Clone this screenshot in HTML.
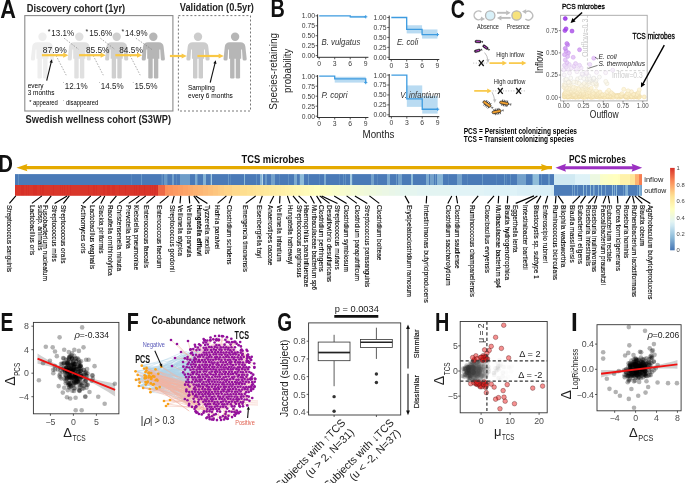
<!DOCTYPE html>
<html><head><meta charset="utf-8"><title>Figure</title><style>html,body{margin:0;padding:0;background:#fff;overflow:hidden;}svg{display:block;}text{font-family:"Liberation Sans",Arial,sans-serif;}</style></head><body>
<svg width="685" height="483" viewBox="0 0 685 483"><defs><linearGradient id="gin" gradientUnits="userSpaceOnUse" x1="15" y1="0" x2="642" y2="0"><stop offset="0.0000" stop-color="#4a7ab7"/><stop offset="0.0048" stop-color="#4a7ab7"/><stop offset="0.0048" stop-color="#6090c2"/><stop offset="0.0064" stop-color="#6090c2"/><stop offset="0.0064" stop-color="#4a7ab7"/><stop offset="0.1850" stop-color="#4a7ab7"/><stop offset="0.1850" stop-color="#5787bd"/><stop offset="0.1866" stop-color="#5787bd"/><stop offset="0.1866" stop-color="#4a7ab7"/><stop offset="0.2010" stop-color="#4a7ab7"/><stop offset="0.2010" stop-color="#6999c7"/><stop offset="0.2026" stop-color="#6999c7"/><stop offset="0.2026" stop-color="#4a7ab7"/><stop offset="0.2329" stop-color="#4a7ab7"/><stop offset="0.2329" stop-color="#5787bd"/><stop offset="0.2344" stop-color="#5787bd"/><stop offset="0.2344" stop-color="#6090c2"/><stop offset="0.2360" stop-color="#6090c2"/><stop offset="0.2360" stop-color="#4a7ab7"/><stop offset="0.2376" stop-color="#4a7ab7"/><stop offset="0.2376" stop-color="#6999c7"/><stop offset="0.2424" stop-color="#6999c7"/><stop offset="0.2424" stop-color="#5787bd"/><stop offset="0.2440" stop-color="#5787bd"/><stop offset="0.2440" stop-color="#4a7ab7"/><stop offset="0.2504" stop-color="#4a7ab7"/><stop offset="0.2504" stop-color="#73a1cb"/><stop offset="0.2536" stop-color="#73a1cb"/><stop offset="0.2536" stop-color="#4a7ab7"/><stop offset="0.2568" stop-color="#4a7ab7"/><stop offset="0.2568" stop-color="#5787bd"/><stop offset="0.2584" stop-color="#5787bd"/><stop offset="0.2584" stop-color="#4a7ab7"/><stop offset="0.2632" stop-color="#4a7ab7"/><stop offset="0.2632" stop-color="#6e9dc9"/><stop offset="0.2791" stop-color="#6e9dc9"/><stop offset="0.2791" stop-color="#4a7ab7"/><stop offset="0.2871" stop-color="#4a7ab7"/><stop offset="0.2871" stop-color="#7caad0"/><stop offset="0.2903" stop-color="#7caad0"/><stop offset="0.2903" stop-color="#6090c2"/><stop offset="0.2919" stop-color="#6090c2"/><stop offset="0.2919" stop-color="#4a7ab7"/><stop offset="0.2998" stop-color="#4a7ab7"/><stop offset="0.2998" stop-color="#85b3d5"/><stop offset="0.3046" stop-color="#85b3d5"/><stop offset="0.3046" stop-color="#4a7ab7"/><stop offset="0.3110" stop-color="#4a7ab7"/><stop offset="0.3110" stop-color="#6090c2"/><stop offset="0.3126" stop-color="#6090c2"/><stop offset="0.3126" stop-color="#a1c9e1"/><stop offset="0.3142" stop-color="#a1c9e1"/><stop offset="0.3142" stop-color="#4a7ab7"/><stop offset="0.3397" stop-color="#4a7ab7"/><stop offset="0.3397" stop-color="#6999c7"/><stop offset="0.3413" stop-color="#6999c7"/><stop offset="0.3413" stop-color="#4a7ab7"/><stop offset="0.3429" stop-color="#4a7ab7"/><stop offset="0.3429" stop-color="#5787bd"/><stop offset="0.3445" stop-color="#5787bd"/><stop offset="0.3445" stop-color="#4a7ab7"/><stop offset="0.3652" stop-color="#4a7ab7"/><stop offset="0.3652" stop-color="#8ebcd9"/><stop offset="0.3668" stop-color="#8ebcd9"/><stop offset="0.3668" stop-color="#4a7ab7"/><stop offset="0.3844" stop-color="#4a7ab7"/><stop offset="0.3844" stop-color="#6090c2"/><stop offset="0.3860" stop-color="#6090c2"/><stop offset="0.3860" stop-color="#4a7ab7"/><stop offset="0.3907" stop-color="#4a7ab7"/><stop offset="0.3907" stop-color="#85b3d5"/><stop offset="0.3939" stop-color="#85b3d5"/><stop offset="0.3939" stop-color="#b4d6e8"/><stop offset="0.3955" stop-color="#b4d6e8"/><stop offset="0.3955" stop-color="#4a7ab7"/><stop offset="0.3987" stop-color="#4a7ab7"/><stop offset="0.3987" stop-color="#6999c7"/><stop offset="0.4019" stop-color="#6999c7"/><stop offset="0.4019" stop-color="#4a7ab7"/><stop offset="0.4083" stop-color="#4a7ab7"/><stop offset="0.4083" stop-color="#73a1cb"/><stop offset="0.4147" stop-color="#73a1cb"/><stop offset="0.4147" stop-color="#4a7ab7"/><stop offset="0.4211" stop-color="#4a7ab7"/><stop offset="0.4211" stop-color="#5787bd"/><stop offset="0.4226" stop-color="#5787bd"/><stop offset="0.4226" stop-color="#4a7ab7"/><stop offset="0.4354" stop-color="#4a7ab7"/><stop offset="0.4354" stop-color="#6090c2"/><stop offset="0.4370" stop-color="#6090c2"/><stop offset="0.4370" stop-color="#4a7ab7"/><stop offset="0.4450" stop-color="#4a7ab7"/><stop offset="0.4450" stop-color="#7caad0"/><stop offset="0.4498" stop-color="#7caad0"/><stop offset="0.4498" stop-color="#4a7ab7"/><stop offset="0.4530" stop-color="#4a7ab7"/><stop offset="0.4530" stop-color="#5787bd"/><stop offset="0.4545" stop-color="#5787bd"/><stop offset="0.4545" stop-color="#8ebcd9"/><stop offset="0.4609" stop-color="#8ebcd9"/><stop offset="0.4609" stop-color="#4a7ab7"/><stop offset="0.4673" stop-color="#4a7ab7"/><stop offset="0.4673" stop-color="#6999c7"/><stop offset="0.4689" stop-color="#6999c7"/><stop offset="0.4689" stop-color="#4a7ab7"/><stop offset="0.4848" stop-color="#4a7ab7"/><stop offset="0.4848" stop-color="#5787bd"/><stop offset="0.4864" stop-color="#5787bd"/><stop offset="0.4864" stop-color="#4a7ab7"/><stop offset="0.4928" stop-color="#4a7ab7"/><stop offset="0.4928" stop-color="#7caad0"/><stop offset="0.4960" stop-color="#7caad0"/><stop offset="0.4960" stop-color="#4a7ab7"/><stop offset="0.5167" stop-color="#4a7ab7"/><stop offset="0.5167" stop-color="#5787bd"/><stop offset="0.5183" stop-color="#5787bd"/><stop offset="0.5183" stop-color="#4a7ab7"/><stop offset="0.5231" stop-color="#4a7ab7"/><stop offset="0.5231" stop-color="#6090c2"/><stop offset="0.5247" stop-color="#6090c2"/><stop offset="0.5247" stop-color="#4a7ab7"/><stop offset="0.5263" stop-color="#4a7ab7"/><stop offset="0.5263" stop-color="#6090c2"/><stop offset="0.5279" stop-color="#6090c2"/><stop offset="0.5279" stop-color="#4a7ab7"/><stop offset="0.5343" stop-color="#4a7ab7"/><stop offset="0.5343" stop-color="#a1c9e1"/><stop offset="0.5375" stop-color="#a1c9e1"/><stop offset="0.5375" stop-color="#5787bd"/><stop offset="0.5391" stop-color="#5787bd"/><stop offset="0.5391" stop-color="#4a7ab7"/><stop offset="0.5678" stop-color="#4a7ab7"/><stop offset="0.5678" stop-color="#73a1cb"/><stop offset="0.5726" stop-color="#73a1cb"/><stop offset="0.5726" stop-color="#4a7ab7"/><stop offset="0.5774" stop-color="#4a7ab7"/><stop offset="0.5774" stop-color="#5787bd"/><stop offset="0.5789" stop-color="#5787bd"/><stop offset="0.5789" stop-color="#4a7ab7"/><stop offset="0.5933" stop-color="#4a7ab7"/><stop offset="0.5933" stop-color="#7caad0"/><stop offset="0.5981" stop-color="#7caad0"/><stop offset="0.5981" stop-color="#4a7ab7"/><stop offset="0.6077" stop-color="#4a7ab7"/><stop offset="0.6077" stop-color="#6999c7"/><stop offset="0.6093" stop-color="#6999c7"/><stop offset="0.6093" stop-color="#4a7ab7"/><stop offset="0.6108" stop-color="#4a7ab7"/><stop offset="0.6108" stop-color="#73a1cb"/><stop offset="0.6172" stop-color="#73a1cb"/><stop offset="0.6172" stop-color="#4a7ab7"/><stop offset="0.6316" stop-color="#4a7ab7"/><stop offset="0.6316" stop-color="#8ebcd9"/><stop offset="0.6348" stop-color="#8ebcd9"/><stop offset="0.6348" stop-color="#4a7ab7"/><stop offset="0.6555" stop-color="#4a7ab7"/><stop offset="0.6555" stop-color="#7caad0"/><stop offset="0.6603" stop-color="#7caad0"/><stop offset="0.6603" stop-color="#4a7ab7"/><stop offset="0.6619" stop-color="#4a7ab7"/><stop offset="0.6619" stop-color="#73a1cb"/><stop offset="0.6683" stop-color="#73a1cb"/><stop offset="0.6683" stop-color="#4a7ab7"/><stop offset="0.6699" stop-color="#4a7ab7"/><stop offset="0.6699" stop-color="#6999c7"/><stop offset="0.6715" stop-color="#6999c7"/><stop offset="0.6715" stop-color="#4a7ab7"/><stop offset="0.6730" stop-color="#4a7ab7"/><stop offset="0.6730" stop-color="#85b3d5"/><stop offset="0.6826" stop-color="#85b3d5"/><stop offset="0.6826" stop-color="#4a7ab7"/><stop offset="0.6906" stop-color="#4a7ab7"/><stop offset="0.6906" stop-color="#5787bd"/><stop offset="0.6922" stop-color="#5787bd"/><stop offset="0.6922" stop-color="#4a7ab7"/><stop offset="0.7049" stop-color="#4a7ab7"/><stop offset="0.7049" stop-color="#73a1cb"/><stop offset="0.7129" stop-color="#73a1cb"/><stop offset="0.7129" stop-color="#4a7ab7"/><stop offset="0.7209" stop-color="#4a7ab7"/><stop offset="0.7209" stop-color="#5787bd"/><stop offset="0.7225" stop-color="#5787bd"/><stop offset="0.7225" stop-color="#4a7ab7"/><stop offset="0.7448" stop-color="#4a7ab7"/><stop offset="0.7448" stop-color="#6999c7"/><stop offset="0.7464" stop-color="#6999c7"/><stop offset="0.7464" stop-color="#4a7ab7"/><stop offset="0.7671" stop-color="#4a7ab7"/><stop offset="0.7671" stop-color="#5787bd"/><stop offset="0.7687" stop-color="#5787bd"/><stop offset="0.7687" stop-color="#4a7ab7"/><stop offset="0.7799" stop-color="#4a7ab7"/><stop offset="0.7799" stop-color="#6999c7"/><stop offset="0.7815" stop-color="#6999c7"/><stop offset="0.7815" stop-color="#4a7ab7"/><stop offset="0.7831" stop-color="#4a7ab7"/><stop offset="0.7831" stop-color="#5787bd"/><stop offset="0.7847" stop-color="#5787bd"/><stop offset="0.7847" stop-color="#4a7ab7"/><stop offset="0.7895" stop-color="#4a7ab7"/><stop offset="0.7895" stop-color="#6090c2"/><stop offset="0.7911" stop-color="#6090c2"/><stop offset="0.7911" stop-color="#4a7ab7"/><stop offset="0.8006" stop-color="#4a7ab7"/><stop offset="0.8006" stop-color="#73a1cb"/><stop offset="0.8150" stop-color="#73a1cb"/><stop offset="0.8150" stop-color="#4a7ab7"/><stop offset="0.8246" stop-color="#4a7ab7"/><stop offset="0.8246" stop-color="#6999c7"/><stop offset="0.8262" stop-color="#6999c7"/><stop offset="0.8262" stop-color="#8ebcd9"/><stop offset="0.8357" stop-color="#8ebcd9"/><stop offset="0.8357" stop-color="#4a7ab7"/><stop offset="0.8389" stop-color="#4a7ab7"/><stop offset="0.8389" stop-color="#6090c2"/><stop offset="0.8405" stop-color="#6090c2"/><stop offset="0.8405" stop-color="#4a7ab7"/><stop offset="0.8501" stop-color="#4a7ab7"/><stop offset="0.8501" stop-color="#6999c7"/><stop offset="0.8533" stop-color="#6999c7"/><stop offset="0.8533" stop-color="#4a7ab7"/><stop offset="0.8596" stop-color="#4a7ab7"/><stop offset="0.8596" stop-color="#d0e9f2"/><stop offset="0.8931" stop-color="#d0e9f2"/><stop offset="0.8931" stop-color="#def2f7"/><stop offset="0.9171" stop-color="#def2f7"/><stop offset="0.9171" stop-color="#ecf8e1"/><stop offset="0.9330" stop-color="#ecf8e1"/><stop offset="0.9330" stop-color="#f9fdc9"/><stop offset="0.9378" stop-color="#f9fdc9"/><stop offset="0.9378" stop-color="#fbfec6"/><stop offset="0.9458" stop-color="#fbfec6"/><stop offset="0.9458" stop-color="#fdfec2"/><stop offset="0.9537" stop-color="#fdfec2"/><stop offset="0.9537" stop-color="#ffffbf"/><stop offset="0.9617" stop-color="#ffffbf"/><stop offset="0.9617" stop-color="#fffdbc"/><stop offset="0.9649" stop-color="#fffdbc"/><stop offset="0.9649" stop-color="#fff2ab"/><stop offset="0.9809" stop-color="#fff2ab"/><stop offset="0.9809" stop-color="#fee598"/><stop offset="0.9888" stop-color="#fee598"/><stop offset="0.9888" stop-color="#fdb271"/><stop offset="0.9952" stop-color="#fdb271"/><stop offset="0.9952" stop-color="#f67e51"/><stop offset="1.0000" stop-color="#f67e51"/></linearGradient><linearGradient id="gout" gradientUnits="userSpaceOnUse" x1="15" y1="0" x2="642" y2="0"><stop offset="0.0000" stop-color="#d73027"/><stop offset="0.0016" stop-color="#d73027"/><stop offset="0.0016" stop-color="#d9362a"/><stop offset="0.0096" stop-color="#d9362a"/><stop offset="0.0096" stop-color="#d73027"/><stop offset="0.0144" stop-color="#d73027"/><stop offset="0.0144" stop-color="#d9362a"/><stop offset="0.0175" stop-color="#d9362a"/><stop offset="0.0175" stop-color="#d73027"/><stop offset="0.0191" stop-color="#d73027"/><stop offset="0.0191" stop-color="#d9362a"/><stop offset="0.0207" stop-color="#d9362a"/><stop offset="0.0207" stop-color="#d73027"/><stop offset="0.0223" stop-color="#d73027"/><stop offset="0.0223" stop-color="#d9362a"/><stop offset="0.0287" stop-color="#d9362a"/><stop offset="0.0287" stop-color="#d73027"/><stop offset="0.0351" stop-color="#d73027"/><stop offset="0.0351" stop-color="#d9362a"/><stop offset="0.0399" stop-color="#d9362a"/><stop offset="0.0399" stop-color="#d73027"/><stop offset="0.0415" stop-color="#d73027"/><stop offset="0.0415" stop-color="#d9362a"/><stop offset="0.0431" stop-color="#d9362a"/><stop offset="0.0431" stop-color="#d73027"/><stop offset="0.0463" stop-color="#d73027"/><stop offset="0.0463" stop-color="#d9362a"/><stop offset="0.0606" stop-color="#d9362a"/><stop offset="0.0606" stop-color="#d73027"/><stop offset="0.0622" stop-color="#d73027"/><stop offset="0.0622" stop-color="#d9362a"/><stop offset="0.0718" stop-color="#d9362a"/><stop offset="0.0718" stop-color="#d73027"/><stop offset="0.0734" stop-color="#d73027"/><stop offset="0.0734" stop-color="#d9362a"/><stop offset="0.0750" stop-color="#d9362a"/><stop offset="0.0750" stop-color="#d73027"/><stop offset="0.0766" stop-color="#d73027"/><stop offset="0.0766" stop-color="#d9362a"/><stop offset="0.0781" stop-color="#d9362a"/><stop offset="0.0781" stop-color="#d73027"/><stop offset="0.0797" stop-color="#d73027"/><stop offset="0.0797" stop-color="#d9362a"/><stop offset="0.0829" stop-color="#d9362a"/><stop offset="0.0829" stop-color="#d73027"/><stop offset="0.0845" stop-color="#d73027"/><stop offset="0.0845" stop-color="#d9362a"/><stop offset="0.0877" stop-color="#d9362a"/><stop offset="0.0877" stop-color="#d73027"/><stop offset="0.0893" stop-color="#d73027"/><stop offset="0.0893" stop-color="#d9362a"/><stop offset="0.1164" stop-color="#d9362a"/><stop offset="0.1164" stop-color="#d73027"/><stop offset="0.1180" stop-color="#d73027"/><stop offset="0.1180" stop-color="#d9362a"/><stop offset="0.1244" stop-color="#d9362a"/><stop offset="0.1244" stop-color="#d73027"/><stop offset="0.1276" stop-color="#d73027"/><stop offset="0.1276" stop-color="#d9362a"/><stop offset="0.1292" stop-color="#d9362a"/><stop offset="0.1292" stop-color="#d73027"/><stop offset="0.1308" stop-color="#d73027"/><stop offset="0.1308" stop-color="#d9362a"/><stop offset="0.1404" stop-color="#d9362a"/><stop offset="0.1404" stop-color="#d73027"/><stop offset="0.1435" stop-color="#d73027"/><stop offset="0.1435" stop-color="#d9362a"/><stop offset="0.1467" stop-color="#d9362a"/><stop offset="0.1467" stop-color="#d73027"/><stop offset="0.1515" stop-color="#d73027"/><stop offset="0.1515" stop-color="#d9362a"/><stop offset="0.1547" stop-color="#d9362a"/><stop offset="0.1547" stop-color="#d73027"/><stop offset="0.1595" stop-color="#d73027"/><stop offset="0.1595" stop-color="#d9362a"/><stop offset="0.1659" stop-color="#d9362a"/><stop offset="0.1659" stop-color="#d73027"/><stop offset="0.1675" stop-color="#d73027"/><stop offset="0.1675" stop-color="#d9362a"/><stop offset="0.1754" stop-color="#d9362a"/><stop offset="0.1754" stop-color="#d73027"/><stop offset="0.1770" stop-color="#d73027"/><stop offset="0.1770" stop-color="#d9362a"/><stop offset="0.1898" stop-color="#d9362a"/><stop offset="0.1898" stop-color="#d73027"/><stop offset="0.1914" stop-color="#d73027"/><stop offset="0.1914" stop-color="#d9362a"/><stop offset="0.1930" stop-color="#d9362a"/><stop offset="0.1930" stop-color="#d73027"/><stop offset="0.1946" stop-color="#d73027"/><stop offset="0.1946" stop-color="#d9362a"/><stop offset="0.1978" stop-color="#d9362a"/><stop offset="0.1978" stop-color="#d73027"/><stop offset="0.1994" stop-color="#d73027"/><stop offset="0.1994" stop-color="#d9362a"/><stop offset="0.2057" stop-color="#d9362a"/><stop offset="0.2057" stop-color="#d73027"/><stop offset="0.2073" stop-color="#d73027"/><stop offset="0.2073" stop-color="#d9362a"/><stop offset="0.2153" stop-color="#d9362a"/><stop offset="0.2153" stop-color="#d73027"/><stop offset="0.2169" stop-color="#d73027"/><stop offset="0.2169" stop-color="#d9362a"/><stop offset="0.2185" stop-color="#d9362a"/><stop offset="0.2185" stop-color="#d73027"/><stop offset="0.2201" stop-color="#d73027"/><stop offset="0.2201" stop-color="#d9362a"/><stop offset="0.2217" stop-color="#d9362a"/><stop offset="0.2217" stop-color="#d73027"/><stop offset="0.2249" stop-color="#d73027"/><stop offset="0.2249" stop-color="#d9362a"/><stop offset="0.2265" stop-color="#d9362a"/><stop offset="0.2265" stop-color="#d73027"/><stop offset="0.2281" stop-color="#d73027"/><stop offset="0.2281" stop-color="#ed6845"/><stop offset="0.2392" stop-color="#ed6845"/><stop offset="0.2392" stop-color="#fc8f5a"/><stop offset="0.2440" stop-color="#fc8f5a"/><stop offset="0.2440" stop-color="#fc945d"/><stop offset="0.2520" stop-color="#fc945d"/><stop offset="0.2520" stop-color="#fc9961"/><stop offset="0.2600" stop-color="#fc9961"/><stop offset="0.2600" stop-color="#fc9e64"/><stop offset="0.2679" stop-color="#fc9e64"/><stop offset="0.2679" stop-color="#fda367"/><stop offset="0.2759" stop-color="#fda367"/><stop offset="0.2759" stop-color="#fda86b"/><stop offset="0.2791" stop-color="#fda86b"/><stop offset="0.2791" stop-color="#fdad6e"/><stop offset="0.2839" stop-color="#fdad6e"/><stop offset="0.2839" stop-color="#fdb271"/><stop offset="0.2919" stop-color="#fdb271"/><stop offset="0.2919" stop-color="#fdb674"/><stop offset="0.2998" stop-color="#fdb674"/><stop offset="0.2998" stop-color="#fdbb78"/><stop offset="0.3078" stop-color="#fdbb78"/><stop offset="0.3078" stop-color="#fdc07b"/><stop offset="0.3158" stop-color="#fdc07b"/><stop offset="0.3158" stop-color="#fdc57e"/><stop offset="0.3238" stop-color="#fdc57e"/><stop offset="0.3238" stop-color="#fdca82"/><stop offset="0.3270" stop-color="#fdca82"/><stop offset="0.3270" stop-color="#fecf85"/><stop offset="0.3333" stop-color="#fecf85"/><stop offset="0.3333" stop-color="#fed488"/><stop offset="0.3461" stop-color="#fed488"/><stop offset="0.3461" stop-color="#fed98c"/><stop offset="0.3589" stop-color="#fed98c"/><stop offset="0.3589" stop-color="#fede8f"/><stop offset="0.3700" stop-color="#fede8f"/><stop offset="0.3700" stop-color="#fee192"/><stop offset="0.3796" stop-color="#fee192"/><stop offset="0.3796" stop-color="#fee395"/><stop offset="0.3844" stop-color="#fee395"/><stop offset="0.3844" stop-color="#fee598"/><stop offset="0.3923" stop-color="#fee598"/><stop offset="0.3923" stop-color="#fee79a"/><stop offset="0.3971" stop-color="#fee79a"/><stop offset="0.3971" stop-color="#fee99d"/><stop offset="0.4051" stop-color="#fee99d"/><stop offset="0.4051" stop-color="#feeba0"/><stop offset="0.4099" stop-color="#feeba0"/><stop offset="0.4099" stop-color="#feeca3"/><stop offset="0.4163" stop-color="#feeca3"/><stop offset="0.4163" stop-color="#feeea6"/><stop offset="0.4242" stop-color="#feeea6"/><stop offset="0.4242" stop-color="#fff0a8"/><stop offset="0.4306" stop-color="#fff0a8"/><stop offset="0.4306" stop-color="#fff2ab"/><stop offset="0.4370" stop-color="#fff2ab"/><stop offset="0.4370" stop-color="#fff4ae"/><stop offset="0.4434" stop-color="#fff4ae"/><stop offset="0.4434" stop-color="#fff6b1"/><stop offset="0.4482" stop-color="#fff6b1"/><stop offset="0.4482" stop-color="#fff8b4"/><stop offset="0.4561" stop-color="#fff8b4"/><stop offset="0.4561" stop-color="#fff9b7"/><stop offset="0.4609" stop-color="#fff9b7"/><stop offset="0.4609" stop-color="#fffbb9"/><stop offset="0.4689" stop-color="#fffbb9"/><stop offset="0.4689" stop-color="#fffdbc"/><stop offset="0.4769" stop-color="#fffdbc"/><stop offset="0.4769" stop-color="#ffffbf"/><stop offset="0.4864" stop-color="#ffffbf"/><stop offset="0.4864" stop-color="#fdfec2"/><stop offset="0.4960" stop-color="#fdfec2"/><stop offset="0.4960" stop-color="#fbfec6"/><stop offset="0.5056" stop-color="#fbfec6"/><stop offset="0.5056" stop-color="#f9fdc9"/><stop offset="0.5167" stop-color="#f9fdc9"/><stop offset="0.5167" stop-color="#f8fccd"/><stop offset="0.5263" stop-color="#f8fccd"/><stop offset="0.5263" stop-color="#f6fbd0"/><stop offset="0.5359" stop-color="#f6fbd0"/><stop offset="0.5359" stop-color="#f4fbd4"/><stop offset="0.5455" stop-color="#f4fbd4"/><stop offset="0.5455" stop-color="#f2fad7"/><stop offset="0.5566" stop-color="#f2fad7"/><stop offset="0.5566" stop-color="#f0f9da"/><stop offset="0.5662" stop-color="#f0f9da"/><stop offset="0.5662" stop-color="#eef9de"/><stop offset="0.5758" stop-color="#eef9de"/><stop offset="0.5758" stop-color="#ecf8e1"/><stop offset="0.5853" stop-color="#ecf8e1"/><stop offset="0.5853" stop-color="#ebf7e5"/><stop offset="0.5965" stop-color="#ebf7e5"/><stop offset="0.5965" stop-color="#e9f6e8"/><stop offset="0.6061" stop-color="#e9f6e8"/><stop offset="0.6061" stop-color="#e7f6eb"/><stop offset="0.6140" stop-color="#e7f6eb"/><stop offset="0.6140" stop-color="#e5f5ef"/><stop offset="0.6411" stop-color="#e5f5ef"/><stop offset="0.6411" stop-color="#e3f4f2"/><stop offset="0.6938" stop-color="#e3f4f2"/><stop offset="0.6938" stop-color="#e1f3f6"/><stop offset="0.7480" stop-color="#e1f3f6"/><stop offset="0.7480" stop-color="#def2f7"/><stop offset="0.8006" stop-color="#def2f7"/><stop offset="0.8006" stop-color="#daeff6"/><stop offset="0.8549" stop-color="#daeff6"/><stop offset="0.8549" stop-color="#d5ecf4"/><stop offset="0.8596" stop-color="#d5ecf4"/><stop offset="0.8596" stop-color="#4c7cb8"/><stop offset="0.8884" stop-color="#4c7cb8"/><stop offset="0.8884" stop-color="#73a1cb"/><stop offset="0.8900" stop-color="#73a1cb"/><stop offset="0.8900" stop-color="#4c7cb8"/><stop offset="0.8915" stop-color="#4c7cb8"/><stop offset="0.8915" stop-color="#73a1cb"/><stop offset="0.8931" stop-color="#73a1cb"/><stop offset="0.8931" stop-color="#4c7cb8"/><stop offset="0.8963" stop-color="#4c7cb8"/><stop offset="0.8963" stop-color="#6999c7"/><stop offset="0.8979" stop-color="#6999c7"/><stop offset="0.8979" stop-color="#4c7cb8"/><stop offset="0.9059" stop-color="#4c7cb8"/><stop offset="0.9059" stop-color="#8ebcd9"/><stop offset="0.9075" stop-color="#8ebcd9"/><stop offset="0.9075" stop-color="#4c7cb8"/><stop offset="0.9107" stop-color="#4c7cb8"/><stop offset="0.9107" stop-color="#7caad0"/><stop offset="0.9123" stop-color="#7caad0"/><stop offset="0.9123" stop-color="#4c7cb8"/><stop offset="0.9171" stop-color="#4c7cb8"/><stop offset="0.9171" stop-color="#8ebcd9"/><stop offset="0.9187" stop-color="#8ebcd9"/><stop offset="0.9187" stop-color="#4c7cb8"/><stop offset="0.9219" stop-color="#4c7cb8"/><stop offset="0.9219" stop-color="#7caad0"/><stop offset="0.9234" stop-color="#7caad0"/><stop offset="0.9234" stop-color="#6999c7"/><stop offset="0.9250" stop-color="#6999c7"/><stop offset="0.9250" stop-color="#4c7cb8"/><stop offset="0.9298" stop-color="#4c7cb8"/><stop offset="0.9298" stop-color="#85b3d5"/><stop offset="0.9314" stop-color="#85b3d5"/><stop offset="0.9314" stop-color="#4c7cb8"/><stop offset="0.9346" stop-color="#4c7cb8"/><stop offset="0.9346" stop-color="#85b3d5"/><stop offset="0.9362" stop-color="#85b3d5"/><stop offset="0.9362" stop-color="#4c7cb8"/><stop offset="0.9410" stop-color="#4c7cb8"/><stop offset="0.9410" stop-color="#73a1cb"/><stop offset="0.9426" stop-color="#73a1cb"/><stop offset="0.9426" stop-color="#4c7cb8"/><stop offset="0.9522" stop-color="#4c7cb8"/><stop offset="0.9522" stop-color="#8ebcd9"/><stop offset="0.9537" stop-color="#8ebcd9"/><stop offset="0.9537" stop-color="#4c7cb8"/><stop offset="0.9553" stop-color="#4c7cb8"/><stop offset="0.9553" stop-color="#7caad0"/><stop offset="0.9569" stop-color="#7caad0"/><stop offset="0.9569" stop-color="#4c7cb8"/><stop offset="0.9585" stop-color="#4c7cb8"/><stop offset="0.9585" stop-color="#8ebcd9"/><stop offset="0.9601" stop-color="#8ebcd9"/><stop offset="0.9601" stop-color="#4c7cb8"/><stop offset="0.9697" stop-color="#4c7cb8"/><stop offset="0.9697" stop-color="#6999c7"/><stop offset="0.9713" stop-color="#6999c7"/><stop offset="0.9713" stop-color="#4c7cb8"/><stop offset="0.9729" stop-color="#4c7cb8"/><stop offset="0.9729" stop-color="#7caad0"/><stop offset="0.9745" stop-color="#7caad0"/><stop offset="0.9745" stop-color="#85b3d5"/><stop offset="0.9777" stop-color="#85b3d5"/><stop offset="0.9777" stop-color="#4c7cb8"/><stop offset="0.9920" stop-color="#4c7cb8"/><stop offset="0.9920" stop-color="#6999c7"/><stop offset="0.9936" stop-color="#6999c7"/><stop offset="0.9936" stop-color="#4c7cb8"/><stop offset="0.9952" stop-color="#4c7cb8"/><stop offset="0.9952" stop-color="#8ebcd9"/><stop offset="0.9968" stop-color="#8ebcd9"/><stop offset="0.9968" stop-color="#7caad0"/><stop offset="0.9984" stop-color="#7caad0"/><stop offset="0.9984" stop-color="#73a1cb"/><stop offset="1.0000" stop-color="#73a1cb"/></linearGradient><linearGradient id="gcb" x1="0" y1="1" x2="0" y2="0"><stop offset="0" stop-color="#4575b4"/><stop offset="0.05" stop-color="#5c8bc0"/><stop offset="0.1" stop-color="#73a1cb"/><stop offset="0.15" stop-color="#89b8d7"/><stop offset="0.2" stop-color="#a1c9e1"/><stop offset="0.25" stop-color="#b8d9ea"/><stop offset="0.3" stop-color="#d0e9f2"/><stop offset="0.35" stop-color="#e3f4f2"/><stop offset="0.4" stop-color="#ecf8e1"/><stop offset="0.45" stop-color="#f6fbd0"/><stop offset="0.5" stop-color="#ffffbf"/><stop offset="0.55" stop-color="#fff6b1"/><stop offset="0.6" stop-color="#feeca3"/><stop offset="0.65" stop-color="#fee395"/><stop offset="0.7" stop-color="#fecf85"/><stop offset="0.75" stop-color="#fdb674"/><stop offset="0.8" stop-color="#fc9e64"/><stop offset="0.85" stop-color="#f88454"/><stop offset="0.9" stop-color="#ed6845"/><stop offset="0.95" stop-color="#e24c36"/><stop offset="1" stop-color="#d73027"/></linearGradient></defs><text x="0.25" y="17.7" font-size="25.22" fill="#111" font-weight="bold" textLength="15.65" lengthAdjust="spacingAndGlyphs">A</text>
<text x="26.7" y="11.6" font-size="11.3" fill="#222" font-weight="bold" textLength="98.5" lengthAdjust="spacingAndGlyphs">Discovery cohort (1yr)</text>
<text x="179.8" y="11.4" font-size="11.3" fill="#222" font-weight="bold" textLength="74.1" lengthAdjust="spacingAndGlyphs">Validation (0.5yr)</text>
<text x="25.5" y="123.2" font-size="11" fill="#222" font-weight="bold" textLength="145.5" lengthAdjust="spacingAndGlyphs">Swedish wellness cohort (S3WP)</text>
<rect x="24.8" y="15.6" width="148.1" height="95.4" fill="none" stroke="#8a8a8a" stroke-width="1.1"/>
<rect x="178.4" y="15.6" width="72.1" height="95.4" fill="none" stroke="#555" stroke-width="0.8" stroke-dasharray="2 2"/>
<g fill="#eeeeee"><circle cx="42.5" cy="36.8" r="4.2"/><path d="M37.3 42.2H47.7Q52.4 42.2 52.8 46.8L54.1 58.9Q54.1 60.5 52.5 60.5H51.5Q50.1 60.5 50 59L49.4 49.5H48.6V58.8H36.4V49.5H35.6L35 59Q34.9 60.5 33.5 60.5H32.5Q30.9 60.5 30.9 58.9L32.2 46.8Q32.6 42.2 37.3 42.2Z"/><rect x="37.5" y="56" width="4.4" height="22.4" rx="1.2"/><rect x="43.1" y="56" width="4.4" height="22.4" rx="1.2"/></g>
<g fill="#e0e0e0"><circle cx="79.3" cy="36.8" r="4.2"/><path d="M74.1 42.2H84.5Q89.2 42.2 89.6 46.8L90.9 58.9Q90.9 60.5 89.3 60.5H88.3Q86.9 60.5 86.8 59L86.2 49.5H85.4V58.8H73.2V49.5H72.4L71.8 59Q71.7 60.5 70.3 60.5H69.3Q67.7 60.5 67.7 58.9L69 46.8Q69.4 42.2 74.1 42.2Z"/><rect x="74.3" y="56" width="4.4" height="22.4" rx="1.2"/><rect x="79.9" y="56" width="4.4" height="22.4" rx="1.2"/></g>
<g fill="#cfcfcf"><circle cx="116.7" cy="36.8" r="4.2"/><path d="M111.5 42.2H121.9Q126.6 42.2 127 46.8L128.3 58.9Q128.3 60.5 126.7 60.5H125.7Q124.3 60.5 124.2 59L123.6 49.5H122.8V58.8H110.6V49.5H109.8L109.2 59Q109.1 60.5 107.7 60.5H106.7Q105.1 60.5 105.1 58.9L106.4 46.8Q106.8 42.2 111.5 42.2Z"/><rect x="111.7" y="56" width="4.4" height="22.4" rx="1.2"/><rect x="117.3" y="56" width="4.4" height="22.4" rx="1.2"/></g>
<g fill="#b6b6b6"><circle cx="153.3" cy="36.8" r="4.2"/><path d="M148.1 42.2H158.5Q163.2 42.2 163.6 46.8L164.9 58.9Q164.9 60.5 163.3 60.5H162.3Q160.9 60.5 160.8 59L160.2 49.5H159.4V58.8H147.2V49.5H146.4L145.8 59Q145.7 60.5 144.3 60.5H143.3Q141.7 60.5 141.7 58.9L143 46.8Q143.4 42.2 148.1 42.2Z"/><rect x="148.3" y="56" width="4.4" height="22.4" rx="1.2"/><rect x="153.9" y="56" width="4.4" height="22.4" rx="1.2"/></g>
<g fill="#cccccc"><circle cx="198" cy="36.8" r="4.2"/><path d="M192.8 42.2H203.2Q207.9 42.2 208.3 46.8L209.6 58.9Q209.6 60.5 208 60.5H207Q205.6 60.5 205.5 59L204.9 49.5H204.1V58.8H191.9V49.5H191.1L190.5 59Q190.4 60.5 189 60.5H188Q186.4 60.5 186.4 58.9L187.7 46.8Q188.1 42.2 192.8 42.2Z"/><rect x="193" y="56" width="4.4" height="22.4" rx="1.2"/><rect x="198.6" y="56" width="4.4" height="22.4" rx="1.2"/></g>
<g fill="#b6b6b6"><circle cx="235.1" cy="36.8" r="4.2"/><path d="M229.9 42.2H240.3Q245 42.2 245.4 46.8L246.7 58.9Q246.7 60.5 245.1 60.5H244.1Q242.7 60.5 242.6 59L242 49.5H241.2V58.8H229V49.5H228.2L227.6 59Q227.5 60.5 226.1 60.5H225.1Q223.5 60.5 223.5 58.9L224.8 46.8Q225.2 42.2 229.9 42.2Z"/><rect x="230.1" y="56" width="4.4" height="22.4" rx="1.2"/><rect x="235.7" y="56" width="4.4" height="22.4" rx="1.2"/></g>
<line x1="64.1" y1="38.2" x2="78.7" y2="49.4" stroke="#777" stroke-width="0.6" stroke-dasharray="1.6 1.4"/>
<line x1="100.4" y1="38.2" x2="114.9" y2="49.4" stroke="#777" stroke-width="0.6" stroke-dasharray="1.6 1.4"/>
<line x1="135.9" y1="38.2" x2="151.8" y2="49.4" stroke="#777" stroke-width="0.6" stroke-dasharray="1.6 1.4"/>
<line x1="56" y1="55.4" x2="66.2" y2="75.2" stroke="#777" stroke-width="0.6" stroke-dasharray="1.6 1.4"/>
<line x1="93.1" y1="55.4" x2="103.3" y2="75.2" stroke="#777" stroke-width="0.6" stroke-dasharray="1.6 1.4"/>
<line x1="130" y1="55.4" x2="140.2" y2="75.2" stroke="#777" stroke-width="0.6" stroke-dasharray="1.6 1.4"/>
<line x1="41.9" y1="55.2" x2="63.7" y2="55.2" stroke="#f9c846" stroke-width="2.2"/>
<path d="M68.4 55.2L63.2 57.8L63.2 52.6Z" fill="#f9c846"/>
<line x1="79" y1="55.2" x2="101.1" y2="55.2" stroke="#f9c846" stroke-width="2.2"/>
<path d="M105.8 55.2L100.6 57.8L100.6 52.6Z" fill="#f9c846"/>
<line x1="115.3" y1="55.2" x2="137.5" y2="55.2" stroke="#f9c846" stroke-width="2.2"/>
<path d="M142.2 55.2L137 57.8L137 52.6Z" fill="#f9c846"/>
<line x1="169.9" y1="56" x2="182.1" y2="56" stroke="#f9c846" stroke-width="2.2"/>
<path d="M186.8 56L181.6 58.6L181.6 53.4Z" fill="#f9c846"/>
<line x1="197.4" y1="56" x2="219.1" y2="56" stroke="#f9c846" stroke-width="2.2"/>
<path d="M223.8 56L218.6 58.6L218.6 53.4Z" fill="#f9c846"/>
<text x="51.3" y="36.3" font-size="8.9" fill="#1e1e1e" textLength="22.8" lengthAdjust="spacingAndGlyphs">13.1%</text>
<text x="47.7" y="34" font-size="7" fill="#1e1e1e">*</text>
<text x="89.2" y="36.3" font-size="8.9" fill="#1e1e1e" textLength="23.2" lengthAdjust="spacingAndGlyphs">15.6%</text>
<text x="85.6" y="34" font-size="7" fill="#1e1e1e">*</text>
<text x="125" y="36.3" font-size="8.9" fill="#1e1e1e" textLength="22.5" lengthAdjust="spacingAndGlyphs">14.9%</text>
<text x="121.4" y="34" font-size="7" fill="#1e1e1e">*</text>
<text x="42.8" y="52.8" font-size="8.9" fill="#1e1e1e" textLength="24" lengthAdjust="spacingAndGlyphs">87.9%</text>
<text x="85.9" y="52.8" font-size="8.9" fill="#1e1e1e" textLength="23.6" lengthAdjust="spacingAndGlyphs">85.5%</text>
<text x="119.2" y="52.8" font-size="8.9" fill="#1e1e1e" textLength="23.6" lengthAdjust="spacingAndGlyphs">84.5%</text>
<text x="64.8" y="88.8" font-size="8.9" fill="#1e1e1e" textLength="22.9" lengthAdjust="spacingAndGlyphs">12.1%</text>
<text x="62.6" y="85.6" font-size="5" fill="#1e1e1e">ˈ</text>
<text x="100.8" y="88.8" font-size="8.9" fill="#1e1e1e" textLength="22.8" lengthAdjust="spacingAndGlyphs">14.5%</text>
<text x="98.6" y="85.6" font-size="5" fill="#1e1e1e">ˈ</text>
<text x="134.4" y="88.8" font-size="8.9" fill="#1e1e1e" textLength="23.2" lengthAdjust="spacingAndGlyphs">15.5%</text>
<text x="132.2" y="85.6" font-size="5" fill="#1e1e1e">ˈ</text>
<line x1="46.7" y1="80.6" x2="51.21" y2="62.12" stroke="#111" stroke-width="1.1"/>
<path d="M51.9 59.3L52.65 62.98L49.54 62.22Z" fill="#111"/>
<line x1="210.2" y1="82.6" x2="215.01" y2="63.12" stroke="#111" stroke-width="1.1"/>
<path d="M215.7 60.3L216.44 63.98L213.33 63.22Z" fill="#111"/>
<text x="27.7" y="87.5" font-size="7.2" textLength="15.9" lengthAdjust="spacingAndGlyphs">every</text>
<text x="27.7" y="95" font-size="7.2" textLength="26.7" lengthAdjust="spacingAndGlyphs">3 months</text>
<text x="29.2" y="104.2" font-size="5.6">*</text>
<text x="33" y="105.3" font-size="7.2" textLength="24.9" lengthAdjust="spacingAndGlyphs">appeared</text>
<text x="62.6" y="103.6" font-size="4.5">ˈ</text>
<text x="66" y="105.3" font-size="7.2" textLength="32.3" lengthAdjust="spacingAndGlyphs">disappeared</text>
<text x="188" y="90.3" font-size="7.2" textLength="26.7" lengthAdjust="spacingAndGlyphs">Sampling</text>
<text x="188" y="97.6" font-size="7.2" textLength="44.8" lengthAdjust="spacingAndGlyphs">every 6 months</text>
<text x="270.41" y="17.4" font-size="24.93" fill="#111" font-weight="bold" textLength="14.33" lengthAdjust="spacingAndGlyphs">B</text>
<text transform="translate(277.2,71.3) rotate(-90)" font-size="11" fill="#222" text-anchor="middle" textLength="76.7" lengthAdjust="spacingAndGlyphs">Species-retaining</text>
<text transform="translate(290.6,70.8) rotate(-90)" font-size="11" fill="#222" text-anchor="middle" textLength="44.3" lengthAdjust="spacingAndGlyphs">probability</text>
<rect x="350.22" y="15.8" width="15.51" height="1.99" fill="#b9dbf2"/>
<path d="M319.2 15.8H350.22V16.8H365.73" fill="none" stroke="#3d9be0" stroke-width="1.3"/>
<line x1="364.13" y1="16.8" x2="367.33" y2="16.8" stroke="#3d9be0" stroke-width="1"/>
<line x1="365.73" y1="15.2" x2="365.73" y2="18.4" stroke="#3d9be0" stroke-width="1"/>
<line x1="317.6" y1="14.4" x2="317.6" y2="57.8" stroke="#333" stroke-width="1"/>
<line x1="317.1" y1="57.3" x2="368.4" y2="57.3" stroke="#333" stroke-width="1"/>
<line x1="315.6" y1="55.6" x2="317.6" y2="55.6" stroke="#333" stroke-width="0.8"/>
<text x="315" y="58" font-size="6.8" fill="#3a3a3a" text-anchor="end" textLength="13.2" lengthAdjust="spacingAndGlyphs">0.00</text>
<line x1="315.6" y1="45.65" x2="317.6" y2="45.65" stroke="#333" stroke-width="0.8"/>
<text x="315" y="48.05" font-size="6.8" fill="#3a3a3a" text-anchor="end" textLength="13.2" lengthAdjust="spacingAndGlyphs">0.25</text>
<line x1="315.6" y1="35.7" x2="317.6" y2="35.7" stroke="#333" stroke-width="0.8"/>
<text x="315" y="38.1" font-size="6.8" fill="#3a3a3a" text-anchor="end" textLength="13.2" lengthAdjust="spacingAndGlyphs">0.50</text>
<line x1="315.6" y1="25.75" x2="317.6" y2="25.75" stroke="#333" stroke-width="0.8"/>
<text x="315" y="28.15" font-size="6.8" fill="#3a3a3a" text-anchor="end" textLength="13.2" lengthAdjust="spacingAndGlyphs">0.75</text>
<line x1="315.6" y1="15.8" x2="317.6" y2="15.8" stroke="#333" stroke-width="0.8"/>
<text x="315" y="18.2" font-size="6.8" fill="#3a3a3a" text-anchor="end" textLength="13.2" lengthAdjust="spacingAndGlyphs">1.00</text>
<line x1="319.2" y1="57.3" x2="319.2" y2="59.3" stroke="#333" stroke-width="0.8"/>
<text x="319.2" y="65.5" font-size="6.8" fill="#3a3a3a" text-anchor="middle">0</text>
<line x1="334.71" y1="57.3" x2="334.71" y2="59.3" stroke="#333" stroke-width="0.8"/>
<text x="334.71" y="65.5" font-size="6.8" fill="#3a3a3a" text-anchor="middle">3</text>
<line x1="350.22" y1="57.3" x2="350.22" y2="59.3" stroke="#333" stroke-width="0.8"/>
<text x="350.22" y="65.5" font-size="6.8" fill="#3a3a3a" text-anchor="middle">6</text>
<line x1="365.73" y1="57.3" x2="365.73" y2="59.3" stroke="#333" stroke-width="0.8"/>
<text x="365.73" y="65.5" font-size="6.8" fill="#3a3a3a" text-anchor="middle">9</text>
<text x="321.5" y="44.7" font-size="8.4" fill="#333" font-style="italic" textLength="38.8" lengthAdjust="spacingAndGlyphs">B. vulgatus</text>
<rect x="406.69" y="25.26" width="15.39" height="8.16" fill="#b9dbf2"/>
<rect x="422.08" y="29.44" width="15.39" height="9.15" fill="#b9dbf2"/>
<path d="M391.3 17.5H406.69V29.44H422.08V34.61H437.47" fill="none" stroke="#3d9be0" stroke-width="1.3"/>
<line x1="435.87" y1="34.61" x2="439.07" y2="34.61" stroke="#3d9be0" stroke-width="1"/>
<line x1="437.47" y1="33.01" x2="437.47" y2="36.21" stroke="#3d9be0" stroke-width="1"/>
<line x1="389.2" y1="15.5" x2="389.2" y2="60" stroke="#333" stroke-width="1"/>
<line x1="388.7" y1="59.5" x2="439.3" y2="59.5" stroke="#333" stroke-width="1"/>
<line x1="387.2" y1="57.3" x2="389.2" y2="57.3" stroke="#333" stroke-width="0.8"/>
<text x="386.6" y="59.7" font-size="6.8" fill="#3a3a3a" text-anchor="end" textLength="13.2" lengthAdjust="spacingAndGlyphs">0.00</text>
<line x1="387.2" y1="47.35" x2="389.2" y2="47.35" stroke="#333" stroke-width="0.8"/>
<text x="386.6" y="49.75" font-size="6.8" fill="#3a3a3a" text-anchor="end" textLength="13.2" lengthAdjust="spacingAndGlyphs">0.25</text>
<line x1="387.2" y1="37.4" x2="389.2" y2="37.4" stroke="#333" stroke-width="0.8"/>
<text x="386.6" y="39.8" font-size="6.8" fill="#3a3a3a" text-anchor="end" textLength="13.2" lengthAdjust="spacingAndGlyphs">0.50</text>
<line x1="387.2" y1="27.45" x2="389.2" y2="27.45" stroke="#333" stroke-width="0.8"/>
<text x="386.6" y="29.85" font-size="6.8" fill="#3a3a3a" text-anchor="end" textLength="13.2" lengthAdjust="spacingAndGlyphs">0.75</text>
<line x1="387.2" y1="17.5" x2="389.2" y2="17.5" stroke="#333" stroke-width="0.8"/>
<text x="386.6" y="19.9" font-size="6.8" fill="#3a3a3a" text-anchor="end" textLength="13.2" lengthAdjust="spacingAndGlyphs">1.00</text>
<line x1="391.3" y1="59.5" x2="391.3" y2="61.5" stroke="#333" stroke-width="0.8"/>
<text x="391.3" y="67.7" font-size="6.8" fill="#3a3a3a" text-anchor="middle">0</text>
<line x1="406.69" y1="59.5" x2="406.69" y2="61.5" stroke="#333" stroke-width="0.8"/>
<text x="406.69" y="67.7" font-size="6.8" fill="#3a3a3a" text-anchor="middle">3</text>
<line x1="422.08" y1="59.5" x2="422.08" y2="61.5" stroke="#333" stroke-width="0.8"/>
<text x="422.08" y="67.7" font-size="6.8" fill="#3a3a3a" text-anchor="middle">6</text>
<line x1="437.47" y1="59.5" x2="437.47" y2="61.5" stroke="#333" stroke-width="0.8"/>
<text x="437.47" y="67.7" font-size="6.8" fill="#3a3a3a" text-anchor="middle">9</text>
<text x="396.9" y="45" font-size="8.4" fill="#333" font-style="italic" textLength="21.3" lengthAdjust="spacingAndGlyphs">E. coli</text>
<rect x="334.71" y="76.8" width="31.02" height="5.8" fill="#b9dbf2"/>
<path d="M319.2 76.2H334.71V78.8H365.73V82.6H365.73" fill="none" stroke="#3d9be0" stroke-width="1.3"/>
<line x1="364.13" y1="82.6" x2="367.33" y2="82.6" stroke="#3d9be0" stroke-width="1"/>
<line x1="365.73" y1="81" x2="365.73" y2="84.2" stroke="#3d9be0" stroke-width="1"/>
<line x1="317.6" y1="75" x2="317.6" y2="118" stroke="#333" stroke-width="1"/>
<line x1="317.1" y1="117.5" x2="368.4" y2="117.5" stroke="#333" stroke-width="1"/>
<line x1="315.6" y1="116.2" x2="317.6" y2="116.2" stroke="#333" stroke-width="0.8"/>
<text x="315" y="118.6" font-size="6.8" fill="#3a3a3a" text-anchor="end" textLength="13.2" lengthAdjust="spacingAndGlyphs">0.00</text>
<line x1="315.6" y1="106.2" x2="317.6" y2="106.2" stroke="#333" stroke-width="0.8"/>
<text x="315" y="108.6" font-size="6.8" fill="#3a3a3a" text-anchor="end" textLength="13.2" lengthAdjust="spacingAndGlyphs">0.25</text>
<line x1="315.6" y1="96.2" x2="317.6" y2="96.2" stroke="#333" stroke-width="0.8"/>
<text x="315" y="98.6" font-size="6.8" fill="#3a3a3a" text-anchor="end" textLength="13.2" lengthAdjust="spacingAndGlyphs">0.50</text>
<line x1="315.6" y1="86.2" x2="317.6" y2="86.2" stroke="#333" stroke-width="0.8"/>
<text x="315" y="88.6" font-size="6.8" fill="#3a3a3a" text-anchor="end" textLength="13.2" lengthAdjust="spacingAndGlyphs">0.75</text>
<line x1="315.6" y1="76.2" x2="317.6" y2="76.2" stroke="#333" stroke-width="0.8"/>
<text x="315" y="78.6" font-size="6.8" fill="#3a3a3a" text-anchor="end" textLength="13.2" lengthAdjust="spacingAndGlyphs">1.00</text>
<line x1="319.2" y1="117.5" x2="319.2" y2="119.5" stroke="#333" stroke-width="0.8"/>
<text x="319.2" y="125.7" font-size="6.8" fill="#3a3a3a" text-anchor="middle">0</text>
<line x1="334.71" y1="117.5" x2="334.71" y2="119.5" stroke="#333" stroke-width="0.8"/>
<text x="334.71" y="125.7" font-size="6.8" fill="#3a3a3a" text-anchor="middle">3</text>
<line x1="350.22" y1="117.5" x2="350.22" y2="119.5" stroke="#333" stroke-width="0.8"/>
<text x="350.22" y="125.7" font-size="6.8" fill="#3a3a3a" text-anchor="middle">6</text>
<line x1="365.73" y1="117.5" x2="365.73" y2="119.5" stroke="#333" stroke-width="0.8"/>
<text x="365.73" y="125.7" font-size="6.8" fill="#3a3a3a" text-anchor="middle">9</text>
<text x="321.5" y="98.2" font-size="8.4" fill="#333" font-style="italic" textLength="26" lengthAdjust="spacingAndGlyphs">P. copri</text>
<rect x="406.82" y="85.42" width="15.42" height="21.44" fill="#b9dbf2"/>
<rect x="422.24" y="96.14" width="15.42" height="17.47" fill="#b9dbf2"/>
<path d="M391.4 75.1H406.82V98.92H422.24V109.24H437.66" fill="none" stroke="#3d9be0" stroke-width="1.3"/>
<line x1="436.06" y1="109.24" x2="439.26" y2="109.24" stroke="#3d9be0" stroke-width="1"/>
<line x1="437.66" y1="107.64" x2="437.66" y2="110.84" stroke="#3d9be0" stroke-width="1"/>
<line x1="389.2" y1="74" x2="389.2" y2="117.1" stroke="#333" stroke-width="1"/>
<line x1="388.7" y1="116.6" x2="439.3" y2="116.6" stroke="#333" stroke-width="1"/>
<line x1="387.2" y1="114.8" x2="389.2" y2="114.8" stroke="#333" stroke-width="0.8"/>
<text x="386.6" y="117.2" font-size="6.8" fill="#3a3a3a" text-anchor="end" textLength="13.2" lengthAdjust="spacingAndGlyphs">0.00</text>
<line x1="387.2" y1="104.88" x2="389.2" y2="104.88" stroke="#333" stroke-width="0.8"/>
<text x="386.6" y="107.28" font-size="6.8" fill="#3a3a3a" text-anchor="end" textLength="13.2" lengthAdjust="spacingAndGlyphs">0.25</text>
<line x1="387.2" y1="94.95" x2="389.2" y2="94.95" stroke="#333" stroke-width="0.8"/>
<text x="386.6" y="97.35" font-size="6.8" fill="#3a3a3a" text-anchor="end" textLength="13.2" lengthAdjust="spacingAndGlyphs">0.50</text>
<line x1="387.2" y1="85.02" x2="389.2" y2="85.02" stroke="#333" stroke-width="0.8"/>
<text x="386.6" y="87.42" font-size="6.8" fill="#3a3a3a" text-anchor="end" textLength="13.2" lengthAdjust="spacingAndGlyphs">0.75</text>
<line x1="387.2" y1="75.1" x2="389.2" y2="75.1" stroke="#333" stroke-width="0.8"/>
<text x="386.6" y="77.5" font-size="6.8" fill="#3a3a3a" text-anchor="end" textLength="13.2" lengthAdjust="spacingAndGlyphs">1.00</text>
<line x1="391.4" y1="116.6" x2="391.4" y2="118.6" stroke="#333" stroke-width="0.8"/>
<text x="391.4" y="124.8" font-size="6.8" fill="#3a3a3a" text-anchor="middle">0</text>
<line x1="406.82" y1="116.6" x2="406.82" y2="118.6" stroke="#333" stroke-width="0.8"/>
<text x="406.82" y="124.8" font-size="6.8" fill="#3a3a3a" text-anchor="middle">3</text>
<line x1="422.24" y1="116.6" x2="422.24" y2="118.6" stroke="#333" stroke-width="0.8"/>
<text x="422.24" y="124.8" font-size="6.8" fill="#3a3a3a" text-anchor="middle">6</text>
<line x1="437.66" y1="116.6" x2="437.66" y2="118.6" stroke="#333" stroke-width="0.8"/>
<text x="437.66" y="124.8" font-size="6.8" fill="#3a3a3a" text-anchor="middle">9</text>
<text x="400.3" y="98.2" font-size="8.4" fill="#333" font-style="italic" textLength="40" lengthAdjust="spacingAndGlyphs">V. infantium</text>
<text x="378.5" y="137.6" font-size="11" fill="#222" text-anchor="middle" textLength="32" lengthAdjust="spacingAndGlyphs">Months</text>
<text x="450.71" y="17.74" font-size="25.63" fill="#111" font-weight="bold" textLength="14.22" lengthAdjust="spacingAndGlyphs">C</text>
<path d="M481.4 12.0A4.4 4.4 0 1 0 481.2 18.8" fill="none" stroke="#bdbdbd" stroke-width="1.4"/>
<path d="M485.0 18.9l-4.2 2.3l0.2-4.6z" fill="#bdbdbd"/>
<circle cx="490.2" cy="15.5" r="4.7" fill="#d9f1f9" stroke="#b5b5b5" stroke-width="1.3"/>
<circle cx="516.6" cy="15.5" r="4.7" fill="#f6e27c" stroke="#b5b5b5" stroke-width="1.3"/>
<path d="M525.4 19.0A4.4 4.4 0 1 0 525.8 12.0" fill="none" stroke="#bdbdbd" stroke-width="1.4"/>
<path d="M522.0 11.6l4.2-2.3l-0.1 4.6z" fill="#bdbdbd"/>
<line x1="497" y1="12.8" x2="506.7" y2="12.8" stroke="#bdbdbd" stroke-width="1.9"/>
<path d="M510.6 12.8L506.2 15.3L506.2 10.3Z" fill="#bdbdbd"/>
<line x1="510.6" y1="17.9" x2="500.9" y2="17.9" stroke="#bdbdbd" stroke-width="1.9"/>
<path d="M497 17.9L501.4 15.4L501.4 20.4Z" fill="#bdbdbd"/>
<text x="477.1" y="28.6" font-size="6.6" fill="#1e1e1e" textLength="21.8" lengthAdjust="spacingAndGlyphs">Absence</text>
<text x="506.7" y="28.6" font-size="6.6" fill="#1e1e1e" textLength="23.2" lengthAdjust="spacingAndGlyphs">Presence</text>
<g transform="translate(478.5,41.6) rotate(3)"><path d="M2.6 0l1.9-1.1v2.2z" fill="#444"/><rect x="-3.5" y="-1.25" width="6.2" height="2.5" rx="1.25" fill="#2a1a2e" stroke="#222" stroke-width="0.5"/><line x1="-2.3" y1="0" x2="1.5" y2="0" stroke="#c040d0" stroke-width="0.9"/></g>
<g transform="translate(485.8,47.4) rotate(35)"><path d="M2.6 0l1.9-1.1v2.2z" fill="#444"/><rect x="-3.5" y="-1.25" width="6.2" height="2.5" rx="1.25" fill="#2a1a2e" stroke="#222" stroke-width="0.5"/><line x1="-2.3" y1="0" x2="1.5" y2="0" stroke="#c040d0" stroke-width="0.9"/></g>
<g transform="translate(477.8,50.7) rotate(-14)"><path d="M2.6 0l1.9-1.1v2.2z" fill="#444"/><rect x="-3.5" y="-1.25" width="6.2" height="2.5" rx="1.25" fill="#2a1a2e" stroke="#222" stroke-width="0.5"/><line x1="-2.3" y1="0" x2="1.5" y2="0" stroke="#c040d0" stroke-width="0.9"/></g>
<path d="M484.6 52.6Q487.6 56 487.8 60" fill="none" stroke="#bdbdbd" stroke-width="1"/>
<path d="M486.2 59.4l1.8 3.6l1.6-3.7z" fill="#bdbdbd"/>
<line x1="473.2" y1="63.1" x2="487.4" y2="63.1" stroke="#bbb" stroke-width="1" stroke-dasharray="1 1.6"/>
<line x1="478.9" y1="60.2" x2="483.7" y2="66" stroke="#111" stroke-width="1.3"/>
<line x1="478.9" y1="66" x2="483.7" y2="60.2" stroke="#111" stroke-width="1.3"/>
<text x="496.2" y="56.7" font-size="6.6" fill="#1e1e1e" textLength="28.1" lengthAdjust="spacingAndGlyphs">High inflow</text>
<line x1="489.5" y1="63.1" x2="502.9" y2="63.1" stroke="#f9c846" stroke-width="1.7"/>
<path d="M507 63.1L502.4 65.5L502.4 60.7Z" fill="#f9c846"/>
<line x1="508.9" y1="63.1" x2="522.3" y2="63.1" stroke="#f9c846" stroke-width="1.7"/>
<path d="M526.4 63.1L521.8 65.5L521.8 60.7Z" fill="#f9c846"/>
<text x="493.8" y="83.8" font-size="6.6" fill="#1e1e1e" textLength="31.5" lengthAdjust="spacingAndGlyphs">High outflow</text>
<line x1="474.2" y1="90.9" x2="487.7" y2="90.9" stroke="#f9c846" stroke-width="1.7"/>
<path d="M491.8 90.9L487.2 93.3L487.2 88.5Z" fill="#f9c846"/>
<line x1="492.6" y1="90.9" x2="526.4" y2="90.9" stroke="#bbb" stroke-width="1" stroke-dasharray="1 1.6"/>
<line x1="497.9" y1="88" x2="502.7" y2="93.8" stroke="#111" stroke-width="1.3"/>
<line x1="497.9" y1="93.8" x2="502.7" y2="88" stroke="#111" stroke-width="1.3"/>
<line x1="516.2" y1="88" x2="521" y2="93.8" stroke="#111" stroke-width="1.3"/>
<line x1="516.2" y1="93.8" x2="521" y2="88" stroke="#111" stroke-width="1.3"/>
<path d="M492.1 92.2Q494 96 494.6 100" fill="none" stroke="#bdbdbd" stroke-width="1"/>
<path d="M493 99.4l1.8 3.6l1.6-3.7z" fill="#bdbdbd"/>
<g transform="translate(487.3,104.2) rotate(35)"><line x1="-2.6" y1="-3.2" x2="-2.2" y2="3.2" stroke="#222" stroke-width="0.7"/><line x1="-0.9" y1="-3.2" x2="-0.5" y2="3.2" stroke="#222" stroke-width="0.7"/><line x1="0.8" y1="-3.2" x2="1.2" y2="3.2" stroke="#222" stroke-width="0.7"/><line x1="2.5" y1="-3.2" x2="2.9" y2="3.2" stroke="#222" stroke-width="0.7"/><path d="M4.4 0l2.4-1.3v2.6z" fill="#777"/><rect x="-5" y="-1.4" width="9.2" height="2.8" rx="1.4" fill="#f0a030" stroke="#222" stroke-width="0.7"/></g>
<g transform="translate(504.6,103.2) rotate(12)"><line x1="-2.6" y1="-3.2" x2="-2.2" y2="3.2" stroke="#222" stroke-width="0.7"/><line x1="-0.9" y1="-3.2" x2="-0.5" y2="3.2" stroke="#222" stroke-width="0.7"/><line x1="0.8" y1="-3.2" x2="1.2" y2="3.2" stroke="#222" stroke-width="0.7"/><line x1="2.5" y1="-3.2" x2="2.9" y2="3.2" stroke="#222" stroke-width="0.7"/><path d="M4.4 0l2.4-1.3v2.6z" fill="#777"/><rect x="-5" y="-1.4" width="9.2" height="2.8" rx="1.4" fill="#f0a030" stroke="#222" stroke-width="0.7"/></g>
<g transform="translate(497,111.6) rotate(-12)"><line x1="-2.6" y1="-3.2" x2="-2.2" y2="3.2" stroke="#222" stroke-width="0.7"/><line x1="-0.9" y1="-3.2" x2="-0.5" y2="3.2" stroke="#222" stroke-width="0.7"/><line x1="0.8" y1="-3.2" x2="1.2" y2="3.2" stroke="#222" stroke-width="0.7"/><line x1="2.5" y1="-3.2" x2="2.9" y2="3.2" stroke="#222" stroke-width="0.7"/><path d="M4.4 0l2.4-1.3v2.6z" fill="#777"/><rect x="-5" y="-1.4" width="9.2" height="2.8" rx="1.4" fill="#f0a030" stroke="#222" stroke-width="0.7"/></g>
<text x="463.7" y="134.4" font-size="8.2" font-weight="bold" textLength="113.3" lengthAdjust="spacingAndGlyphs">PCS = Persistent colonizing species</text>
<text x="463.7" y="141.8" font-size="8.2" font-weight="bold" textLength="110.3" lengthAdjust="spacingAndGlyphs">TCS = Transient colonizing species</text>
<line x1="587.43" y1="15.3" x2="587.43" y2="100.9" stroke="#cfcfcf" stroke-width="0.9" stroke-dasharray="2.5 1.8"/>
<line x1="560.6" y1="70.63" x2="647.2" y2="70.63" stroke="#cfcfcf" stroke-width="0.9" stroke-dasharray="2.5 1.8"/>
<g fill="#fbecbe" fill-opacity="0.8" stroke="#ecd6a0" stroke-width="0.5"><circle cx="606.3" cy="96.67" r="2"/><circle cx="592.57" cy="97.22" r="2"/><circle cx="564.21" cy="96.92" r="2"/><circle cx="605.06" cy="96.44" r="2"/><circle cx="583.16" cy="97.28" r="2"/><circle cx="610.81" cy="96.77" r="2"/><circle cx="594.26" cy="96.81" r="2"/><circle cx="608.13" cy="97.04" r="2"/><circle cx="591.13" cy="96.85" r="2"/><circle cx="611.9" cy="96.93" r="2"/><circle cx="620.47" cy="96.97" r="2"/><circle cx="567.81" cy="97.14" r="2"/><circle cx="627.61" cy="97.26" r="2"/><circle cx="583.96" cy="96.61" r="2"/><circle cx="585.95" cy="96.97" r="2"/><circle cx="630.16" cy="96.57" r="2"/><circle cx="602.02" cy="96.48" r="2"/><circle cx="575.71" cy="97" r="2"/><circle cx="639.7" cy="96.42" r="2"/><circle cx="573.16" cy="96.68" r="2"/><circle cx="580.06" cy="96.67" r="2"/><circle cx="625.75" cy="97.25" r="2"/><circle cx="603.13" cy="96.87" r="2"/><circle cx="606.11" cy="96.66" r="2"/><circle cx="626.66" cy="96.57" r="2"/><circle cx="569.69" cy="97.08" r="2"/><circle cx="629.08" cy="96.56" r="2"/><circle cx="575.1" cy="97.2" r="2"/><circle cx="636.78" cy="96.74" r="2"/><circle cx="598.6" cy="96.51" r="2"/><circle cx="578.27" cy="97.28" r="2"/><circle cx="633.91" cy="97.15" r="2"/><circle cx="631.26" cy="97.09" r="2"/><circle cx="607.83" cy="96.64" r="2"/><circle cx="572.74" cy="96.95" r="2"/><circle cx="565.13" cy="96.77" r="2"/><circle cx="567.12" cy="96.95" r="2"/><circle cx="570.59" cy="96.82" r="2"/><circle cx="572.68" cy="96.81" r="2"/><circle cx="575.57" cy="96.92" r="2"/><circle cx="579.07" cy="96.56" r="2"/><circle cx="582.58" cy="96.91" r="2"/><circle cx="584.7" cy="97.2" r="2"/><circle cx="588.29" cy="96.76" r="2"/><circle cx="590.5" cy="97.1" r="2"/><circle cx="591.28" cy="97.1" r="2"/><circle cx="596.06" cy="96.54" r="2"/><circle cx="597.12" cy="96.73" r="2"/><circle cx="599.35" cy="97.26" r="2"/><circle cx="601.08" cy="97.08" r="2"/><circle cx="604.56" cy="97.18" r="2"/><circle cx="610.29" cy="97.08" r="2"/><circle cx="611.06" cy="96.84" r="2"/><circle cx="613.26" cy="97.28" r="2"/><circle cx="616.77" cy="97.17" r="2"/><circle cx="618.98" cy="97.19" r="2"/><circle cx="621.12" cy="96.77" r="2"/><circle cx="624.99" cy="96.55" r="2"/><circle cx="625.3" cy="96.66" r="2"/><circle cx="627.95" cy="97.28" r="2"/><circle cx="631.81" cy="96.58" r="2"/><circle cx="634.06" cy="96.53" r="2"/><circle cx="636.48" cy="96.78" r="2"/><circle cx="638.37" cy="97.22" r="2"/><circle cx="639.02" cy="97.21" r="2"/><circle cx="644.23" cy="96.92" r="2"/></g>
<g fill="#fbedc3" fill-opacity="0.8" stroke="#ecd8a6" stroke-width="0.5"><circle cx="570.58" cy="94.76" r="2"/><circle cx="581.92" cy="95.52" r="2"/><circle cx="617.1" cy="95.78" r="2"/><circle cx="588.54" cy="95.36" r="2"/><circle cx="572.09" cy="95.95" r="2"/><circle cx="637.98" cy="95.8" r="2"/><circle cx="569.18" cy="94.88" r="2"/><circle cx="631.49" cy="96.2" r="2"/><circle cx="575.1" cy="96.13" r="2"/><circle cx="608.99" cy="96.34" r="2"/><circle cx="599.98" cy="95.71" r="2"/><circle cx="614.05" cy="94.96" r="2"/><circle cx="601.69" cy="94.82" r="2"/><circle cx="590.74" cy="95.93" r="2"/><circle cx="571.56" cy="96.31" r="2"/><circle cx="568.23" cy="96.36" r="2"/><circle cx="573.59" cy="94.81" r="2"/><circle cx="586.08" cy="94.68" r="2"/><circle cx="635.99" cy="96.06" r="2"/><circle cx="570.97" cy="95.24" r="2"/><circle cx="613.21" cy="94.93" r="2"/><circle cx="564.64" cy="95.22" r="2"/><circle cx="596.72" cy="95.73" r="2"/><circle cx="575.74" cy="95.15" r="2"/><circle cx="616.94" cy="95.52" r="2"/><circle cx="567.18" cy="96.26" r="2"/><circle cx="609.92" cy="95.97" r="2"/><circle cx="565.71" cy="95.69" r="2"/><circle cx="569.89" cy="95.54" r="2"/><circle cx="602.19" cy="95.69" r="2"/><circle cx="621.72" cy="96.07" r="2"/><circle cx="574.09" cy="95.42" r="2"/><circle cx="597" cy="96.09" r="2"/><circle cx="618.85" cy="95.45" r="2"/><circle cx="627.47" cy="96.37" r="2"/><circle cx="618.82" cy="95.52" r="2"/><circle cx="635.92" cy="95.41" r="2"/><circle cx="575.9" cy="96.38" r="2"/><circle cx="574.57" cy="95.39" r="2"/><circle cx="589.27" cy="95.75" r="2"/><circle cx="626.71" cy="95.56" r="2"/><circle cx="579.29" cy="95.25" r="2"/><circle cx="616.86" cy="96.15" r="2"/><circle cx="568.07" cy="96.31" r="2"/><circle cx="592.96" cy="96.39" r="2"/><circle cx="586.78" cy="95.8" r="2"/><circle cx="626.39" cy="94.83" r="2"/><circle cx="596.39" cy="96.02" r="2"/><circle cx="600.09" cy="95.28" r="2"/><circle cx="573.29" cy="94.85" r="2"/><circle cx="620.83" cy="95.26" r="2"/><circle cx="581.65" cy="95.72" r="2"/><circle cx="579.62" cy="95.57" r="2"/><circle cx="626.05" cy="96.35" r="2"/><circle cx="564.27" cy="96.17" r="2"/><circle cx="579.48" cy="95.45" r="2"/><circle cx="607.45" cy="95.96" r="2"/></g>
<g fill="#fbefc8" fill-opacity="0.8" stroke="#eddbac" stroke-width="0.5"><circle cx="574.23" cy="93.06" r="2"/><circle cx="604.76" cy="94.55" r="2"/><circle cx="584.07" cy="94.57" r="2"/><circle cx="579.74" cy="93.96" r="2"/><circle cx="578.66" cy="93.36" r="2"/><circle cx="597.53" cy="93.05" r="2"/><circle cx="564.27" cy="94.28" r="2"/><circle cx="565.18" cy="93.72" r="2"/><circle cx="638.2" cy="94.52" r="2"/><circle cx="582.16" cy="94.47" r="2"/><circle cx="579.32" cy="93.26" r="2"/><circle cx="568.42" cy="94.03" r="2"/><circle cx="594.43" cy="93.93" r="2"/><circle cx="637.91" cy="93.71" r="2"/><circle cx="565.04" cy="94.29" r="2"/><circle cx="602.16" cy="94.62" r="2"/><circle cx="621.82" cy="93.77" r="2"/><circle cx="636.09" cy="94.14" r="2"/><circle cx="580.44" cy="93.95" r="2"/><circle cx="636.99" cy="94.49" r="2"/><circle cx="581.1" cy="93.15" r="2"/><circle cx="573.66" cy="93.29" r="2"/><circle cx="596.28" cy="93.86" r="2"/><circle cx="586.9" cy="93.32" r="2"/><circle cx="569.23" cy="93.54" r="2"/><circle cx="633.24" cy="94.57" r="2"/><circle cx="628.67" cy="94.24" r="2"/><circle cx="580.19" cy="93.02" r="2"/><circle cx="592.16" cy="94.4" r="2"/><circle cx="568.42" cy="93.89" r="2"/><circle cx="567.05" cy="94.02" r="2"/><circle cx="633.71" cy="94.18" r="2"/><circle cx="569.84" cy="93.41" r="2"/><circle cx="569.27" cy="93.22" r="2"/><circle cx="568.89" cy="93.17" r="2"/><circle cx="610.06" cy="93.75" r="2"/><circle cx="564.75" cy="93.45" r="2"/><circle cx="583.31" cy="93.65" r="2"/><circle cx="595.9" cy="94.63" r="2"/><circle cx="565.66" cy="93.51" r="2"/><circle cx="583.79" cy="93.08" r="2"/><circle cx="627.07" cy="93.7" r="2"/><circle cx="597.05" cy="94.21" r="2"/><circle cx="597.96" cy="93.98" r="2"/><circle cx="612.14" cy="93.65" r="2"/><circle cx="573.96" cy="94.62" r="2"/><circle cx="598.37" cy="92.95" r="2"/><circle cx="593.37" cy="93.36" r="2"/></g>
<g fill="#fcf0cd" fill-opacity="0.8" stroke="#edddb2" stroke-width="0.5"><circle cx="638.45" cy="92.4" r="2"/><circle cx="565.59" cy="92" r="2"/><circle cx="577.37" cy="92.23" r="2"/><circle cx="569.34" cy="92.36" r="2"/><circle cx="572.12" cy="92.5" r="2"/><circle cx="578.54" cy="91.83" r="2"/><circle cx="573.3" cy="91.34" r="2"/><circle cx="631.46" cy="91.71" r="2"/><circle cx="576.06" cy="92.49" r="2"/><circle cx="573.55" cy="91.25" r="2"/><circle cx="607.04" cy="92.12" r="2"/><circle cx="582.72" cy="91.66" r="2"/><circle cx="572.72" cy="91.87" r="2"/><circle cx="589.2" cy="91.31" r="2"/><circle cx="599.95" cy="92.03" r="2"/><circle cx="611.13" cy="92.55" r="2"/><circle cx="570.72" cy="91.35" r="2"/><circle cx="589" cy="92.37" r="2"/><circle cx="577.35" cy="92.78" r="2"/><circle cx="576.67" cy="91.57" r="2"/><circle cx="567.67" cy="92.29" r="2"/></g>
<g fill="#fcf2d2" fill-opacity="0.8" stroke="#eee0b8" stroke-width="0.5"><circle cx="571.31" cy="89.53" r="2"/><circle cx="639.28" cy="89.91" r="2"/><circle cx="591.67" cy="90.81" r="2"/><circle cx="628.1" cy="90.78" r="2"/><circle cx="582" cy="89.89" r="2"/><circle cx="589.59" cy="89.98" r="2"/><circle cx="590.75" cy="89.34" r="2"/><circle cx="582.51" cy="90.65" r="2"/><circle cx="573.19" cy="90.13" r="2"/><circle cx="596.21" cy="90.69" r="2"/><circle cx="608.79" cy="90.33" r="2"/><circle cx="569.77" cy="90.21" r="2"/><circle cx="589.32" cy="89.95" r="2"/><circle cx="565.76" cy="89.85" r="2"/><circle cx="571.01" cy="90.63" r="2"/><circle cx="573.72" cy="90.32" r="2"/><circle cx="579.39" cy="90.25" r="2"/><circle cx="568.08" cy="89.94" r="2"/><circle cx="587.09" cy="89.43" r="2"/><circle cx="577.21" cy="89.72" r="2"/><circle cx="574.58" cy="90.31" r="2"/><circle cx="623.78" cy="89.31" r="2"/></g>
<g fill="#fcf3d7" fill-opacity="0.8" stroke="#eee2be" stroke-width="0.5"><circle cx="575.69" cy="88.93" r="2"/><circle cx="582.84" cy="88.42" r="2"/><circle cx="566.06" cy="88.38" r="2"/><circle cx="585.67" cy="88.08" r="2"/><circle cx="570.1" cy="88.73" r="2"/><circle cx="591.31" cy="88.01" r="2"/><circle cx="577.86" cy="88.12" r="2"/><circle cx="585.44" cy="88.39" r="2"/><circle cx="572.61" cy="89.06" r="2"/><circle cx="569.98" cy="88.05" r="2"/><circle cx="567.82" cy="87.94" r="2"/><circle cx="584.83" cy="88.47" r="2"/><circle cx="567.48" cy="89.09" r="2"/><circle cx="567.13" cy="88.23" r="2"/><circle cx="578.39" cy="89.03" r="2"/><circle cx="575.12" cy="87.65" r="2"/><circle cx="569.13" cy="88.34" r="2"/><circle cx="565.15" cy="88.15" r="2"/><circle cx="572.39" cy="88.21" r="2"/><circle cx="566.08" cy="88.41" r="2"/><circle cx="586.13" cy="88.02" r="2"/></g>
<g fill="#fcf4dc" fill-opacity="0.8" stroke="#ebe1c3" stroke-width="0.5"><circle cx="564.96" cy="86.92" r="2"/><circle cx="566.28" cy="87.44" r="2"/><circle cx="585.33" cy="86.83" r="2"/><circle cx="584.13" cy="86.23" r="2"/><circle cx="563.77" cy="87.03" r="2"/><circle cx="573.22" cy="86.95" r="2"/></g>
<g fill="#fbf5e1" fill-opacity="0.8" stroke="#e8e0c8" stroke-width="0.5"><circle cx="596.37" cy="85.69" r="2"/><circle cx="586.22" cy="84.81" r="2"/><circle cx="570.31" cy="84.97" r="2"/><circle cx="564.94" cy="85.69" r="2"/><circle cx="564.14" cy="84.78" r="2"/><circle cx="582.74" cy="85.19" r="2"/><circle cx="565.22" cy="84.94" r="2"/><circle cx="569.07" cy="84.66" r="2"/><circle cx="586.73" cy="85.27" r="2"/><circle cx="596.38" cy="84.01" r="2"/><circle cx="581.41" cy="85.7" r="2"/></g>
<g fill="#fbf6e6" fill-opacity="0.8" stroke="#e5dfcd" stroke-width="0.5"><circle cx="569.77" cy="82.61" r="2"/><circle cx="595.89" cy="83.65" r="2"/><circle cx="567.24" cy="82.3" r="2"/><circle cx="576.37" cy="82.42" r="2"/><circle cx="588.83" cy="83.44" r="2"/><circle cx="606.97" cy="83.58" r="2"/><circle cx="584.05" cy="83.43" r="2"/><circle cx="593.04" cy="83.57" r="2"/><circle cx="579.12" cy="83.4" r="2"/></g>
<g fill="#fbf7ea" fill-opacity="0.8" stroke="#e2ded2" stroke-width="0.5"><circle cx="589.08" cy="81.73" r="2"/><circle cx="565.8" cy="82.15" r="2"/><circle cx="573.86" cy="81.94" r="2"/><circle cx="595.24" cy="82.16" r="2"/><circle cx="568.35" cy="81.8" r="2"/><circle cx="605.74" cy="81.38" r="2"/><circle cx="568.4" cy="82.14" r="2"/></g>
<g fill="#faf8ef" fill-opacity="0.8" stroke="#dfddd7" stroke-width="0.5"><circle cx="591.62" cy="80.12" r="2"/><circle cx="586.97" cy="79.75" r="2"/><circle cx="577.51" cy="78.89" r="2"/><circle cx="589.73" cy="80.01" r="2"/><circle cx="565.05" cy="79.85" r="2"/><circle cx="566.34" cy="79.24" r="2"/><circle cx="587.15" cy="78.68" r="2"/><circle cx="596.04" cy="80.37" r="2"/><circle cx="593.59" cy="79.52" r="2"/></g>
<g fill="#faf9f4" fill-opacity="0.8" stroke="#dcdcdc" stroke-width="0.5"><circle cx="593.74" cy="78.49" r="2"/><circle cx="580.29" cy="77.77" r="2"/><circle cx="593.82" cy="78.08" r="2"/><circle cx="599.39" cy="77.01" r="2"/><circle cx="583.94" cy="78.6" r="2"/><circle cx="570.72" cy="78" r="2"/><circle cx="589.38" cy="78.35" r="2"/></g>
<g fill="#f9f7f6" fill-opacity="0.8" stroke="#dddae0" stroke-width="0.5"><circle cx="588.84" cy="75.97" r="2"/></g>
<g fill="#f8f4f7" fill-opacity="0.8" stroke="#ded7e4" stroke-width="0.5"><circle cx="582.81" cy="74.38" r="2"/><circle cx="582.1" cy="73.85" r="2"/><circle cx="564.21" cy="74.89" r="2"/><circle cx="586.47" cy="73.65" r="2"/></g>
<g fill="#f7f2f8" fill-opacity="0.8" stroke="#e0d4e7" stroke-width="0.5"><circle cx="576.94" cy="71.71" r="2"/><circle cx="605.64" cy="72.69" r="2"/><circle cx="586.44" cy="72.61" r="2"/><circle cx="569.54" cy="73.05" r="2"/><circle cx="596.55" cy="72.34" r="2"/></g>
<g fill="#f6f0fa" fill-opacity="0.8" stroke="#e1d2eb" stroke-width="0.5"><circle cx="612.74" cy="70.19" r="2"/></g>
<g fill="#f2e8f9" fill-opacity="0.8" stroke="#decbeb" stroke-width="0.5"><circle cx="581.1" cy="67.96" r="2"/><circle cx="571.61" cy="67.96" r="2"/><circle cx="576.36" cy="68.85" r="2"/><circle cx="567.66" cy="68.85" r="2"/><circle cx="563.7" cy="69.74" r="2"/></g>
<g fill="#efe0f8" fill-opacity="0.8" stroke="#dcc5eb" stroke-width="0.5"><circle cx="566.07" cy="67.07" r="2"/></g>
<g fill="#ebd8f8" fill-opacity="0.8" stroke="#d9beeb" stroke-width="0.5"><circle cx="569.24" cy="64.41" r="2"/><circle cx="564.49" cy="65.3" r="2"/><circle cx="589.8" cy="64.41" r="2"/><circle cx="573.98" cy="66.19" r="2"/><circle cx="579.52" cy="65.3" r="2"/></g>
<g fill="#e8d0f7" fill-opacity="0.8" stroke="#d6b7eb" stroke-width="0.5"><circle cx="575.57" cy="63.52" r="2"/></g>
<g fill="#e4c8f6" fill-opacity="0.8" stroke="#d4b1eb" stroke-width="0.5"><circle cx="566.86" cy="62.63" r="2"/></g>
<g fill="#e1c1f5" fill-opacity="0.8" stroke="#d1aaeb" stroke-width="0.5"><circle cx="565.28" cy="59.96" r="2"/></g>
<g fill="#debbf4" fill-opacity="0.8" stroke="#cea3eb" stroke-width="0.5"><circle cx="573.19" cy="57.29" r="2"/><circle cx="593.76" cy="58.18" r="2"/></g>
<g fill="#dbb4f4" fill-opacity="0.8" stroke="#cb9cea" stroke-width="0.5"><circle cx="567.66" cy="56.41" r="2"/></g>
<g fill="#d8adf3" fill-opacity="0.8" stroke="#c895ea" stroke-width="0.5"><circle cx="564.49" cy="54.63" r="2"/></g>
<g fill="#d5a7f2" fill-opacity="0.8" stroke="#c48ee8" stroke-width="0.5"><circle cx="568.45" cy="52.85" r="2"/></g>
<g fill="#d2a0f1" fill-opacity="0.8" stroke="#c086e8" stroke-width="0.5"><circle cx="566.07" cy="51.07" r="2"/></g>
<g fill="#cf99f0" fill-opacity="0.8" stroke="#bc7fe6" stroke-width="0.5"><circle cx="579.52" cy="49.74" r="2"/></g>
<g fill="#cb92f0" fill-opacity="0.8" stroke="#b978e6" stroke-width="0.5"><circle cx="565.28" cy="48.4" r="2"/></g>
<g fill="#c78aef" fill-opacity="0.8" stroke="#b570e4" stroke-width="0.5"><circle cx="567.66" cy="44.85" r="2"/></g>
<g fill="#c382ee" fill-opacity="0.8" stroke="#b269e4" stroke-width="0.5"><circle cx="566.86" cy="43.52" r="2"/></g>
<g fill="#a74ae8" fill-opacity="0.8" stroke="#9836dc" stroke-width="0.5"><circle cx="572.01" cy="31.07" r="2"/></g>
<g fill="#a343e8" fill-opacity="0.8" stroke="#9530dc" stroke-width="0.5"><circle cx="564.89" cy="30.62" r="2"/><circle cx="566.07" cy="28.85" r="2"/></g>
<g fill="#8f1fe5" fill-opacity="0.8" stroke="#8514d8" stroke-width="0.5"><circle cx="565.28" cy="18.62" r="2"/></g>
<rect x="560.6" y="15.3" width="86.6" height="85.6" fill="none" stroke="#a6a6a6" stroke-width="0.9"/>
<line x1="558.8" y1="97.3" x2="560.6" y2="97.3" stroke="#555" stroke-width="0.7"/>
<text x="558" y="99.5" font-size="6.4" fill="#4d4d4d" text-anchor="end" textLength="12" lengthAdjust="spacingAndGlyphs">0.00</text>
<line x1="558.8" y1="75.07" x2="560.6" y2="75.07" stroke="#555" stroke-width="0.7"/>
<text x="558" y="77.27" font-size="6.4" fill="#4d4d4d" text-anchor="end" textLength="12" lengthAdjust="spacingAndGlyphs">0.25</text>
<line x1="558.8" y1="52.85" x2="560.6" y2="52.85" stroke="#555" stroke-width="0.7"/>
<text x="558" y="55.05" font-size="6.4" fill="#4d4d4d" text-anchor="end" textLength="12" lengthAdjust="spacingAndGlyphs">0.50</text>
<line x1="558.8" y1="30.62" x2="560.6" y2="30.62" stroke="#555" stroke-width="0.7"/>
<text x="558" y="32.82" font-size="6.4" fill="#4d4d4d" text-anchor="end" textLength="12" lengthAdjust="spacingAndGlyphs">0.75</text>
<line x1="563.7" y1="100.9" x2="563.7" y2="102.7" stroke="#555" stroke-width="0.7"/>
<text x="563.7" y="107.7" font-size="6.4" fill="#4d4d4d" text-anchor="middle" textLength="12" lengthAdjust="spacingAndGlyphs">0.00</text>
<line x1="583.48" y1="100.9" x2="583.48" y2="102.7" stroke="#555" stroke-width="0.7"/>
<text x="583.48" y="107.7" font-size="6.4" fill="#4d4d4d" text-anchor="middle" textLength="12" lengthAdjust="spacingAndGlyphs">0.25</text>
<line x1="603.25" y1="100.9" x2="603.25" y2="102.7" stroke="#555" stroke-width="0.7"/>
<text x="603.25" y="107.7" font-size="6.4" fill="#4d4d4d" text-anchor="middle" textLength="12" lengthAdjust="spacingAndGlyphs">0.50</text>
<line x1="623.03" y1="100.9" x2="623.03" y2="102.7" stroke="#555" stroke-width="0.7"/>
<text x="623.03" y="107.7" font-size="6.4" fill="#4d4d4d" text-anchor="middle" textLength="12" lengthAdjust="spacingAndGlyphs">0.75</text>
<line x1="642.8" y1="100.9" x2="642.8" y2="102.7" stroke="#555" stroke-width="0.7"/>
<text x="642.8" y="107.7" font-size="6.4" fill="#4d4d4d" text-anchor="middle" textLength="12" lengthAdjust="spacingAndGlyphs">1.00</text>
<text transform="translate(542.6,62) rotate(-90)" font-size="10.4" fill="#222" text-anchor="middle" textLength="22.3" lengthAdjust="spacingAndGlyphs">Inflow</text>
<text x="604.2" y="118.4" font-size="10.4" fill="#222" text-anchor="middle" textLength="28.8" lengthAdjust="spacingAndGlyphs">Outflow</text>
<text transform="translate(587.8,37.8) rotate(-90)" font-size="8.6" fill="#cccccc" text-anchor="middle" textLength="38.5" lengthAdjust="spacingAndGlyphs">Outflow=0.3</text>
<text x="612" y="77.9" font-size="8.6" fill="#cccccc" textLength="30.6" lengthAdjust="spacingAndGlyphs">Inflow=0.3</text>
<text x="598.6" y="59.2" font-size="7.6" fill="#222" font-style="italic" textLength="18.1" lengthAdjust="spacingAndGlyphs">E. coli</text>
<text x="598.6" y="65.9" font-size="7.6" fill="#222" font-style="italic" textLength="46.4" lengthAdjust="spacingAndGlyphs">S. thermophilus</text>
<line x1="595" y1="57.2" x2="598" y2="59.2" stroke="#222" stroke-width="0.6"/>
<line x1="588.2" y1="68.4" x2="597.6" y2="65.4" stroke="#222" stroke-width="0.6"/>
<text x="561.9" y="8.8" font-size="7.5" fill="#000" textLength="42.9" lengthAdjust="spacingAndGlyphs" stroke="#000" stroke-width="0.3">PCS microbes</text>
<line x1="582.1" y1="12.4" x2="573.63" y2="20.14" stroke="#000" stroke-width="1.4"/>
<path d="M570.6 22.9L572.45 18.1L575.55 21.5Z" fill="#000"/>
<text x="632.4" y="38.8" font-size="8.2" fill="#000" textLength="42.5" lengthAdjust="spacingAndGlyphs" stroke="#000" stroke-width="0.3">TCS microbes</text>
<line x1="664.3" y1="45.2" x2="642.89" y2="83.81" stroke="#000" stroke-width="1.4"/>
<path d="M640.9 87.4L641.12 82.26L645.14 84.49Z" fill="#000"/>
<rect x="15" y="174.1" width="627" height="10.9" fill="url(#gin)"/>
<rect x="15" y="185" width="627" height="10.8" fill="url(#gout)"/>
<line x1="24" y1="167.7" x2="552" y2="167.7" stroke="#e5aa00" stroke-width="3.2"/>
<path d="M16.4 167.7L27.4 164.1L26 167.7L27.4 171.3Z" fill="#e5aa00"/>
<path d="M551.8 167.7L541 164.1L542.4 167.7L541 171.3Z" fill="#e5aa00"/>
<line x1="562" y1="167.7" x2="635" y2="167.7" stroke="#9b30c2" stroke-width="3"/>
<path d="M555.5 167.7L566 163.7L564.6 167.7L566 171.7Z" fill="#9b30c2"/>
<path d="M642.2 167.7L631.6 163.7L633 167.7L631.6 171.7Z" fill="#9b30c2"/>
<text x="-1.72" y="171.9" font-size="23.77" fill="#111" font-weight="bold" textLength="14.68" lengthAdjust="spacingAndGlyphs">D</text>
<text x="273" y="162.7" font-size="10.6" fill="#111" font-weight="bold" text-anchor="middle" textLength="62.9" lengthAdjust="spacingAndGlyphs">TCS microbes</text>
<text x="597.4" y="162.6" font-size="10.6" fill="#111" font-weight="bold" text-anchor="middle" textLength="56.8" lengthAdjust="spacingAndGlyphs">PCS microbes</text>
<text x="644.3" y="182.2" font-size="7.4" fill="#222" textLength="19" lengthAdjust="spacingAndGlyphs">inflow</text>
<text x="644.3" y="193.4" font-size="7.4" fill="#222" textLength="22" lengthAdjust="spacingAndGlyphs">outflow</text>
<rect x="670.1" y="167.9" width="4.6" height="82.4" fill="url(#gcb)"/>
<text x="676.6" y="170.3" font-size="5.8" fill="#444">1</text>
<text x="676.6" y="186.7" font-size="5.8" fill="#444">0.8</text>
<text x="676.6" y="203.1" font-size="5.8" fill="#444">0.6</text>
<text x="676.6" y="219.5" font-size="5.8" fill="#444">0.4</text>
<text x="676.6" y="235.9" font-size="5.8" fill="#444">0.2</text>
<text x="676.6" y="252.3" font-size="5.8" fill="#444">0</text>
<text transform="translate(7.1,204.9) rotate(90)" font-size="7.4" fill="#000" stroke="#000" stroke-width="0.12" textLength="67.1" lengthAdjust="spacingAndGlyphs">Streptococcus sanguinis</text>
<text transform="translate(29.6,204.9) rotate(90)" font-size="7.4" fill="#000" stroke="#000" stroke-width="0.12" textLength="50.3" lengthAdjust="spacingAndGlyphs">Lactobacillus oris</text>
<text transform="translate(43,204.9) rotate(90)" font-size="7.4" fill="#000" stroke="#000" stroke-width="0.12" textLength="76.1" lengthAdjust="spacingAndGlyphs">Fusobacterium nucleatum</text>
<text transform="translate(37.8,204.9) rotate(90)" font-size="7.4" fill="#000" stroke="#000" stroke-width="0.12" textLength="45.7" lengthAdjust="spacingAndGlyphs">subsp. animalis</text>
<text transform="translate(52.3,204.9) rotate(90)" font-size="7.4" fill="#000" stroke="#000" stroke-width="0.12" textLength="56.8" lengthAdjust="spacingAndGlyphs">Streptococcus mitis</text>
<text transform="translate(61.1,204.9) rotate(90)" font-size="7.4" fill="#000" stroke="#000" stroke-width="0.12" textLength="58.7" lengthAdjust="spacingAndGlyphs">Streptococcus oralis</text>
<text transform="translate(80.6,204.9) rotate(90)" font-size="7.4" fill="#000" stroke="#000" stroke-width="0.12" textLength="48.5" lengthAdjust="spacingAndGlyphs">Actinomyces oris</text>
<text transform="translate(89.7,204.9) rotate(90)" font-size="7.4" fill="#000" stroke="#000" stroke-width="0.12" textLength="64.3" lengthAdjust="spacingAndGlyphs">Lactobacillus vaginalis</text>
<text transform="translate(98.5,204.9) rotate(90)" font-size="7.4" fill="#000" stroke="#000" stroke-width="0.12" textLength="48.5" lengthAdjust="spacingAndGlyphs">Slackia piriformis</text>
<text transform="translate(107.8,204.9) rotate(90)" font-size="7.4" fill="#000" stroke="#000" stroke-width="0.12" textLength="70.8" lengthAdjust="spacingAndGlyphs">Raoultella ornithinolytica</text>
<text transform="translate(116.7,204.9) rotate(90)" font-size="7.4" fill="#000" stroke="#000" stroke-width="0.12" textLength="66.1" lengthAdjust="spacingAndGlyphs">Christensenella minuta</text>
<text transform="translate(126.4,204.9) rotate(90)" font-size="7.4" fill="#000" stroke="#000" stroke-width="0.12" textLength="43.8" lengthAdjust="spacingAndGlyphs">Prevotella bivia</text>
<text transform="translate(133.7,204.9) rotate(90)" font-size="7.4" fill="#000" stroke="#000" stroke-width="0.12" textLength="65.1" lengthAdjust="spacingAndGlyphs">Klebsiella pneumoniae</text>
<text transform="translate(144.1,204.9) rotate(90)" font-size="7.4" fill="#000" stroke="#000" stroke-width="0.12" textLength="63.1" lengthAdjust="spacingAndGlyphs">Enterococcus faecalis</text>
<text transform="translate(157.4,204.9) rotate(90)" font-size="7.4" fill="#000" stroke="#000" stroke-width="0.12" textLength="63.4" lengthAdjust="spacingAndGlyphs">Enterococcus faecium</text>
<text transform="translate(169.7,204.9) rotate(90)" font-size="7.4" fill="#000" stroke="#000" stroke-width="0.12" textLength="67.1" lengthAdjust="spacingAndGlyphs">Streptococcus gordonii</text>
<text transform="translate(177.7,204.9) rotate(90)" font-size="7.4" fill="#000" stroke="#000" stroke-width="0.12" textLength="51.1" lengthAdjust="spacingAndGlyphs">Veillonella atypica</text>
<text transform="translate(187.4,204.9) rotate(90)" font-size="7.4" fill="#000" stroke="#000" stroke-width="0.12" textLength="52.1" lengthAdjust="spacingAndGlyphs">Veillonella parvula</text>
<text transform="translate(197.1,204.9) rotate(90)" font-size="7.4" fill="#000" stroke="#000" stroke-width="0.12" textLength="51.1" lengthAdjust="spacingAndGlyphs" font-weight="bold">Hungatella effluvi</text>
<text transform="translate(205.1,204.9) rotate(90)" font-size="7.4" fill="#000" stroke="#000" stroke-width="0.12" textLength="49.4" lengthAdjust="spacingAndGlyphs">Tyzzerella nexilis</text>
<text transform="translate(215.3,204.9) rotate(90)" font-size="7.4" fill="#000" stroke="#000" stroke-width="0.12" textLength="44.7" lengthAdjust="spacingAndGlyphs">Hafnia paralvei</text>
<text transform="translate(226.8,204.9) rotate(90)" font-size="7.4" fill="#000" stroke="#000" stroke-width="0.12" textLength="59.6" lengthAdjust="spacingAndGlyphs">Clostridium scindens</text>
<text transform="translate(243.4,204.9) rotate(90)" font-size="7.4" fill="#000" stroke="#000" stroke-width="0.12" textLength="67.1" lengthAdjust="spacingAndGlyphs">Emergencia timonensis</text>
<text transform="translate(257.4,204.9) rotate(90)" font-size="7.4" fill="#000" stroke="#000" stroke-width="0.12" textLength="53.1" lengthAdjust="spacingAndGlyphs">Eisenbergiella tayi</text>
<text transform="translate(267.6,204.9) rotate(90)" font-size="7.4" fill="#000" stroke="#000" stroke-width="0.12" textLength="60.6" lengthAdjust="spacingAndGlyphs">Anaerostipes caccae</text>
<text transform="translate(277.3,204.9) rotate(90)" font-size="7.4" fill="#000" stroke="#000" stroke-width="0.12" textLength="56.8" lengthAdjust="spacingAndGlyphs">Veillonella infantium</text>
<text transform="translate(287.6,204.9) rotate(90)" font-size="7.4" fill="#000" stroke="#000" stroke-width="0.12" textLength="59.6" lengthAdjust="spacingAndGlyphs">Hungatella hathewayi</text>
<text transform="translate(296.9,204.9) rotate(90)" font-size="7.4" fill="#000" stroke="#000" stroke-width="0.12" textLength="72.7" lengthAdjust="spacingAndGlyphs">Streptococcus anginosus</text>
<text transform="translate(304.4,204.9) rotate(90)" font-size="7.4" fill="#000" stroke="#000" stroke-width="0.12" textLength="82.1" lengthAdjust="spacingAndGlyphs">Haemophilus parainfluenzae</text>
<text transform="translate(312.1,204.9) rotate(90)" font-size="7.4" fill="#000" stroke="#000" stroke-width="0.12" textLength="85.1" lengthAdjust="spacingAndGlyphs">Muribaculaceae bacterium sp6</text>
<text transform="translate(319,204.9) rotate(90)" font-size="7.4" fill="#000" stroke="#000" stroke-width="0.12" textLength="66.9" lengthAdjust="spacingAndGlyphs">Clostridium perfringens</text>
<text transform="translate(327.3,204.9) rotate(90)" font-size="7.4" fill="#000" stroke="#000" stroke-width="0.12" textLength="77.1" lengthAdjust="spacingAndGlyphs">Desulfovibrio desulfuricans</text>
<text transform="translate(335.2,204.9) rotate(90)" font-size="7.4" fill="#000" stroke="#000" stroke-width="0.12" textLength="64.8" lengthAdjust="spacingAndGlyphs">Streptococcus mutans</text>
<text transform="translate(344.3,204.9) rotate(90)" font-size="7.4" fill="#000" stroke="#000" stroke-width="0.12" textLength="66.9" lengthAdjust="spacingAndGlyphs">Clostridium symbiosum</text>
<text transform="translate(354.6,204.9) rotate(90)" font-size="7.4" fill="#000" stroke="#000" stroke-width="0.12" textLength="76.1" lengthAdjust="spacingAndGlyphs">Clostridium paraputrificum</text>
<text transform="translate(365,204.9) rotate(90)" font-size="7.4" fill="#000" stroke="#000" stroke-width="0.12" textLength="82.4" lengthAdjust="spacingAndGlyphs">Streptococcus parasanguinis</text>
<text transform="translate(377,204.9) rotate(90)" font-size="7.4" fill="#000" stroke="#000" stroke-width="0.12" textLength="55.5" lengthAdjust="spacingAndGlyphs">Clostridium bolteae</text>
<text transform="translate(406.8,204.9) rotate(90)" font-size="7.4" fill="#000" stroke="#000" stroke-width="0.12" textLength="92.1" lengthAdjust="spacingAndGlyphs">Erysipelatoclostridium ramosum</text>
<text transform="translate(423.9,204.9) rotate(90)" font-size="7.4" fill="#000" stroke="#000" stroke-width="0.12" textLength="98.1" lengthAdjust="spacingAndGlyphs">Intestinimonas butyriciproducens</text>
<text transform="translate(445.5,204.9) rotate(90)" font-size="7.4" fill="#000" stroke="#000" stroke-width="0.12" textLength="80.8" lengthAdjust="spacingAndGlyphs">Clostridium saccharolyticum</text>
<text transform="translate(455.3,204.9) rotate(90)" font-size="7.4" fill="#000" stroke="#000" stroke-width="0.12" textLength="63.7" lengthAdjust="spacingAndGlyphs">Clostridium saudiense</text>
<text transform="translate(469.7,204.9) rotate(90)" font-size="7.4" fill="#000" stroke="#000" stroke-width="0.12" textLength="92.1" lengthAdjust="spacingAndGlyphs">Ruminococcus champanellensis</text>
<text transform="translate(485.2,204.9) rotate(90)" font-size="7.4" fill="#000" stroke="#000" stroke-width="0.12" textLength="68.1" lengthAdjust="spacingAndGlyphs">Cloacibacillus evryensis</text>
<text transform="translate(495.9,204.9) rotate(90)" font-size="7.4" fill="#000" stroke="#000" stroke-width="0.12" textLength="83.1" lengthAdjust="spacingAndGlyphs">Muribaculaceae bacterium sp4</text>
<text transform="translate(505,204.9) rotate(90)" font-size="7.4" fill="#000" stroke="#000" stroke-width="0.12" textLength="75.1" lengthAdjust="spacingAndGlyphs">Blautia hydrogenotrophica</text>
<text transform="translate(513.4,204.9) rotate(90)" font-size="7.4" fill="#000" stroke="#000" stroke-width="0.12" textLength="47.7" lengthAdjust="spacingAndGlyphs">Eggerthella lenta</text>
<text transform="translate(523.2,204.9) rotate(90)" font-size="7.4" fill="#000" stroke="#000" stroke-width="0.12" textLength="64.8" lengthAdjust="spacingAndGlyphs">Intestinibacter bartlettii</text>
<text transform="translate(534.2,204.9) rotate(90)" font-size="7.4" fill="#000" stroke="#000" stroke-width="0.12" textLength="73.9" lengthAdjust="spacingAndGlyphs">Blastocystis sp. subtype 1</text>
<text transform="translate(543.1,204.9) rotate(90)" font-size="7.4" fill="#000" stroke="#000" stroke-width="0.12" textLength="58" lengthAdjust="spacingAndGlyphs">Enteroscipio rubneri</text>
<text transform="translate(553.1,204.9) rotate(90)" font-size="7.4" fill="#000" stroke="#000" stroke-width="0.12" textLength="75.1" lengthAdjust="spacingAndGlyphs">Ruminococcus bicirculans</text>
<text transform="translate(561.1,204.9) rotate(90)" font-size="7.4" fill="#000" stroke="#000" stroke-width="0.12" textLength="62.5" lengthAdjust="spacingAndGlyphs">Bilophila wadsworthia</text>
<text transform="translate(570.2,204.9) rotate(90)" font-size="7.4" fill="#000" stroke="#000" stroke-width="0.12" textLength="58" lengthAdjust="spacingAndGlyphs">Blautia massiliensis</text>
<text transform="translate(578.2,204.9) rotate(90)" font-size="7.4" fill="#000" stroke="#000" stroke-width="0.12" textLength="59.1" lengthAdjust="spacingAndGlyphs">Eubacterium eligens</text>
<text transform="translate(586.1,204.9) rotate(90)" font-size="7.4" fill="#000" stroke="#000" stroke-width="0.12" textLength="61.4" lengthAdjust="spacingAndGlyphs">Roseburia intestinalis</text>
<text transform="translate(592.2,204.9) rotate(90)" font-size="7.4" fill="#000" stroke="#000" stroke-width="0.12" textLength="67.1" lengthAdjust="spacingAndGlyphs">Roseburia inulinivorans</text>
<text transform="translate(600.8,204.9) rotate(90)" font-size="7.4" fill="#000" stroke="#000" stroke-width="0.12" textLength="80.1" lengthAdjust="spacingAndGlyphs">Faecalibacterium prausnitzii</text>
<text transform="translate(607.3,204.9) rotate(90)" font-size="7.4" fill="#000" stroke="#000" stroke-width="0.12" textLength="56.9" lengthAdjust="spacingAndGlyphs">Eubacterium rectale</text>
<text transform="translate(615.6,204.9) rotate(90)" font-size="7.4" fill="#000" stroke="#000" stroke-width="0.12" textLength="66" lengthAdjust="spacingAndGlyphs">Dorea formicigenerans</text>
<text transform="translate(623.7,204.9) rotate(90)" font-size="7.4" fill="#000" stroke="#000" stroke-width="0.12" textLength="53.4" lengthAdjust="spacingAndGlyphs">Roseburia hominis</text>
<text transform="translate(632,204.9) rotate(90)" font-size="7.4" fill="#000" stroke="#000" stroke-width="0.12" textLength="92.1" lengthAdjust="spacingAndGlyphs">Ruthenibacterium lactatiformans</text>
<text transform="translate(640,204.9) rotate(90)" font-size="7.4" fill="#000" stroke="#000" stroke-width="0.12" textLength="40.9" lengthAdjust="spacingAndGlyphs">Blautia obeum</text>
<text transform="translate(648,204.9) rotate(90)" font-size="7.4" fill="#000" stroke="#000" stroke-width="0.12" textLength="94.4" lengthAdjust="spacingAndGlyphs">Agathobaculum butyriciproducens</text>
<path d="M15.8 195.9L9.4 203.4M41.9 195.9L31.9 203.4M51.2 195.9L45.3 203.4M67.1 195.9L54.6 203.4M69.3 195.9L63.4 203.4M90.8 195.9L82.9 203.4M101.1 195.9L92 203.4M104.8 195.9L100.8 203.4M116.4 195.9L110.1 203.4M129 195.9L119 203.4M139.3 195.9L128.7 203.4M145.8 195.9L136 203.4M155.1 195.9L146.4 203.4M168.6 195.9L159.7 203.4M174.2 195.9L172 203.4M180.7 195.9L180 203.4M189.1 195.9L189.7 203.4M193.8 195.9L199.4 203.4M195.6 195.9L207.4 203.4M226.4 195.9L217.6 203.4M232 195.9L229.1 203.4M255.7 195.9L245.7 203.4M262.3 195.9L259.7 203.4M273.8 195.9L269.9 203.4M280 195.9L279.6 203.4M287.4 195.9L289.9 203.4M293 195.9L299.2 203.4M298.6 195.9L306.7 203.4M310.4 195.9L314.4 203.4M316.6 195.9L321.3 203.4M319.7 195.9L329.6 203.4M321.7 195.9L337.5 203.4M334.2 195.9L346.6 203.4M346.6 195.9L356.9 203.4M354.9 195.9L367.3 203.4M369.4 195.9L379.3 203.4M405 195.9L409.1 203.4M426.7 195.9L426.2 203.4M451.8 195.9L447.8 203.4M456.3 195.9L457.6 203.4M478.2 195.9L472 203.4M494 195.9L487.5 203.4M498.7 195.9L498.2 203.4M507.8 195.9L507.3 203.4M534 195.9L515.7 203.4M537.4 195.9L525.5 203.4M540.9 195.9L536.5 203.4M547.7 195.9L545.4 203.4M556 195.9L555.4 203.4M558.2 195.9L563.4 203.4M579.9 195.9L572.5 203.4M585.6 195.9L580.5 203.4M594.7 195.9L588.4 203.4M597 195.9L594.5 203.4M606 195.9L603.1 203.4M608.3 195.9L609.6 203.4M617.4 195.9L617.9 203.4M630.3 195.9L626 203.4M632.6 195.9L634.3 203.4M634.9 195.9L642.3 203.4M638.3 195.9L650.3 203.4" fill="none" stroke="#000" stroke-width="1.15"/>
<text x="0.55" y="330.7" font-size="25.22" fill="#111" font-weight="bold" textLength="12.86" lengthAdjust="spacingAndGlyphs">E</text>
<path d="M37.52 353.58L41.4 355.95L45.28 358.22L49.16 360.41L53.04 362.5L56.92 364.5L60.8 366.41L64.68 368.22L68.56 369.94L72.44 371.58L76.32 373.12L80.2 374.56L84.08 375.92L87.96 377.18L91.84 378.35L95.72 379.43L99.6 380.42L103.48 381.32L107.36 382.12L111.24 382.83L115.12 383.45L115.12 396.44L111.24 393.93L107.36 391.52L103.48 389.19L99.6 386.96L95.72 384.83L91.84 382.78L87.96 380.83L84.08 378.97L80.2 377.2L76.32 375.52L72.44 373.93L68.56 372.44L64.68 371.04L60.8 369.73L56.92 368.51L53.04 367.38L49.16 366.35L45.28 365.4L41.4 364.55L37.52 363.8Z" fill="#c4c4c4" fill-opacity="0.8"/>
<g fill="#000" fill-opacity="0.3"><circle cx="85.74" cy="374.47" r="2.3"/><circle cx="74.07" cy="388.23" r="2.3"/><circle cx="71.49" cy="375.28" r="2.3"/><circle cx="72.83" cy="377.95" r="2.3"/><circle cx="73.1" cy="376.87" r="2.3"/><circle cx="64.33" cy="362.71" r="2.3"/><circle cx="79.48" cy="361.97" r="2.3"/><circle cx="73.75" cy="376.54" r="2.3"/><circle cx="69.64" cy="384.02" r="2.3"/><circle cx="80.18" cy="384.53" r="2.3"/><circle cx="65.22" cy="371.7" r="2.3"/><circle cx="83.65" cy="375.25" r="2.3"/><circle cx="66.34" cy="376.15" r="2.3"/><circle cx="77.71" cy="376.13" r="2.3"/><circle cx="68.1" cy="372.99" r="2.3"/><circle cx="78.54" cy="359.5" r="2.3"/><circle cx="64.82" cy="374.88" r="2.3"/><circle cx="67.85" cy="390.26" r="2.3"/><circle cx="67.03" cy="378.88" r="2.3"/><circle cx="81.16" cy="377.22" r="2.3"/><circle cx="62.2" cy="363.78" r="2.3"/><circle cx="70.94" cy="386.08" r="2.3"/><circle cx="69.28" cy="376.29" r="2.3"/><circle cx="67.37" cy="370.65" r="2.3"/><circle cx="57.89" cy="369.38" r="2.3"/><circle cx="80.39" cy="369.11" r="2.3"/><circle cx="81.05" cy="367.25" r="2.3"/><circle cx="83.66" cy="386" r="2.3"/><circle cx="79.24" cy="390.2" r="2.3"/><circle cx="69.24" cy="386.79" r="2.3"/><circle cx="80.63" cy="365.39" r="2.3"/><circle cx="72.04" cy="358.6" r="2.3"/><circle cx="68.74" cy="370.22" r="2.3"/><circle cx="74.46" cy="382.04" r="2.3"/><circle cx="76.42" cy="358.98" r="2.3"/><circle cx="66.33" cy="363.36" r="2.3"/><circle cx="72.33" cy="358.76" r="2.3"/><circle cx="76.74" cy="369.12" r="2.3"/><circle cx="77.84" cy="372.92" r="2.3"/><circle cx="63.77" cy="358.47" r="2.3"/><circle cx="63.94" cy="367.68" r="2.3"/><circle cx="77.64" cy="381.47" r="2.3"/><circle cx="74.4" cy="364.32" r="2.3"/><circle cx="73.23" cy="380.18" r="2.3"/><circle cx="53.28" cy="373.2" r="2.3"/><circle cx="69.32" cy="375.73" r="2.3"/><circle cx="66.78" cy="367.67" r="2.3"/><circle cx="69.43" cy="372.55" r="2.3"/><circle cx="78.09" cy="381.78" r="2.3"/><circle cx="71.33" cy="355.29" r="2.3"/><circle cx="79.43" cy="385.77" r="2.3"/><circle cx="72.85" cy="368.51" r="2.3"/><circle cx="81.91" cy="375.28" r="2.3"/><circle cx="69.74" cy="377.59" r="2.3"/><circle cx="77.85" cy="372.42" r="2.3"/><circle cx="69.84" cy="373.33" r="2.3"/><circle cx="70.53" cy="366.35" r="2.3"/><circle cx="68.64" cy="367.52" r="2.3"/><circle cx="79.28" cy="371.59" r="2.3"/><circle cx="67.64" cy="360.33" r="2.3"/><circle cx="68.72" cy="368.02" r="2.3"/><circle cx="68.2" cy="385.04" r="2.3"/><circle cx="74.96" cy="371.52" r="2.3"/><circle cx="72.87" cy="370.81" r="2.3"/><circle cx="68.93" cy="377.33" r="2.3"/><circle cx="72.24" cy="357.61" r="2.3"/><circle cx="79.02" cy="379.48" r="2.3"/><circle cx="77.26" cy="378.47" r="2.3"/><circle cx="70.24" cy="365.18" r="2.3"/><circle cx="69.78" cy="385.1" r="2.3"/><circle cx="67.15" cy="370.1" r="2.3"/><circle cx="74.28" cy="363.69" r="2.3"/><circle cx="68.46" cy="365.51" r="2.3"/><circle cx="76.34" cy="375.51" r="2.3"/><circle cx="79.17" cy="371.51" r="2.3"/><circle cx="67.45" cy="362.42" r="2.3"/><circle cx="64.98" cy="369.5" r="2.3"/><circle cx="73.42" cy="369.84" r="2.3"/><circle cx="68.39" cy="371.56" r="2.3"/><circle cx="72.43" cy="364.92" r="2.3"/><circle cx="67.91" cy="370.52" r="2.3"/><circle cx="71.6" cy="382.8" r="2.3"/><circle cx="91.87" cy="380.84" r="2.3"/><circle cx="63.14" cy="358.1" r="2.3"/><circle cx="66.01" cy="367.43" r="2.3"/><circle cx="79.35" cy="380.62" r="2.3"/><circle cx="70.43" cy="376.35" r="2.3"/><circle cx="72.51" cy="385.73" r="2.3"/><circle cx="64.87" cy="371.05" r="2.3"/><circle cx="80.57" cy="370.94" r="2.3"/><circle cx="85.33" cy="372.27" r="2.3"/><circle cx="69.87" cy="372.82" r="2.3"/><circle cx="59.39" cy="375.45" r="2.3"/><circle cx="66.36" cy="368.36" r="2.3"/><circle cx="77.87" cy="379.36" r="2.3"/><circle cx="69.34" cy="383.91" r="2.3"/><circle cx="72.52" cy="370.89" r="2.3"/><circle cx="76.48" cy="380.59" r="2.3"/><circle cx="87.12" cy="368.98" r="2.3"/><circle cx="72.74" cy="377.13" r="2.3"/><circle cx="71.18" cy="371.15" r="2.3"/><circle cx="73.27" cy="369.32" r="2.3"/><circle cx="78.71" cy="364.4" r="2.3"/><circle cx="81.32" cy="377.11" r="2.3"/><circle cx="76.08" cy="377.3" r="2.3"/><circle cx="69.35" cy="356.49" r="2.3"/><circle cx="70.23" cy="356.2" r="2.3"/><circle cx="70.99" cy="370.27" r="2.3"/><circle cx="80.92" cy="375.89" r="2.3"/><circle cx="76.11" cy="376.15" r="2.3"/><circle cx="70.12" cy="373.26" r="2.3"/><circle cx="68.92" cy="358.54" r="2.3"/><circle cx="72.24" cy="359.09" r="2.3"/><circle cx="54.87" cy="365.96" r="2.3"/><circle cx="77.28" cy="377.02" r="2.3"/><circle cx="80.95" cy="371.02" r="2.3"/><circle cx="71.51" cy="369.02" r="2.3"/><circle cx="92.8" cy="378.64" r="2.3"/><circle cx="75.47" cy="377.48" r="2.3"/><circle cx="74.32" cy="383.78" r="2.3"/><circle cx="72.03" cy="353.18" r="2.3"/><circle cx="80.76" cy="370.93" r="2.3"/><circle cx="81.02" cy="361.19" r="2.3"/><circle cx="77.5" cy="358.34" r="2.3"/><circle cx="80.78" cy="374.71" r="2.3"/><circle cx="85.26" cy="396.46" r="2.3"/><circle cx="69.46" cy="369.58" r="2.3"/><circle cx="67.11" cy="372.03" r="2.3"/><circle cx="68.99" cy="376.7" r="2.3"/><circle cx="92.11" cy="375.39" r="2.3"/><circle cx="73.03" cy="362.63" r="2.3"/><circle cx="71.76" cy="365.55" r="2.3"/><circle cx="75.82" cy="361.23" r="2.3"/><circle cx="63.6" cy="363.37" r="2.3"/><circle cx="74.24" cy="382.7" r="2.3"/><circle cx="80.75" cy="382.94" r="2.3"/><circle cx="84.57" cy="373.41" r="2.3"/><circle cx="78.2" cy="374.4" r="2.3"/><circle cx="79.64" cy="390.39" r="2.3"/><circle cx="73.92" cy="378.38" r="2.3"/><circle cx="75.35" cy="374.32" r="2.3"/><circle cx="77.65" cy="381.47" r="2.3"/><circle cx="86.09" cy="359.69" r="2.3"/><circle cx="71.96" cy="372.77" r="2.3"/><circle cx="75.38" cy="363.93" r="2.3"/><circle cx="86.49" cy="387.78" r="2.3"/><circle cx="69.16" cy="380" r="2.3"/><circle cx="65.72" cy="383.26" r="2.3"/><circle cx="75.9" cy="383.35" r="2.3"/><circle cx="83.77" cy="369.97" r="2.3"/><circle cx="66.3" cy="378.65" r="2.3"/><circle cx="69.17" cy="360.48" r="2.3"/><circle cx="67.54" cy="382.8" r="2.3"/><circle cx="73.06" cy="370.11" r="2.3"/><circle cx="68.86" cy="358.62" r="2.3"/><circle cx="75.06" cy="370.24" r="2.3"/><circle cx="67.5" cy="371.25" r="2.3"/><circle cx="72.32" cy="390.81" r="2.3"/><circle cx="75.38" cy="388.2" r="2.3"/><circle cx="73.2" cy="384.81" r="2.3"/><circle cx="87.34" cy="375.95" r="2.3"/><circle cx="79.34" cy="368.19" r="2.3"/><circle cx="64.26" cy="387.8" r="2.3"/><circle cx="71.13" cy="365.21" r="2.3"/><circle cx="74.03" cy="367.21" r="2.3"/><circle cx="79.86" cy="387.51" r="2.3"/><circle cx="75.39" cy="358.36" r="2.3"/><circle cx="69.46" cy="387.78" r="2.3"/><circle cx="71.8" cy="376.27" r="2.3"/><circle cx="76.29" cy="381.38" r="2.3"/><circle cx="74.03" cy="391.03" r="2.3"/><circle cx="79.29" cy="362.87" r="2.3"/><circle cx="82.36" cy="388.65" r="2.3"/><circle cx="75.6" cy="397.71" r="2.3"/><circle cx="75.35" cy="374.46" r="2.3"/><circle cx="66.53" cy="367.84" r="2.3"/><circle cx="74.35" cy="366.11" r="2.3"/><circle cx="74.28" cy="371.67" r="2.3"/><circle cx="59.98" cy="377.26" r="2.3"/><circle cx="70.12" cy="369.59" r="2.3"/><circle cx="73.36" cy="361.28" r="2.3"/><circle cx="67.4" cy="372.8" r="2.3"/><circle cx="75.16" cy="375.71" r="2.3"/><circle cx="76.82" cy="379.04" r="2.3"/><circle cx="83.2" cy="379.49" r="2.3"/><circle cx="81.1" cy="376.39" r="2.3"/><circle cx="83.69" cy="388.23" r="2.3"/><circle cx="76.97" cy="378" r="2.3"/><circle cx="75" cy="364.35" r="2.3"/><circle cx="65.54" cy="380.67" r="2.3"/><circle cx="66.51" cy="368.54" r="2.3"/><circle cx="60.38" cy="367.45" r="2.3"/><circle cx="64.53" cy="378.87" r="2.3"/><circle cx="70.85" cy="369.21" r="2.3"/><circle cx="69.08" cy="375.45" r="2.3"/><circle cx="73.11" cy="375.25" r="2.3"/><circle cx="54.93" cy="369.54" r="2.3"/><circle cx="73.99" cy="364.72" r="2.3"/><circle cx="87.52" cy="373.32" r="2.3"/><circle cx="73.95" cy="381.06" r="2.3"/><circle cx="74.01" cy="367.26" r="2.3"/><circle cx="82.13" cy="383.53" r="2.3"/><circle cx="75.03" cy="367.36" r="2.3"/><circle cx="86.24" cy="376.09" r="2.3"/><circle cx="69.66" cy="377.24" r="2.3"/><circle cx="70.93" cy="377.43" r="2.3"/><circle cx="79.1" cy="366.9" r="2.3"/><circle cx="78.4" cy="365.66" r="2.3"/><circle cx="70.27" cy="368.98" r="2.3"/><circle cx="70.75" cy="371.84" r="2.3"/><circle cx="81.85" cy="376.67" r="2.3"/><circle cx="60.53" cy="370.28" r="2.3"/><circle cx="68.48" cy="383.28" r="2.3"/><circle cx="67.95" cy="363.49" r="2.3"/><circle cx="85" cy="381.52" r="2.3"/><circle cx="80.32" cy="366.51" r="2.3"/><circle cx="65.4" cy="370.45" r="2.3"/><circle cx="73.09" cy="371.72" r="2.3"/><circle cx="62.4" cy="371.76" r="2.3"/><circle cx="80.7" cy="365.99" r="2.3"/><circle cx="86.04" cy="380.72" r="2.3"/><circle cx="86.3" cy="372.86" r="2.3"/><circle cx="64.02" cy="363.57" r="2.3"/><circle cx="70.97" cy="368.15" r="2.3"/><circle cx="72.69" cy="363.35" r="2.3"/><circle cx="75.17" cy="376.12" r="2.3"/><circle cx="80.06" cy="373.72" r="2.3"/><circle cx="70.55" cy="361.98" r="2.3"/><circle cx="70.58" cy="377.17" r="2.3"/><circle cx="69.68" cy="383.4" r="2.3"/><circle cx="69.58" cy="356.98" r="2.3"/><circle cx="67.13" cy="370.73" r="2.3"/><circle cx="65.75" cy="375.12" r="2.3"/><circle cx="83.88" cy="370.11" r="2.3"/><circle cx="69.19" cy="371.54" r="2.3"/><circle cx="67.7" cy="377.24" r="2.3"/><circle cx="67.09" cy="377.9" r="2.3"/><circle cx="75.65" cy="369.33" r="2.3"/><circle cx="76.77" cy="375.83" r="2.3"/><circle cx="64.03" cy="370.14" r="2.3"/><circle cx="67.02" cy="363.77" r="2.3"/><circle cx="77.24" cy="368.75" r="2.3"/><circle cx="71" cy="386.64" r="2.3"/><circle cx="80.01" cy="366.01" r="2.3"/><circle cx="63.17" cy="368.18" r="2.3"/><circle cx="81.63" cy="384.89" r="2.3"/><circle cx="85.6" cy="380.64" r="2.3"/><circle cx="65.98" cy="359.48" r="2.3"/><circle cx="75.43" cy="379.16" r="2.3"/><circle cx="79.47" cy="391.04" r="2.3"/><circle cx="85.93" cy="384.47" r="2.3"/><circle cx="75.37" cy="377.12" r="2.3"/><circle cx="76.41" cy="367.31" r="2.3"/><circle cx="67.72" cy="364.79" r="2.3"/><circle cx="71.37" cy="377.88" r="2.3"/><circle cx="71.85" cy="380.58" r="2.3"/><circle cx="67.91" cy="363.57" r="2.3"/><circle cx="72.36" cy="363.75" r="2.3"/><circle cx="76.38" cy="382.48" r="2.3"/><circle cx="60.3" cy="373.63" r="2.3"/><circle cx="75.22" cy="373.83" r="2.3"/><circle cx="67.67" cy="362.97" r="2.3"/><circle cx="61.35" cy="378.57" r="2.3"/><circle cx="74.28" cy="356.14" r="2.3"/><circle cx="76.26" cy="382.27" r="2.3"/><circle cx="77.49" cy="369.35" r="2.3"/><circle cx="79.87" cy="378.93" r="2.3"/><circle cx="67.88" cy="370.15" r="2.3"/><circle cx="76.27" cy="361.62" r="2.3"/><circle cx="87.82" cy="384.54" r="2.3"/><circle cx="38.9" cy="380.25" r="2.3"/><circle cx="45.8" cy="346.76" r="2.3"/><circle cx="52.7" cy="347.35" r="2.3"/><circle cx="59.6" cy="337.36" r="2.3"/><circle cx="64.2" cy="349.7" r="2.3"/><circle cx="82.14" cy="327.38" r="2.3"/><circle cx="68.8" cy="352.05" r="2.3"/><circle cx="88.58" cy="359.69" r="2.3"/><circle cx="92.72" cy="375.55" r="2.3"/><circle cx="114.8" cy="383.77" r="2.3"/><circle cx="98.24" cy="396.7" r="2.3"/><circle cx="104.68" cy="403.75" r="2.3"/><circle cx="75.7" cy="410.21" r="2.3"/><circle cx="81.68" cy="410.21" r="2.3"/><circle cx="49.94" cy="360.86" r="2.3"/><circle cx="43.04" cy="363.21" r="2.3"/><circle cx="66.96" cy="397.29" r="2.3"/><circle cx="62.82" cy="392.59" r="2.3"/><circle cx="56.84" cy="356.16" r="2.3"/><circle cx="74.32" cy="349.7" r="2.3"/><circle cx="78.92" cy="350.88" r="2.3"/><circle cx="55" cy="351.46" r="2.3"/><circle cx="85.36" cy="396.7" r="2.3"/><circle cx="89.5" cy="392" r="2.3"/><circle cx="70.18" cy="398.46" r="2.3"/><circle cx="94.56" cy="366.15" r="2.3"/><circle cx="53.16" cy="369.68" r="2.3"/><circle cx="83.52" cy="347.35" r="2.3"/><circle cx="87.2" cy="384.95" r="2.3"/><circle cx="58.68" cy="386.12" r="2.3"/><circle cx="60.98" cy="363.8" r="2.3"/></g>
<line x1="37.52" y1="358.69" x2="115.12" y2="389.94" stroke="#f01212" stroke-width="1.9"/>
<rect x="33.4" y="322.4" width="85.5" height="91.4" fill="none" stroke="#333" stroke-width="0.9"/>
<line x1="31.4" y1="326.2" x2="33.4" y2="326.2" stroke="#333" stroke-width="0.8"/>
<text x="28.9" y="329.37" font-size="8.8" fill="#4d4d4d" text-anchor="end">8</text>
<line x1="31.4" y1="349.7" x2="33.4" y2="349.7" stroke="#333" stroke-width="0.8"/>
<text x="28.9" y="352.87" font-size="8.8" fill="#4d4d4d" text-anchor="end">4</text>
<line x1="31.4" y1="373.2" x2="33.4" y2="373.2" stroke="#333" stroke-width="0.8"/>
<text x="28.9" y="376.37" font-size="8.8" fill="#4d4d4d" text-anchor="end">0</text>
<line x1="31.4" y1="396.7" x2="33.4" y2="396.7" stroke="#333" stroke-width="0.8"/>
<text x="28.9" y="399.87" font-size="8.8" fill="#4d4d4d" text-anchor="end">−4</text>
<line x1="50.4" y1="413.8" x2="50.4" y2="415.8" stroke="#333" stroke-width="0.8"/>
<text x="50.4" y="425.4" font-size="8.8" fill="#4d4d4d" text-anchor="middle">−5</text>
<line x1="73.4" y1="413.8" x2="73.4" y2="415.8" stroke="#333" stroke-width="0.8"/>
<text x="73.4" y="425.4" font-size="8.8" fill="#4d4d4d" text-anchor="middle">0</text>
<line x1="96.4" y1="413.8" x2="96.4" y2="415.8" stroke="#333" stroke-width="0.8"/>
<text x="96.4" y="425.4" font-size="8.8" fill="#4d4d4d" text-anchor="middle">5</text>
<text x="74.6" y="337.8" font-size="9.6" fill="#222" font-style="italic">ρ</text>
<text x="79.8" y="337.8" font-size="9.6" fill="#222" textLength="29.2" lengthAdjust="spacingAndGlyphs">=-0.334</text>
<text transform="translate(15,385.8) rotate(-90)" font-size="14" fill="#222">Δ</text>
<text transform="translate(19.6,375.85) rotate(-90)" font-size="9.4" fill="#222" textLength="13" lengthAdjust="spacingAndGlyphs">PCS</text>
<text x="63.2" y="437.2" font-size="13" fill="#222">Δ</text>
<text x="72.48" y="440.8" font-size="9.4" fill="#222" textLength="13.2" lengthAdjust="spacingAndGlyphs">TCS</text>
<text x="126.71" y="330.7" font-size="25.22" fill="#111" font-weight="bold" textLength="12.1" lengthAdjust="spacingAndGlyphs">F</text>
<text x="151.6" y="323.9" font-size="10.6" fill="#111" font-weight="bold" textLength="93.9" lengthAdjust="spacingAndGlyphs">Co-abundance network</text>
<path d="M155.75 380.25L203.39 366.53M156.75 379.6L188.09 387.43M153.1 376.22L209.55 382.3M159.71 387.05L198.76 351.79M156.8 388.77L189.02 363.17M139.66 382.54L196.37 370.07" stroke="#aed2e6" stroke-width="0.75" stroke-opacity="0.6" fill="none"/>
<path d="M137.7 374.97L186.17 391.25M144.72 378.46L203.75 360.15M150.43 392.21L204.59 371.87M146.55 367.88L191.59 378.43M161.25 366.67L194.2 362.29M138.92 379.05L198.08 367.92" stroke="#aed2e6" stroke-width="0.75" stroke-opacity="0.6" fill="none"/>
<path d="M153.1 376.22L207.41 403.07M145.16 377.8L186.17 379.84M153.77 384.13L184.15 400.81M147.05 382.56L206.58 384.49M144.72 378.46L210.71 376.98M155.75 380.25L210.45 393.21" stroke="#aed2e6" stroke-width="0.75" stroke-opacity="0.6" fill="none"/>
<path d="M146.55 367.88L191.72 399.25M146.43 370.54L190.43 387.46M139.66 382.54L197.41 351.38M135.55 371.36L201.77 386.62M148.72 377.42L200.08 356.24M138.87 385.98L191.32 397.26" stroke="#aed2e6" stroke-width="0.75" stroke-opacity="0.6" fill="none"/>
<path d="M144.14 368.51L189.65 363.47M156.75 379.6L206 390.7M157.54 380.54L194.99 402.7M157.54 380.54L204.69 354.28M138.92 379.05L203.58 388.24M144.72 378.46L203.57 371.95" stroke="#aed2e6" stroke-width="0.75" stroke-opacity="0.6" fill="none"/>
<path d="M149.8 388.99L201.09 386.88M146.55 367.88L186.97 391.26M144.14 368.51L186.71 386.65M161.25 366.67L202.38 349.67M157.54 380.54L211.08 384.35M148.47 372.97L189.95 391.06" stroke="#aed2e6" stroke-width="0.75" stroke-opacity="0.6" fill="none"/>
<path d="M149.29 372.81L201.09 379.3M161.25 366.67L188.15 392.63M151.19 378.91L201.73 349.31M156.1 387.83L200.51 366.06M145.95 377.95L200.47 392.4M138.87 385.98L196.68 379.03" stroke="#aed2e6" stroke-width="0.75" stroke-opacity="0.6" fill="none"/>
<path d="M156.75 379.6L209.99 386.72M149.8 388.99L205.12 350.82M144.72 378.46L202.33 352.71M157.54 380.54L207.56 353.16M145.8 384.53L195.89 387.29M151.36 378.08L194.35 357.26" stroke="#aed2e6" stroke-width="0.75" stroke-opacity="0.6" fill="none"/>
<path d="M153.77 384.13L186.07 398.14M150.84 377.04L185.99 371.55M146.55 367.88L193.55 377.11M146.43 370.54L193.66 387.68M157.54 380.54L197.27 388.26M138.92 379.05L203.62 372.87" stroke="#aed2e6" stroke-width="0.75" stroke-opacity="0.6" fill="none"/>
<path d="M146.55 367.88L184.09 351.54M147.71 381.69L211.7 367.95M145.54 381.98L200.41 369.73M153.1 376.22L191.97 400.99M158.31 373.83L185.92 384.23M141.79 365.68L187.17 383.08" stroke="#aed2e6" stroke-width="0.75" stroke-opacity="0.6" fill="none"/>
<path d="M145.94 376.28L189.3 367.27M152.77 384.74L184.22 359.18M156.75 379.6L210.94 386.54M151.19 378.91L211.7 393.95M146.43 370.54L204.64 354.23M150.43 392.21L184.19 395.45" stroke="#aed2e6" stroke-width="0.75" stroke-opacity="0.6" fill="none"/>
<path d="M153.1 376.22L206.66 368.79M138.92 379.05L186.95 351.31M146.55 367.88L204.95 391.68M153.77 384.13L189.6 355.1M135.95 379.86L188.56 391.87M135.95 379.86L206.69 380.91" stroke="#aed2e6" stroke-width="0.75" stroke-opacity="0.6" fill="none"/>
<path d="M144.14 368.51L204.93 370.19M146.43 370.54L190.15 378.22M141.79 365.68L185.32 385.28M156.75 379.6L186.68 355.96M137.7 374.97L204.05 384.05M135.95 379.86L204.66 358.22" stroke="#aed2e6" stroke-width="0.75" stroke-opacity="0.6" fill="none"/>
<path d="M152.77 384.74L198.96 354.22M156.75 379.6L195.83 384.55M152.77 384.74L195.64 373.3M145.54 381.98L211.25 350.37M149.8 388.99L203.37 384.11M149.04 375.49L194.76 375.92" stroke="#aed2e6" stroke-width="0.75" stroke-opacity="0.6" fill="none"/>
<path d="M153.1 376.22L208.38 359.42M145.95 377.95L188.28 387.67M149.04 375.49L201.77 382.31M137.7 374.97L187.99 387.37M156.75 379.6L193.27 356.9M143.14 387.96L207.1 395.4" stroke="#aed2e6" stroke-width="0.75" stroke-opacity="0.6" fill="none"/>
<path d="M155.51 369.46L191.47 370.84M138.87 385.98L210.89 364.89M152.77 384.74L201.41 373.26M156.75 379.6L185.49 372.23M152.77 384.74L198.67 354.17M147.71 381.69L206.22 362.32" stroke="#aed2e6" stroke-width="0.75" stroke-opacity="0.6" fill="none"/>
<path d="M156.75 379.6L184.64 355.09M149.8 388.99L209.04 375.46M138.87 385.98L188.14 367.75M149.04 375.49L200.42 390.58M137.7 374.97L195.59 359.09M152.77 384.74L201.54 361.11" stroke="#aed2e6" stroke-width="0.75" stroke-opacity="0.6" fill="none"/>
<path d="M145.54 381.98L199.71 396.53M145.54 381.98L200.34 397.45M149.04 375.49L207.04 394.68M145.94 376.28L204.85 379.72M151.19 373.05L199.11 348.64M161.25 366.67L185.84 378.12" stroke="#aed2e6" stroke-width="0.75" stroke-opacity="0.6" fill="none"/>
<path d="M141.79 365.68L188.17 357.61M155.75 380.25L185.73 375.27M141.79 365.68L203.95 369.56M153.1 376.22L205.18 395.48M158.31 373.83L186.65 402.76M148.72 377.42L197.83 371.61" stroke="#aed2e6" stroke-width="0.75" stroke-opacity="0.6" fill="none"/>
<path d="M148.47 372.97L195.29 387.82M138.87 385.98L207.58 398.27M135.55 371.36L190.06 382.02M144.14 368.51L201.92 395.53M135.95 379.86L186.96 380.62M138.87 385.98L191.52 364.68" stroke="#aed2e6" stroke-width="0.75" stroke-opacity="0.6" fill="none"/>
<path d="M138.87 385.98L203.03 381.87M147.05 382.56L187.46 391.87M138.92 379.05L195.85 363.74M148.47 372.97L197.4 351.59M153.77 384.13L185.57 370.33M151.36 378.08L211.19 371.11" stroke="#aed2e6" stroke-width="0.75" stroke-opacity="0.6" fill="none"/>
<path d="M145.94 376.28L203.38 362.79M149.8 388.99L194.62 374.3M141.79 365.68L191.77 379.97M151.19 373.05L207.83 399.87M151.36 378.08L185.7 399.78M144.72 378.46L192.31 396.34" stroke="#aed2e6" stroke-width="0.75" stroke-opacity="0.6" fill="none"/>
<path d="M158.31 373.83L201.83 378.66M145.16 377.8L186.11 351.26M153.1 376.22L200.36 351.85M138.87 385.98L199.96 374.57M146.55 367.88L208.78 375.98M147.71 381.69L184.65 353.3" stroke="#aed2e6" stroke-width="0.75" stroke-opacity="0.6" fill="none"/>
<path d="M135.55 371.36L197.38 363.26M161.25 366.67L192.77 388.71M161.25 366.67L186.52 380.8M153.77 384.13L207.77 362.56M144.73 375.37L192.1 374.62M151.19 378.91L205.8 398.35" stroke="#aed2e6" stroke-width="0.75" stroke-opacity="0.6" fill="none"/>
<path d="M150.43 392.21L211.94 361.22M145.49 371.99L190.22 394.36M135.95 379.86L185.64 402.27M148.47 372.97L191.9 398.53M149.29 372.81L197.47 374.73M145.94 377.36L188.79 365.17" stroke="#aed2e6" stroke-width="0.75" stroke-opacity="0.6" fill="none"/>
<path d="M155.51 369.46L189.87 374.16M149.29 372.81L191.34 376.09M153.1 376.22L192.26 354.03M157.54 380.54L188.6 352.68M144.72 378.46L192.61 380.15M141.79 365.68L207.06 379.08" stroke="#aed2e6" stroke-width="0.75" stroke-opacity="0.6" fill="none"/>
<path d="M137.7 374.97L198.28 377.38M150.84 377.04L193.99 373.63M138.92 379.05L189.39 385.88M135.55 371.36L200.75 368.87M159.71 387.05L187.47 351.75M150.43 392.21L205.13 374.29" stroke="#aed2e6" stroke-width="0.75" stroke-opacity="0.6" fill="none"/>
<path d="M155.75 380.25L189.66 401.58M145.94 376.28L209.87 397.97M145.54 381.98L208.05 375.26M138.92 379.05L191.72 350.69M159.71 387.05L208.39 355.92M146.43 370.54L190.3 353.26" stroke="#aed2e6" stroke-width="0.75" stroke-opacity="0.6" fill="none"/>
<path d="M141.79 365.68L205.51 349.89M148.72 377.42L196.45 371.64M161.25 366.67L203.96 393M145.54 381.98L196.59 356.36M158.31 373.83L199.8 389.51M155.75 380.25L209.58 382.28" stroke="#aed2e6" stroke-width="0.75" stroke-opacity="0.6" fill="none"/>
<path d="M156.8 388.77L187.18 363.63M145.16 377.8L199.65 364.17M161.25 366.67L209.54 397.7M154.34 376.63L203.56 363.71M154.34 376.63L199.54 392.71M137.7 374.97L193.1 387.76" stroke="#aed2e6" stroke-width="0.75" stroke-opacity="0.6" fill="none"/>
<path d="M156.75 379.6L186.9 366.53M155.75 380.25L204.69 371.77M147.05 382.56L203.85 377.05M149.04 375.49L206.52 360.96M147.71 381.69L188.81 394.25M135.55 371.36L199.88 359.34" stroke="#aed2e6" stroke-width="0.75" stroke-opacity="0.6" fill="none"/>
<path d="M143.14 387.96L196.61 361.48M135.95 379.86L187.5 401.68M135.95 379.86L196.57 371.67M147.05 382.56L203.14 377.06" stroke="#aed2e6" stroke-width="0.75" stroke-opacity="0.6" fill="none"/>
<path d="M144.14 368.51L188.68 391.69M145.94 376.28L201.38 386.48M149.29 372.81L190.16 406.75M151.36 378.08L198.88 395.18M155.75 380.25L198.22 409.73M150.87 383.46L201.74 393.74" stroke="#f1b4a4" stroke-width="0.7" stroke-opacity="0.7" fill="none"/>
<path d="M145.54 381.98L199.46 409.95M164 401L204.83 392.68M145.95 377.95L212.83 401.14M148.72 377.42L215.86 394.26M149.04 375.49L215.8 390.6M150.87 383.46L189.37 411.2" stroke="#f1b4a4" stroke-width="0.7" stroke-opacity="0.7" fill="none"/>
<path d="M149.29 372.81L194.72 392.09M145.49 371.99L217.35 403.97M145.49 371.99L219.75 391.64M137.7 374.97L191.06 399.34M148.47 372.97L210.69 391.82M144.14 368.51L190.68 404.56" stroke="#f1b4a4" stroke-width="0.7" stroke-opacity="0.7" fill="none"/>
<path d="M145.94 377.36L190.75 395.11M145.54 381.98L214.89 393.56M146.55 367.88L210.13 400.47M149.8 388.99L202.94 405.37M146.43 370.54L196.3 389.33M135.55 371.36L208.83 400.28" stroke="#f1b4a4" stroke-width="0.7" stroke-opacity="0.7" fill="none"/>
<path d="M144.72 378.46L198.62 396.09M137.7 374.97L195.85 392.35M148.47 372.97L204.55 388.11M168 404L201.53 395.75M145.94 376.28L219.2 395.78M143.14 387.96L193.36 396.07" stroke="#f1b4a4" stroke-width="0.7" stroke-opacity="0.7" fill="none"/>
<path d="M153.1 376.22L204.53 404.35M156.1 387.83L196.7 404.75M164 401L215.17 402.82M170 400L219.77 403.04M170 400L208.91 411.28M161.25 366.67L210.1 400.16" stroke="#f1b4a4" stroke-width="0.7" stroke-opacity="0.7" fill="none"/>
<path d="M145.94 377.36L213.09 405.33M146.55 367.88L192.99 399.9M135.95 379.86L209.39 386.97M147.71 381.69L208.1 398.49M144.72 378.46L208.44 390.99M149.8 388.99L218.09 403.59" stroke="#f1b4a4" stroke-width="0.7" stroke-opacity="0.7" fill="none"/>
<path d="M138.87 385.98L210.81 410.79M151.19 373.05L199.86 403.23M155.51 369.46L208.88 406.81M156.1 387.83L216.83 393.66M145.49 371.99L217.49 389.71M155.75 380.25L207.31 410.01" stroke="#f1b4a4" stroke-width="0.7" stroke-opacity="0.7" fill="none"/>
<path d="M135.95 379.86L197.66 397.52M156.8 388.77L196.53 409.2M156.1 387.83L212.28 401.5M145.16 377.8L210.99 395.49M153.1 376.22L216.56 406.84M144.14 368.51L216.94 386.11" stroke="#f1b4a4" stroke-width="0.7" stroke-opacity="0.7" fill="none"/>
<path d="M148.72 377.42L206.54 410.61M147.71 381.69L189.12 410.92M161.25 366.67L210.03 396.03M155.75 380.25L206.21 400.96M149.04 375.49L208.83 392.29M168 404L211.49 410.79" stroke="#f1b4a4" stroke-width="0.7" stroke-opacity="0.7" fill="none"/>
<path d="M156.75 379.6L210.47 391.81M144.73 375.37L193.92 389.39M155.51 369.46L214 397.47M156.1 387.83L206.55 405.69M149.29 372.81L193.4 408.46M145.94 377.36L208.94 403.6" stroke="#f1b4a4" stroke-width="0.7" stroke-opacity="0.7" fill="none"/>
<path d="M144.14 368.51L203.28 407.75M145.94 376.28L199.73 406.7M146.43 370.54L195.78 387.54M145.49 371.99L189.18 398M145.8 384.53L215.28 389.73M155.51 369.46L195.33 393.08" stroke="#f1b4a4" stroke-width="0.7" stroke-opacity="0.7" fill="none"/>
<path d="M145.94 376.28L219.43 392.74M149.04 375.49L216.83 409.43M166 406L214.03 408M147.05 382.56L202.06 389.73M155.75 380.25L188.97 386.62M146.55 367.88L207.25 403.05" stroke="#f1b4a4" stroke-width="0.7" stroke-opacity="0.7" fill="none"/>
<path d="M143.14 387.96L190.7 391.55M145.49 371.99L204.43 410.96M188.9 405.41L196.24 401.3M242.7 353.71L243.17 354.96M208.75 414.82L205.43 408.22M250.99 389.43L248.09 388.7" stroke="#f1b4a4" stroke-width="0.7" stroke-opacity="0.7" fill="none"/>
<path d="M247.17 358.27L243.97 359.07M247.27 405.44L239.98 397.49M203.63 339.08L209.79 343.48M222.84 416.12L225.55 408.99M247.97 361.01L243.17 354.96M204.94 340.44L200.36 348.88" stroke="#f1b4a4" stroke-width="0.7" stroke-opacity="0.7" fill="none"/>
<path d="M242.61 350.79L243.23 355.67M213.92 414.79L209.36 412.05M240.96 350.35L242.05 356.2M211.97 416.25L212.99 414.59M246.82 360.33L243.48 366.09M198.94 414L205.43 408.22" stroke="#f1b4a4" stroke-width="0.7" stroke-opacity="0.7" fill="none"/>
<path d="M236.26 413.79L228.92 410.11M189.35 394.88L194.18 394.38M190.96 353.37L192.03 358.72M227.3 418.87L223.63 410.26M236.67 343.69L229.46 346.86M204.06 411.38L203.04 404.87" stroke="#f1b4a4" stroke-width="0.7" stroke-opacity="0.7" fill="none"/>
<path d="M213.34 339.34L219.19 340.81M218.61 339.84L219.33 341.96M249.45 400.85L241.46 394.18M251.1 390.75L243.25 390.22M250.68 386.65L246.83 384.57M232.08 417.08L226.49 413.74" stroke="#f1b4a4" stroke-width="0.7" stroke-opacity="0.7" fill="none"/>
<path d="M216.5 339.18L219.33 341.96M187.57 356.95L190.3 359.57M247.05 399.55L244.81 395.14M218.15 340.06L219.33 341.96M220.19 417.66L227.12 412.5M255.42 379.06L246.83 384.57" stroke="#f1b4a4" stroke-width="0.7" stroke-opacity="0.7" fill="none"/>
<path d="M189.14 403.71L196.21 404.4M199.11 344.32L201.93 350.35M242.97 406.24L239 398.35M250.62 379.25L247.2 378.35M235.14 342.03L229.46 346.86M227.01 337.16L230.31 345.09" stroke="#f1b4a4" stroke-width="0.7" stroke-opacity="0.7" fill="none"/>
<path d="M254.26 363.45L246.27 360.52M216.93 420.07L219.77 409.28M187.48 400.23L194.18 394.38M247.38 350.97L243.23 355.67M219.05 335.93L214.18 341.01M254.8 378.56L247.5 377.41" stroke="#f1b4a4" stroke-width="0.7" stroke-opacity="0.7" fill="none"/>
<path d="M251.31 373.17L248.09 369.4M210.33 340.54L208.41 344.17M221.99 336.14L221.79 344.94M227.82 418.65L223.63 410.26M206.37 418.09L210.45 409.74M254.57 386.35L248.56 386.63" stroke="#f1b4a4" stroke-width="0.7" stroke-opacity="0.7" fill="none"/>
<path d="M225.48 416.89L226.49 413.74M238.64 413.21L228.92 410.11M228.46 415.86L234.25 407.92M195.46 407.19L196.83 400.93M224.08 419.53L223.52 413.72M184.9 358.33L192.03 358.72" stroke="#f1b4a4" stroke-width="0.7" stroke-opacity="0.7" fill="none"/>
<path d="M237.79 412.39L231.01 405.32M246.75 396.1L244.57 392.1M210.51 337.48L219.61 342.05M248.71 396.57L244.81 395.14M215.07 336.03L209.79 343.48M247.4 355.13L243.23 355.67" stroke="#f1b4a4" stroke-width="0.7" stroke-opacity="0.7" fill="none"/>
<path d="M249.1 362.67L243.97 359.07M190.27 349.79L198.35 353.04M250.66 378.4L246.63 379.37M203.47 412.83L203.04 404.87M234.35 414.76L234.27 409.91M195.34 346.65L197.25 349.83" stroke="#f1b4a4" stroke-width="0.7" stroke-opacity="0.7" fill="none"/>
<path d="M207.31 340.52L210.44 344.1M196.01 406.33L196.21 404.4M225.31 417.9L216.54 414.15M234.33 341.92L228.93 347.3M246.63 349.81L240.11 356.94M223.04 336.29L220.76 343.49" stroke="#f1b4a4" stroke-width="0.7" stroke-opacity="0.7" fill="none"/>
<path d="M254.72 381.87L246.83 384.57M254.44 387.01L247.31 382.89M188.89 395.08L188.91 388.31M248.24 361.75L243.48 366.09M254.35 367.63L246.7 361.35M250.21 358.45L247.79 364" stroke="#f1b4a4" stroke-width="0.7" stroke-opacity="0.7" fill="none"/>
<path d="M195.96 411.77L197.63 403.5M249.13 367.29L244.2 370.31M235.75 412.79L234.05 405.07M252.07 384.82L247.31 382.89M188.5 395.78L192.96 389.13M253.22 388.94L248.56 386.63" stroke="#f1b4a4" stroke-width="0.7" stroke-opacity="0.7" fill="none"/>
<path d="M221.01 419.95L226.56 413.3M184.82 399.01L190.05 395.27M207.38 417.36L216.54 414.15M209.57 419.08L213.05 409.81M211.62 419.45L213.05 409.81M195.55 411.36L204.11 406.19" stroke="#f1b4a4" stroke-width="0.7" stroke-opacity="0.7" fill="none"/>
<path d="M190.69 349.21L198.35 353.04M193.27 349.11L198.35 353.04M186.41 389.66L190.82 384.03M242.52 403.68L235.61 401.85M251.18 359.97L242.05 356.2M248.04 354.48L243.17 354.96" stroke="#f1b4a4" stroke-width="0.7" stroke-opacity="0.7" fill="none"/>
<path d="M225.45 414.01L228.92 410.11M226.83 341.94L224.88 343.76M196.33 406.65L199.08 406.14M213.29 419.74L216.22 413.7M201.7 414.42L208.31 411.95M209.47 416.95L210.16 407.76" stroke="#f1b4a4" stroke-width="0.7" stroke-opacity="0.7" fill="none"/>
<path d="M192.01 406.85L196.24 401.3M252.26 398.03L240.83 397.29M239.36 406.12L236.46 401.89M247.23 356.67L243.23 355.67M251.82 379.09L246.9 378.46M231.34 338.71L224.88 343.76" stroke="#f1b4a4" stroke-width="0.7" stroke-opacity="0.7" fill="none"/>
<path d="M194.86 344.72L197.45 351.07M213.62 418.54L213.24 407.74M235.15 341.79L231.69 349.82M220.19 417.48L226.49 413.74M240.88 346.41L243.17 354.96M197.39 412.51L203.04 404.87" stroke="#f1b4a4" stroke-width="0.7" stroke-opacity="0.7" fill="none"/>
<path d="M240.25 411.74L234.27 409.91M194.6 408.96L197.63 403.5M196.3 412.56L196.21 404.4M234.97 415.68L223.52 413.72M200.46 345.38L200.36 348.88M236.77 410.46L234.27 409.91" stroke="#f1b4a4" stroke-width="0.7" stroke-opacity="0.7" fill="none"/>
<path d="M225.35 339.72L221.5 341.15M171 340L191.08 358.84M177 344L191.05 358.5M181 352L193.59 356.51M188 341L191.99 356.27M175 358L191.08 358.84" stroke="#f1b4a4" stroke-width="0.7" stroke-opacity="0.7" fill="none"/>
<path d="M183 362L191.21 360.32M172 366L189.46 373.9M222 400L258 401M222 402L258 403M222 404L258 405" stroke="#f1b4a4" stroke-width="0.7" stroke-opacity="0.7" fill="none"/>
<ellipse cx="219" cy="376.5" rx="29.6" ry="33.2" fill="#efb9c6" fill-opacity="0.7"/>
<g fill="#93119c"><circle cx="204.54" cy="340.31" r="1.32"/><circle cx="210.37" cy="339.93" r="1.32"/><circle cx="216.33" cy="340.36" r="1.32"/><circle cx="219.06" cy="339.89" r="1.32"/><circle cx="203.47" cy="342.69" r="1.32"/><circle cx="206.08" cy="342.5" r="1.32"/><circle cx="214.6" cy="342.45" r="1.32"/><circle cx="228.92" cy="342.37" r="1.32"/><circle cx="231.92" cy="342.17" r="1.32"/><circle cx="240.18" cy="342.02" r="1.32"/><circle cx="205.12" cy="344.98" r="1.32"/><circle cx="207.74" cy="344.55" r="1.32"/><circle cx="216.43" cy="345.11" r="1.32"/><circle cx="219.11" cy="345.2" r="1.32"/><circle cx="224.57" cy="344.68" r="1.32"/><circle cx="230.65" cy="344.61" r="1.32"/><circle cx="238.63" cy="345.13" r="1.32"/><circle cx="197.92" cy="347.62" r="1.32"/><circle cx="203.64" cy="347.75" r="1.32"/><circle cx="206.19" cy="347.79" r="1.32"/><circle cx="209.12" cy="347.07" r="1.32"/><circle cx="211.48" cy="347.18" r="1.32"/><circle cx="214.74" cy="346.93" r="1.32"/><circle cx="217.22" cy="347.58" r="1.32"/><circle cx="220.71" cy="347.39" r="1.32"/><circle cx="223.47" cy="347.27" r="1.32"/><circle cx="226.28" cy="347.26" r="1.32"/><circle cx="228.61" cy="347.74" r="1.32"/><circle cx="231.48" cy="347.22" r="1.32"/><circle cx="234.93" cy="347.27" r="1.32"/><circle cx="196.44" cy="350.06" r="1.32"/><circle cx="199.46" cy="349.8" r="1.32"/><circle cx="204.96" cy="349.91" r="1.32"/><circle cx="207.37" cy="349.85" r="1.32"/><circle cx="210.86" cy="349.96" r="1.32"/><circle cx="213.75" cy="349.41" r="1.32"/><circle cx="215.99" cy="350.08" r="1.32"/><circle cx="219.46" cy="349.58" r="1.32"/><circle cx="221.55" cy="349.89" r="1.32"/><circle cx="225.05" cy="349.52" r="1.32"/><circle cx="227.81" cy="349.59" r="1.32"/><circle cx="230.39" cy="350.15" r="1.32"/><circle cx="233.64" cy="349.79" r="1.32"/><circle cx="241.53" cy="349.46" r="1.32"/><circle cx="191.97" cy="352.61" r="1.32"/><circle cx="203.76" cy="352.54" r="1.32"/><circle cx="206.36" cy="352.63" r="1.32"/><circle cx="209.18" cy="352.52" r="1.32"/><circle cx="211.97" cy="351.88" r="1.32"/><circle cx="215.01" cy="352.28" r="1.32"/><circle cx="217.98" cy="352.15" r="1.32"/><circle cx="220.89" cy="352.33" r="1.32"/><circle cx="223.45" cy="352.6" r="1.32"/><circle cx="226.39" cy="352.36" r="1.32"/><circle cx="229.22" cy="352.64" r="1.32"/><circle cx="231.8" cy="352.03" r="1.32"/><circle cx="234.74" cy="352.62" r="1.32"/><circle cx="237.57" cy="352.33" r="1.32"/><circle cx="240.64" cy="352.6" r="1.32"/><circle cx="192.96" cy="354.87" r="1.32"/><circle cx="195.95" cy="354.8" r="1.32"/><circle cx="199.47" cy="355.05" r="1.32"/><circle cx="201.96" cy="354.72" r="1.32"/><circle cx="204.66" cy="354.79" r="1.32"/><circle cx="207.24" cy="354.85" r="1.32"/><circle cx="210.21" cy="354.91" r="1.32"/><circle cx="213.54" cy="354.41" r="1.32"/><circle cx="216.18" cy="354.42" r="1.32"/><circle cx="219.49" cy="354.54" r="1.32"/><circle cx="221.71" cy="354.71" r="1.32"/><circle cx="225.03" cy="354.45" r="1.32"/><circle cx="227.54" cy="355.06" r="1.32"/><circle cx="230.46" cy="354.58" r="1.32"/><circle cx="233.15" cy="354.35" r="1.32"/><circle cx="235.77" cy="354.32" r="1.32"/><circle cx="238.63" cy="355.02" r="1.32"/><circle cx="242.13" cy="354.91" r="1.32"/><circle cx="194.67" cy="357.66" r="1.32"/><circle cx="197.9" cy="356.79" r="1.32"/><circle cx="200.13" cy="356.8" r="1.32"/><circle cx="203.38" cy="356.95" r="1.32"/><circle cx="206.56" cy="357.65" r="1.32"/><circle cx="209" cy="357.06" r="1.32"/><circle cx="211.5" cy="357.08" r="1.32"/><circle cx="215.05" cy="357.37" r="1.32"/><circle cx="217.21" cy="357.13" r="1.32"/><circle cx="220.14" cy="357.21" r="1.32"/><circle cx="223.48" cy="357.22" r="1.32"/><circle cx="226.21" cy="356.85" r="1.32"/><circle cx="228.76" cy="357.22" r="1.32"/><circle cx="232.03" cy="357.19" r="1.32"/><circle cx="234.53" cy="357.24" r="1.32"/><circle cx="237.68" cy="357.36" r="1.32"/><circle cx="240.71" cy="357.44" r="1.32"/><circle cx="243.66" cy="356.91" r="1.32"/><circle cx="249.22" cy="357.02" r="1.32"/><circle cx="251.73" cy="356.85" r="1.32"/><circle cx="187.51" cy="359.26" r="1.32"/><circle cx="190.28" cy="359.92" r="1.32"/><circle cx="193.81" cy="359.92" r="1.32"/><circle cx="196.07" cy="359.41" r="1.32"/><circle cx="198.99" cy="359.91" r="1.32"/><circle cx="201.98" cy="360.07" r="1.32"/><circle cx="204.72" cy="359.77" r="1.32"/><circle cx="207.95" cy="359.6" r="1.32"/><circle cx="210.54" cy="359.8" r="1.32"/><circle cx="213.21" cy="359.82" r="1.32"/><circle cx="215.79" cy="359.33" r="1.32"/><circle cx="218.84" cy="359.37" r="1.32"/><circle cx="221.5" cy="359.92" r="1.32"/><circle cx="225.01" cy="359.58" r="1.32"/><circle cx="227.79" cy="360.04" r="1.32"/><circle cx="230.26" cy="359.81" r="1.32"/><circle cx="233.67" cy="359.26" r="1.32"/><circle cx="236.06" cy="359.97" r="1.32"/><circle cx="239.23" cy="359.53" r="1.32"/><circle cx="241.63" cy="359.3" r="1.32"/><circle cx="188.91" cy="362.5" r="1.32"/><circle cx="192.32" cy="362" r="1.32"/><circle cx="195.07" cy="361.96" r="1.32"/><circle cx="197.74" cy="361.81" r="1.32"/><circle cx="200.11" cy="361.97" r="1.32"/><circle cx="203.48" cy="362.03" r="1.32"/><circle cx="206.06" cy="361.99" r="1.32"/><circle cx="209.15" cy="361.91" r="1.32"/><circle cx="211.61" cy="362.44" r="1.32"/><circle cx="214.47" cy="362.5" r="1.32"/><circle cx="217.65" cy="362.58" r="1.32"/><circle cx="220.59" cy="362" r="1.32"/><circle cx="223.32" cy="362.42" r="1.32"/><circle cx="225.96" cy="362.12" r="1.32"/><circle cx="229.41" cy="362.35" r="1.32"/><circle cx="231.45" cy="361.92" r="1.32"/><circle cx="234.98" cy="361.9" r="1.32"/><circle cx="237.89" cy="362.34" r="1.32"/><circle cx="240.11" cy="362.34" r="1.32"/><circle cx="243.06" cy="362.51" r="1.32"/><circle cx="246.53" cy="361.95" r="1.32"/><circle cx="249.33" cy="362.19" r="1.32"/><circle cx="187.72" cy="364.21" r="1.32"/><circle cx="190.98" cy="364.59" r="1.32"/><circle cx="193.49" cy="364.29" r="1.32"/><circle cx="195.82" cy="364.79" r="1.32"/><circle cx="199.37" cy="364.95" r="1.32"/><circle cx="202.38" cy="364.91" r="1.32"/><circle cx="205.13" cy="364.67" r="1.32"/><circle cx="207.22" cy="364.83" r="1.32"/><circle cx="210.12" cy="364.89" r="1.32"/><circle cx="212.96" cy="364.42" r="1.32"/><circle cx="216.51" cy="364.61" r="1.32"/><circle cx="218.71" cy="364.93" r="1.32"/><circle cx="222.03" cy="364.74" r="1.32"/><circle cx="224.82" cy="365.06" r="1.32"/><circle cx="227.4" cy="364.4" r="1.32"/><circle cx="230.65" cy="364.33" r="1.32"/><circle cx="232.9" cy="365.05" r="1.32"/><circle cx="235.77" cy="364.51" r="1.32"/><circle cx="239.19" cy="364.47" r="1.32"/><circle cx="242.26" cy="364.74" r="1.32"/><circle cx="244.71" cy="364.93" r="1.32"/><circle cx="183.33" cy="366.64" r="1.32"/><circle cx="186.71" cy="367.16" r="1.32"/><circle cx="189.3" cy="367.51" r="1.32"/><circle cx="192.14" cy="366.98" r="1.32"/><circle cx="194.98" cy="366.8" r="1.32"/><circle cx="197.84" cy="367.44" r="1.32"/><circle cx="200.09" cy="366.98" r="1.32"/><circle cx="203.67" cy="367.04" r="1.32"/><circle cx="206.24" cy="367.21" r="1.32"/><circle cx="209.11" cy="367.11" r="1.32"/><circle cx="212.31" cy="367.1" r="1.32"/><circle cx="214.43" cy="367.02" r="1.32"/><circle cx="217.59" cy="367.29" r="1.32"/><circle cx="220.66" cy="366.88" r="1.32"/><circle cx="223.53" cy="367.41" r="1.32"/><circle cx="226.11" cy="367.53" r="1.32"/><circle cx="229.03" cy="366.95" r="1.32"/><circle cx="231.53" cy="367.01" r="1.32"/><circle cx="234.38" cy="367.48" r="1.32"/><circle cx="237.91" cy="367.36" r="1.32"/><circle cx="239.99" cy="367.21" r="1.32"/><circle cx="243.52" cy="367.15" r="1.32"/><circle cx="246.39" cy="367.37" r="1.32"/><circle cx="254.38" cy="366.98" r="1.32"/><circle cx="184.99" cy="369.46" r="1.32"/><circle cx="190.54" cy="369.7" r="1.32"/><circle cx="193.37" cy="369.26" r="1.32"/><circle cx="196.6" cy="369.73" r="1.32"/><circle cx="199.53" cy="369.2" r="1.32"/><circle cx="201.68" cy="369.2" r="1.32"/><circle cx="204.75" cy="369.35" r="1.32"/><circle cx="207.54" cy="369.47" r="1.32"/><circle cx="210.45" cy="369.21" r="1.32"/><circle cx="213.5" cy="369.3" r="1.32"/><circle cx="216.1" cy="369.63" r="1.32"/><circle cx="219.36" cy="369.68" r="1.32"/><circle cx="221.65" cy="369.49" r="1.32"/><circle cx="224.46" cy="369.51" r="1.32"/><circle cx="227.79" cy="369.18" r="1.32"/><circle cx="230.64" cy="369.44" r="1.32"/><circle cx="232.91" cy="369.2" r="1.32"/><circle cx="236.46" cy="369.14" r="1.32"/><circle cx="238.87" cy="369.65" r="1.32"/><circle cx="242.11" cy="369.13" r="1.32"/><circle cx="244.88" cy="369.61" r="1.32"/><circle cx="247.98" cy="369.24" r="1.32"/><circle cx="183.19" cy="372.41" r="1.32"/><circle cx="192.3" cy="372.33" r="1.32"/><circle cx="194.41" cy="372.1" r="1.32"/><circle cx="197.49" cy="372.02" r="1.32"/><circle cx="200.08" cy="371.93" r="1.32"/><circle cx="203.75" cy="371.6" r="1.32"/><circle cx="206.23" cy="371.6" r="1.32"/><circle cx="209.42" cy="372.46" r="1.32"/><circle cx="211.81" cy="371.62" r="1.32"/><circle cx="214.88" cy="371.91" r="1.32"/><circle cx="217.35" cy="371.82" r="1.32"/><circle cx="220.15" cy="372.34" r="1.32"/><circle cx="223.54" cy="371.77" r="1.32"/><circle cx="225.91" cy="372.01" r="1.32"/><circle cx="229.19" cy="371.9" r="1.32"/><circle cx="231.85" cy="371.73" r="1.32"/><circle cx="235.1" cy="372.43" r="1.32"/><circle cx="237.66" cy="371.87" r="1.32"/><circle cx="240.63" cy="371.95" r="1.32"/><circle cx="242.97" cy="372.36" r="1.32"/><circle cx="246.27" cy="371.87" r="1.32"/><circle cx="249.31" cy="372.04" r="1.32"/><circle cx="184.83" cy="374.59" r="1.32"/><circle cx="188.07" cy="374.06" r="1.32"/><circle cx="190.54" cy="374.74" r="1.32"/><circle cx="192.98" cy="374.1" r="1.32"/><circle cx="196.57" cy="374.17" r="1.32"/><circle cx="199.03" cy="374.71" r="1.32"/><circle cx="202.31" cy="374.51" r="1.32"/><circle cx="205.02" cy="374.32" r="1.32"/><circle cx="207.49" cy="374.74" r="1.32"/><circle cx="210.72" cy="374.21" r="1.32"/><circle cx="213.28" cy="374.75" r="1.32"/><circle cx="215.84" cy="374.17" r="1.32"/><circle cx="219.24" cy="374.58" r="1.32"/><circle cx="222.1" cy="374.35" r="1.32"/><circle cx="224.9" cy="374.13" r="1.32"/><circle cx="227.9" cy="374.05" r="1.32"/><circle cx="230.69" cy="374.3" r="1.32"/><circle cx="233" cy="374.12" r="1.32"/><circle cx="236.48" cy="374.06" r="1.32"/><circle cx="238.91" cy="374.9" r="1.32"/><circle cx="241.96" cy="374.7" r="1.32"/><circle cx="244.3" cy="374.74" r="1.32"/><circle cx="247.33" cy="374.73" r="1.32"/><circle cx="253.24" cy="374.69" r="1.32"/><circle cx="186.03" cy="377.08" r="1.32"/><circle cx="188.83" cy="377.1" r="1.32"/><circle cx="192.05" cy="377.19" r="1.32"/><circle cx="194.75" cy="377.31" r="1.32"/><circle cx="198.1" cy="377.27" r="1.32"/><circle cx="200.14" cy="376.9" r="1.32"/><circle cx="203.27" cy="376.95" r="1.32"/><circle cx="206.36" cy="376.56" r="1.32"/><circle cx="208.82" cy="377.27" r="1.32"/><circle cx="212.12" cy="377.2" r="1.32"/><circle cx="215.22" cy="376.56" r="1.32"/><circle cx="217.58" cy="376.7" r="1.32"/><circle cx="220.16" cy="376.8" r="1.32"/><circle cx="223.59" cy="377.39" r="1.32"/><circle cx="225.97" cy="376.73" r="1.32"/><circle cx="228.71" cy="376.51" r="1.32"/><circle cx="232.1" cy="377.31" r="1.32"/><circle cx="234.42" cy="376.79" r="1.32"/><circle cx="237.88" cy="376.6" r="1.32"/><circle cx="240.86" cy="377.25" r="1.32"/><circle cx="242.83" cy="377.38" r="1.32"/><circle cx="246.42" cy="376.84" r="1.32"/><circle cx="251.77" cy="376.79" r="1.32"/><circle cx="187.92" cy="379.56" r="1.32"/><circle cx="193.14" cy="379.5" r="1.32"/><circle cx="196.17" cy="379.63" r="1.32"/><circle cx="199.53" cy="379.59" r="1.32"/><circle cx="201.81" cy="379.62" r="1.32"/><circle cx="205" cy="379.05" r="1.32"/><circle cx="208.07" cy="379.86" r="1.32"/><circle cx="210.2" cy="379.45" r="1.32"/><circle cx="213.73" cy="379.47" r="1.32"/><circle cx="216.43" cy="379.54" r="1.32"/><circle cx="219.21" cy="379.6" r="1.32"/><circle cx="221.81" cy="379.32" r="1.32"/><circle cx="224.57" cy="379.72" r="1.32"/><circle cx="227.31" cy="379.68" r="1.32"/><circle cx="230.21" cy="379.37" r="1.32"/><circle cx="233.39" cy="378.99" r="1.32"/><circle cx="236.4" cy="379.79" r="1.32"/><circle cx="238.57" cy="379.69" r="1.32"/><circle cx="241.81" cy="379.73" r="1.32"/><circle cx="244.64" cy="379.07" r="1.32"/><circle cx="247.76" cy="379.47" r="1.32"/><circle cx="250.35" cy="379.35" r="1.32"/><circle cx="186.34" cy="381.89" r="1.32"/><circle cx="188.74" cy="382.15" r="1.32"/><circle cx="191.82" cy="382.13" r="1.32"/><circle cx="195.08" cy="381.76" r="1.32"/><circle cx="197.64" cy="381.55" r="1.32"/><circle cx="200.27" cy="381.63" r="1.32"/><circle cx="203.5" cy="381.97" r="1.32"/><circle cx="206.37" cy="381.8" r="1.32"/><circle cx="209.01" cy="381.81" r="1.32"/><circle cx="211.92" cy="381.58" r="1.32"/><circle cx="214.66" cy="381.89" r="1.32"/><circle cx="217.54" cy="382.01" r="1.32"/><circle cx="220.39" cy="382.2" r="1.32"/><circle cx="223.42" cy="382.34" r="1.32"/><circle cx="226.16" cy="381.69" r="1.32"/><circle cx="229.13" cy="382.05" r="1.32"/><circle cx="232.09" cy="382.12" r="1.32"/><circle cx="235.14" cy="382.02" r="1.32"/><circle cx="237.41" cy="382.33" r="1.32"/><circle cx="240.31" cy="382.25" r="1.32"/><circle cx="243.05" cy="381.54" r="1.32"/><circle cx="246.07" cy="381.7" r="1.32"/><circle cx="248.77" cy="382.08" r="1.32"/><circle cx="252.17" cy="382.15" r="1.32"/><circle cx="185.08" cy="384.67" r="1.32"/><circle cx="187.96" cy="384.72" r="1.32"/><circle cx="193.69" cy="384.46" r="1.32"/><circle cx="196.31" cy="384.81" r="1.32"/><circle cx="198.8" cy="384.6" r="1.32"/><circle cx="202.21" cy="384.17" r="1.32"/><circle cx="204.58" cy="384.47" r="1.32"/><circle cx="207.49" cy="384.46" r="1.32"/><circle cx="210.18" cy="384.12" r="1.32"/><circle cx="213.25" cy="384.28" r="1.32"/><circle cx="216.12" cy="384.61" r="1.32"/><circle cx="218.7" cy="384.57" r="1.32"/><circle cx="222.29" cy="384.35" r="1.32"/><circle cx="224.44" cy="384.53" r="1.32"/><circle cx="227.38" cy="384.28" r="1.32"/><circle cx="230.32" cy="384.42" r="1.32"/><circle cx="233.11" cy="384.38" r="1.32"/><circle cx="236.09" cy="384.27" r="1.32"/><circle cx="238.99" cy="383.99" r="1.32"/><circle cx="242.07" cy="384.09" r="1.32"/><circle cx="244.62" cy="383.93" r="1.32"/><circle cx="252.99" cy="384.24" r="1.32"/><circle cx="189.51" cy="386.55" r="1.32"/><circle cx="194.88" cy="387.23" r="1.32"/><circle cx="198.06" cy="386.52" r="1.32"/><circle cx="200.15" cy="386.56" r="1.32"/><circle cx="203.03" cy="386.99" r="1.32"/><circle cx="206.6" cy="386.44" r="1.32"/><circle cx="208.83" cy="387.18" r="1.32"/><circle cx="211.82" cy="386.68" r="1.32"/><circle cx="214.88" cy="386.73" r="1.32"/><circle cx="217.96" cy="387.21" r="1.32"/><circle cx="220.55" cy="386.7" r="1.32"/><circle cx="223.76" cy="386.92" r="1.32"/><circle cx="225.95" cy="386.8" r="1.32"/><circle cx="228.81" cy="386.92" r="1.32"/><circle cx="231.68" cy="386.56" r="1.32"/><circle cx="234.69" cy="387.06" r="1.32"/><circle cx="237.75" cy="386.87" r="1.32"/><circle cx="240.44" cy="386.68" r="1.32"/><circle cx="243.47" cy="387.21" r="1.32"/><circle cx="246.23" cy="386.96" r="1.32"/><circle cx="248.69" cy="387.17" r="1.32"/><circle cx="251.49" cy="387.08" r="1.32"/><circle cx="193.84" cy="389.01" r="1.32"/><circle cx="195.83" cy="389.45" r="1.32"/><circle cx="199.07" cy="389.55" r="1.32"/><circle cx="202.36" cy="388.99" r="1.32"/><circle cx="205.09" cy="389.4" r="1.32"/><circle cx="207.91" cy="389.44" r="1.32"/><circle cx="210.22" cy="389.59" r="1.32"/><circle cx="213.79" cy="389.08" r="1.32"/><circle cx="216.29" cy="389.13" r="1.32"/><circle cx="219.04" cy="389.05" r="1.32"/><circle cx="222.32" cy="389.51" r="1.32"/><circle cx="224.64" cy="389.13" r="1.32"/><circle cx="227.76" cy="389.57" r="1.32"/><circle cx="230.2" cy="389.24" r="1.32"/><circle cx="233.01" cy="389.07" r="1.32"/><circle cx="236.06" cy="389.36" r="1.32"/><circle cx="239.07" cy="389.7" r="1.32"/><circle cx="242.15" cy="389.48" r="1.32"/><circle cx="244.81" cy="389.07" r="1.32"/><circle cx="247.44" cy="389.44" r="1.32"/><circle cx="186.37" cy="391.35" r="1.32"/><circle cx="189.25" cy="392.06" r="1.32"/><circle cx="192.23" cy="391.86" r="1.32"/><circle cx="195" cy="391.69" r="1.32"/><circle cx="197.78" cy="392" r="1.32"/><circle cx="200.62" cy="392.13" r="1.32"/><circle cx="203.43" cy="391.56" r="1.32"/><circle cx="206.12" cy="392.01" r="1.32"/><circle cx="209.06" cy="391.87" r="1.32"/><circle cx="211.82" cy="391.95" r="1.32"/><circle cx="214.96" cy="391.61" r="1.32"/><circle cx="217.82" cy="391.45" r="1.32"/><circle cx="220.88" cy="391.71" r="1.32"/><circle cx="223.61" cy="391.32" r="1.32"/><circle cx="226.5" cy="391.94" r="1.32"/><circle cx="228.89" cy="391.37" r="1.32"/><circle cx="231.78" cy="391.59" r="1.32"/><circle cx="235" cy="391.72" r="1.32"/><circle cx="237.39" cy="391.76" r="1.32"/><circle cx="240.63" cy="391.55" r="1.32"/><circle cx="246.18" cy="392.16" r="1.32"/><circle cx="248.72" cy="391.94" r="1.32"/><circle cx="192.99" cy="394.07" r="1.32"/><circle cx="196.09" cy="394.67" r="1.32"/><circle cx="199.15" cy="394.18" r="1.32"/><circle cx="202.38" cy="394.3" r="1.32"/><circle cx="205.25" cy="393.93" r="1.32"/><circle cx="208.02" cy="393.84" r="1.32"/><circle cx="210.4" cy="394.33" r="1.32"/><circle cx="213.32" cy="393.99" r="1.32"/><circle cx="216.46" cy="393.87" r="1.32"/><circle cx="218.66" cy="393.79" r="1.32"/><circle cx="221.69" cy="393.86" r="1.32"/><circle cx="224.79" cy="394.53" r="1.32"/><circle cx="227.5" cy="394.25" r="1.32"/><circle cx="230.55" cy="394.22" r="1.32"/><circle cx="233.52" cy="393.97" r="1.32"/><circle cx="236.11" cy="394.4" r="1.32"/><circle cx="239.16" cy="393.94" r="1.32"/><circle cx="241.62" cy="394.4" r="1.32"/><circle cx="244.79" cy="393.96" r="1.32"/><circle cx="195.01" cy="396.4" r="1.32"/><circle cx="197.36" cy="396.94" r="1.32"/><circle cx="200.57" cy="396.96" r="1.32"/><circle cx="203.21" cy="396.28" r="1.32"/><circle cx="206.32" cy="396.65" r="1.32"/><circle cx="209.22" cy="396.26" r="1.32"/><circle cx="211.96" cy="396.99" r="1.32"/><circle cx="214.38" cy="396.52" r="1.32"/><circle cx="218.06" cy="396.4" r="1.32"/><circle cx="220.17" cy="396.87" r="1.32"/><circle cx="223.32" cy="396.69" r="1.32"/><circle cx="226.62" cy="397.08" r="1.32"/><circle cx="229.08" cy="396.54" r="1.32"/><circle cx="231.62" cy="396.49" r="1.32"/><circle cx="234.63" cy="396.8" r="1.32"/><circle cx="237.36" cy="397.09" r="1.32"/><circle cx="240.83" cy="396.77" r="1.32"/><circle cx="243.47" cy="396.5" r="1.32"/><circle cx="193.53" cy="398.81" r="1.32"/><circle cx="198.78" cy="399.57" r="1.32"/><circle cx="201.54" cy="398.93" r="1.32"/><circle cx="204.68" cy="399.57" r="1.32"/><circle cx="207.31" cy="398.93" r="1.32"/><circle cx="210.7" cy="398.88" r="1.32"/><circle cx="213.13" cy="399.32" r="1.32"/><circle cx="215.91" cy="398.92" r="1.32"/><circle cx="219.46" cy="398.88" r="1.32"/><circle cx="221.91" cy="398.83" r="1.32"/><circle cx="224.58" cy="399.38" r="1.32"/><circle cx="227.94" cy="398.79" r="1.32"/><circle cx="230.52" cy="399.04" r="1.32"/><circle cx="233.43" cy="399.42" r="1.32"/><circle cx="236.52" cy="399.16" r="1.32"/><circle cx="238.78" cy="399.36" r="1.32"/><circle cx="241.58" cy="398.74" r="1.32"/><circle cx="244.59" cy="399.45" r="1.32"/><circle cx="194.41" cy="401.69" r="1.32"/><circle cx="198.11" cy="402" r="1.32"/><circle cx="203.39" cy="401.86" r="1.32"/><circle cx="206.06" cy="401.34" r="1.32"/><circle cx="208.9" cy="401.41" r="1.32"/><circle cx="211.86" cy="401.23" r="1.32"/><circle cx="214.64" cy="401.99" r="1.32"/><circle cx="217.42" cy="401.87" r="1.32"/><circle cx="220.86" cy="402.06" r="1.32"/><circle cx="223.04" cy="401.46" r="1.32"/><circle cx="226.13" cy="401.51" r="1.32"/><circle cx="229.05" cy="401.98" r="1.32"/><circle cx="231.8" cy="401.61" r="1.32"/><circle cx="234.79" cy="402.08" r="1.32"/><circle cx="237.38" cy="401.2" r="1.32"/><circle cx="240.66" cy="402.05" r="1.32"/><circle cx="243.24" cy="401.86" r="1.32"/><circle cx="199.01" cy="404.21" r="1.32"/><circle cx="205.16" cy="404.31" r="1.32"/><circle cx="207.72" cy="404.19" r="1.32"/><circle cx="210.23" cy="403.95" r="1.32"/><circle cx="213.78" cy="403.85" r="1.32"/><circle cx="216.07" cy="404.49" r="1.32"/><circle cx="218.64" cy="403.84" r="1.32"/><circle cx="222.29" cy="404.21" r="1.32"/><circle cx="224.4" cy="404.32" r="1.32"/><circle cx="227.39" cy="403.94" r="1.32"/><circle cx="230.87" cy="404.28" r="1.32"/><circle cx="235.88" cy="403.81" r="1.32"/><circle cx="238.99" cy="403.87" r="1.32"/><circle cx="206.4" cy="406.37" r="1.32"/><circle cx="209.48" cy="406.8" r="1.32"/><circle cx="211.54" cy="406.86" r="1.32"/><circle cx="214.77" cy="406.81" r="1.32"/><circle cx="217.44" cy="406.35" r="1.32"/><circle cx="220.46" cy="406.79" r="1.32"/><circle cx="223.1" cy="406.68" r="1.32"/><circle cx="225.79" cy="406.79" r="1.32"/><circle cx="231.93" cy="406.43" r="1.32"/><circle cx="234.42" cy="406.39" r="1.32"/><circle cx="240.03" cy="406.59" r="1.32"/><circle cx="207.37" cy="408.9" r="1.32"/><circle cx="210.61" cy="409.18" r="1.32"/><circle cx="213.05" cy="409.13" r="1.32"/><circle cx="216.44" cy="409.01" r="1.32"/><circle cx="219.04" cy="408.95" r="1.32"/><circle cx="227.2" cy="408.6" r="1.32"/><circle cx="233.4" cy="409" r="1.32"/><circle cx="206.62" cy="411.41" r="1.32"/><circle cx="209.47" cy="411.22" r="1.32"/><circle cx="211.88" cy="411.85" r="1.32"/><circle cx="217.32" cy="411.18" r="1.32"/><circle cx="220.09" cy="411.64" r="1.32"/><circle cx="226.14" cy="411.75" r="1.32"/><circle cx="229.23" cy="411.23" r="1.32"/><circle cx="231.75" cy="411.87" r="1.32"/><circle cx="234.33" cy="411.84" r="1.32"/><circle cx="215.79" cy="414.19" r="1.32"/></g>
<g fill="#93119c"><circle cx="188.9" cy="405.41" r="1.32"/><circle cx="242.7" cy="353.71" r="1.32"/><circle cx="208.75" cy="414.82" r="1.32"/><circle cx="250.99" cy="389.43" r="1.32"/><circle cx="247.17" cy="358.27" r="1.32"/><circle cx="247.27" cy="405.44" r="1.32"/><circle cx="203.63" cy="339.08" r="1.32"/><circle cx="222.84" cy="416.12" r="1.32"/><circle cx="247.97" cy="361.01" r="1.32"/><circle cx="204.94" cy="340.44" r="1.32"/><circle cx="242.61" cy="350.79" r="1.32"/><circle cx="213.92" cy="414.79" r="1.32"/><circle cx="240.96" cy="350.35" r="1.32"/><circle cx="211.97" cy="416.25" r="1.32"/><circle cx="246.82" cy="360.33" r="1.32"/><circle cx="198.94" cy="414" r="1.32"/><circle cx="236.26" cy="413.79" r="1.32"/><circle cx="189.35" cy="394.88" r="1.32"/><circle cx="190.96" cy="353.37" r="1.32"/><circle cx="227.3" cy="418.87" r="1.32"/><circle cx="236.67" cy="343.69" r="1.32"/><circle cx="204.06" cy="411.38" r="1.32"/><circle cx="213.34" cy="339.34" r="1.32"/><circle cx="218.61" cy="339.84" r="1.32"/><circle cx="249.45" cy="400.85" r="1.32"/><circle cx="251.1" cy="390.75" r="1.32"/><circle cx="250.68" cy="386.65" r="1.32"/><circle cx="232.08" cy="417.08" r="1.32"/><circle cx="216.5" cy="339.18" r="1.32"/><circle cx="187.57" cy="356.95" r="1.32"/><circle cx="247.05" cy="399.55" r="1.32"/><circle cx="218.15" cy="340.06" r="1.32"/><circle cx="220.19" cy="417.66" r="1.32"/><circle cx="255.42" cy="379.06" r="1.32"/><circle cx="189.14" cy="403.71" r="1.32"/><circle cx="199.11" cy="344.32" r="1.32"/><circle cx="242.97" cy="406.24" r="1.32"/><circle cx="250.62" cy="379.25" r="1.32"/><circle cx="235.14" cy="342.03" r="1.32"/><circle cx="227.01" cy="337.16" r="1.32"/><circle cx="254.26" cy="363.45" r="1.32"/><circle cx="216.93" cy="420.07" r="1.32"/><circle cx="187.48" cy="400.23" r="1.32"/><circle cx="247.38" cy="350.97" r="1.32"/><circle cx="219.05" cy="335.93" r="1.32"/><circle cx="254.8" cy="378.56" r="1.32"/><circle cx="251.31" cy="373.17" r="1.32"/><circle cx="210.33" cy="340.54" r="1.32"/><circle cx="221.99" cy="336.14" r="1.32"/><circle cx="227.82" cy="418.65" r="1.32"/><circle cx="206.37" cy="418.09" r="1.32"/><circle cx="254.57" cy="386.35" r="1.32"/><circle cx="225.48" cy="416.89" r="1.32"/><circle cx="238.64" cy="413.21" r="1.32"/><circle cx="228.46" cy="415.86" r="1.32"/><circle cx="195.46" cy="407.19" r="1.32"/><circle cx="224.08" cy="419.53" r="1.32"/><circle cx="184.9" cy="358.33" r="1.32"/><circle cx="237.79" cy="412.39" r="1.32"/><circle cx="246.75" cy="396.1" r="1.32"/><circle cx="210.51" cy="337.48" r="1.32"/><circle cx="248.71" cy="396.57" r="1.32"/><circle cx="215.07" cy="336.03" r="1.32"/><circle cx="247.4" cy="355.13" r="1.32"/><circle cx="249.1" cy="362.67" r="1.32"/><circle cx="190.27" cy="349.79" r="1.32"/><circle cx="250.66" cy="378.4" r="1.32"/><circle cx="203.47" cy="412.83" r="1.32"/><circle cx="234.35" cy="414.76" r="1.32"/><circle cx="195.34" cy="346.65" r="1.32"/><circle cx="207.31" cy="340.52" r="1.32"/><circle cx="196.01" cy="406.33" r="1.32"/><circle cx="225.31" cy="417.9" r="1.32"/><circle cx="234.33" cy="341.92" r="1.32"/><circle cx="246.63" cy="349.81" r="1.32"/><circle cx="223.04" cy="336.29" r="1.32"/><circle cx="254.72" cy="381.87" r="1.32"/><circle cx="254.44" cy="387.01" r="1.32"/><circle cx="188.89" cy="395.08" r="1.32"/><circle cx="248.24" cy="361.75" r="1.32"/><circle cx="254.35" cy="367.63" r="1.32"/><circle cx="250.21" cy="358.45" r="1.32"/><circle cx="195.96" cy="411.77" r="1.32"/><circle cx="249.13" cy="367.29" r="1.32"/><circle cx="235.75" cy="412.79" r="1.32"/><circle cx="252.07" cy="384.82" r="1.32"/><circle cx="188.5" cy="395.78" r="1.32"/><circle cx="253.22" cy="388.94" r="1.32"/><circle cx="221.01" cy="419.95" r="1.32"/><circle cx="184.82" cy="399.01" r="1.32"/><circle cx="207.38" cy="417.36" r="1.32"/><circle cx="209.57" cy="419.08" r="1.32"/><circle cx="211.62" cy="419.45" r="1.32"/><circle cx="195.55" cy="411.36" r="1.32"/><circle cx="190.69" cy="349.21" r="1.32"/><circle cx="193.27" cy="349.11" r="1.32"/><circle cx="186.41" cy="389.66" r="1.32"/><circle cx="242.52" cy="403.68" r="1.32"/><circle cx="251.18" cy="359.97" r="1.32"/><circle cx="248.04" cy="354.48" r="1.32"/><circle cx="225.45" cy="414.01" r="1.32"/><circle cx="226.83" cy="341.94" r="1.32"/><circle cx="196.33" cy="406.65" r="1.32"/><circle cx="213.29" cy="419.74" r="1.32"/><circle cx="201.7" cy="414.42" r="1.32"/><circle cx="209.47" cy="416.95" r="1.32"/><circle cx="192.01" cy="406.85" r="1.32"/><circle cx="252.26" cy="398.03" r="1.32"/><circle cx="239.36" cy="406.12" r="1.32"/><circle cx="247.23" cy="356.67" r="1.32"/><circle cx="251.82" cy="379.09" r="1.32"/><circle cx="231.34" cy="338.71" r="1.32"/><circle cx="194.86" cy="344.72" r="1.32"/><circle cx="213.62" cy="418.54" r="1.32"/><circle cx="235.15" cy="341.79" r="1.32"/><circle cx="220.19" cy="417.48" r="1.32"/><circle cx="240.88" cy="346.41" r="1.32"/><circle cx="197.39" cy="412.51" r="1.32"/><circle cx="240.25" cy="411.74" r="1.32"/><circle cx="194.6" cy="408.96" r="1.32"/><circle cx="196.3" cy="412.56" r="1.32"/><circle cx="234.97" cy="415.68" r="1.32"/><circle cx="200.46" cy="345.38" r="1.32"/><circle cx="236.77" cy="410.46" r="1.32"/><circle cx="225.35" cy="339.72" r="1.32"/><circle cx="171" cy="340" r="1.32"/><circle cx="177" cy="344" r="1.32"/><circle cx="181" cy="352" r="1.32"/><circle cx="188" cy="341" r="1.32"/><circle cx="175" cy="358" r="1.32"/><circle cx="183" cy="362" r="1.32"/><circle cx="172" cy="366" r="1.32"/></g>
<g fill="#f7a11a"><circle cx="145.16" cy="377.8" r="1.35"/><circle cx="153.77" cy="384.13" r="1.35"/><circle cx="156.8" cy="388.77" r="1.35"/><circle cx="149.29" cy="372.81" r="1.35"/><circle cx="159.71" cy="387.05" r="1.35"/><circle cx="147.05" cy="382.56" r="1.35"/><circle cx="146.55" cy="367.88" r="1.35"/><circle cx="155.75" cy="380.25" r="1.35"/><circle cx="149.8" cy="388.99" r="1.35"/><circle cx="158.31" cy="373.83" r="1.35"/><circle cx="141.79" cy="365.68" r="1.35"/><circle cx="149.04" cy="375.49" r="1.35"/><circle cx="151.36" cy="378.08" r="1.35"/><circle cx="144.73" cy="375.37" r="1.35"/><circle cx="138.87" cy="385.98" r="1.35"/><circle cx="145.54" cy="381.98" r="1.35"/><circle cx="144.72" cy="378.46" r="1.35"/><circle cx="153.1" cy="376.22" r="1.35"/><circle cx="147.71" cy="381.69" r="1.35"/><circle cx="148.47" cy="372.97" r="1.35"/><circle cx="157.54" cy="380.54" r="1.35"/><circle cx="150.87" cy="383.46" r="1.35"/><circle cx="150.84" cy="377.04" r="1.35"/><circle cx="156.75" cy="379.6" r="1.35"/><circle cx="152.77" cy="384.74" r="1.35"/><circle cx="155.51" cy="369.46" r="1.35"/><circle cx="151.19" cy="373.05" r="1.35"/><circle cx="135.95" cy="379.86" r="1.35"/><circle cx="137.7" cy="374.97" r="1.35"/><circle cx="145.95" cy="377.95" r="1.35"/><circle cx="145.49" cy="371.99" r="1.35"/><circle cx="143.14" cy="387.96" r="1.35"/><circle cx="145.94" cy="377.36" r="1.35"/><circle cx="161.25" cy="366.67" r="1.35"/><circle cx="135.55" cy="371.36" r="1.35"/><circle cx="146.43" cy="370.54" r="1.35"/><circle cx="148.72" cy="377.42" r="1.35"/><circle cx="138.92" cy="379.05" r="1.35"/><circle cx="139.66" cy="382.54" r="1.35"/><circle cx="150.43" cy="392.21" r="1.35"/><circle cx="154.34" cy="376.63" r="1.35"/><circle cx="151.19" cy="378.91" r="1.35"/><circle cx="144.14" cy="368.51" r="1.35"/><circle cx="156.1" cy="387.83" r="1.35"/><circle cx="145.94" cy="376.28" r="1.35"/><circle cx="145.8" cy="384.53" r="1.35"/><circle cx="164" cy="401" r="1.35"/><circle cx="168" cy="404" r="1.35"/><circle cx="170" cy="400" r="1.35"/><circle cx="166" cy="406" r="1.35"/></g>
<text x="135.2" y="362.6" font-size="10" fill="#111" font-weight="bold" textLength="14.9" lengthAdjust="spacingAndGlyphs">PCS</text>
<text x="234.6" y="339.3" font-size="10" fill="#111" font-weight="bold" textLength="14.4" lengthAdjust="spacingAndGlyphs">TCS</text>
<text x="142.8" y="347" font-size="6.6" fill="#5656b8" textLength="22" lengthAdjust="spacingAndGlyphs">Negative</text>
<text x="235.2" y="425.2" font-size="6.6" fill="#e0604f" textLength="19.6" lengthAdjust="spacingAndGlyphs">Positive</text>
<line x1="154.8" y1="350.7" x2="160.93" y2="364.65" stroke="#111" stroke-width="1.1"/>
<path d="M162.1 367.3L159.27 364.83L162.2 363.54Z" fill="#111"/>
<line x1="247.6" y1="418" x2="248.36" y2="409.09" stroke="#111" stroke-width="1.1"/>
<path d="M248.6 406.2L249.91 409.72L246.72 409.45Z" fill="#111"/>
<text x="140.6" y="424.2" font-size="11.8" fill="#333">|</text>
<text x="143.9" y="424.2" font-size="11.8" fill="#333" font-style="italic">ρ</text>
<text x="149.9" y="424.2" font-size="11.8" fill="#333" textLength="24.9" lengthAdjust="spacingAndGlyphs">| &gt; 0.3</text>
<text x="277.34" y="330.75" font-size="25.35" fill="#111" font-weight="bold" textLength="14.87" lengthAdjust="spacingAndGlyphs">G</text>
<text x="356.8" y="312.1" font-size="9.3" fill="#222" text-anchor="middle" textLength="44" lengthAdjust="spacingAndGlyphs">p = 0.0034</text>
<line x1="334.3" y1="316.4" x2="378.3" y2="316.4" stroke="#111" stroke-width="2.6"/>
<line x1="334.1" y1="334.8" x2="334.1" y2="342.07" stroke="#333" stroke-width="0.8"/>
<line x1="334.1" y1="360.68" x2="334.1" y2="386.21" stroke="#333" stroke-width="0.8"/>
<rect x="318.2" y="342.07" width="31.8" height="18.62" fill="#fff" stroke="#333" stroke-width="0.8"/>
<line x1="318.2" y1="352.53" x2="350" y2="352.53" stroke="#222" stroke-width="1.7"/>
<circle cx="334.1" cy="396.67" r="1.7" fill="#333"/>
<circle cx="334.1" cy="411.21" r="1.7" fill="#333"/>
<line x1="376.4" y1="327.71" x2="376.4" y2="339.41" stroke="#333" stroke-width="0.8"/>
<line x1="376.4" y1="347.56" x2="376.4" y2="358.91" stroke="#333" stroke-width="0.8"/>
<rect x="360.5" y="339.41" width="31.8" height="8.16" fill="#fff" stroke="#333" stroke-width="0.8"/>
<line x1="360.5" y1="342.24" x2="392.3" y2="342.24" stroke="#222" stroke-width="1.7"/>
<circle cx="376.4" cy="373.98" r="1.7" fill="#333"/>
<circle cx="376.4" cy="382.49" r="1.7" fill="#333"/>
<rect x="308.6" y="322.9" width="92.1" height="92.1" fill="none" stroke="#333" stroke-width="0.9"/>
<line x1="306.6" y1="341.18" x2="308.6" y2="341.18" stroke="#333" stroke-width="0.8"/>
<text x="305.6" y="344.35" font-size="8.8" fill="#4d4d4d" text-anchor="end">0.8</text>
<line x1="306.6" y1="358.91" x2="308.6" y2="358.91" stroke="#333" stroke-width="0.8"/>
<text x="305.6" y="362.08" font-size="8.8" fill="#4d4d4d" text-anchor="end">0.7</text>
<line x1="306.6" y1="376.64" x2="308.6" y2="376.64" stroke="#333" stroke-width="0.8"/>
<text x="305.6" y="379.81" font-size="8.8" fill="#4d4d4d" text-anchor="end">0.6</text>
<line x1="306.6" y1="394.37" x2="308.6" y2="394.37" stroke="#333" stroke-width="0.8"/>
<text x="305.6" y="397.54" font-size="8.8" fill="#4d4d4d" text-anchor="end">0.5</text>
<line x1="306.6" y1="412.1" x2="308.6" y2="412.1" stroke="#333" stroke-width="0.8"/>
<text x="305.6" y="415.27" font-size="8.8" fill="#4d4d4d" text-anchor="end">0.4</text>
<line x1="334.1" y1="415" x2="334.1" y2="417" stroke="#333" stroke-width="0.8"/>
<line x1="376.4" y1="415" x2="376.4" y2="417" stroke="#333" stroke-width="0.8"/>
<text transform="translate(287.6,378.3) rotate(-90)" font-size="10.2" fill="#222" text-anchor="middle" textLength="77.5" lengthAdjust="spacingAndGlyphs">Jaccard (subject)</text>
<line x1="408" y1="368.6" x2="408" y2="328.5" stroke="#111" stroke-width="1.1"/>
<path d="M408 324.4L409.9 329L406.1 329Z" fill="#111"/>
<line x1="408" y1="373.7" x2="408" y2="411.1" stroke="#111" stroke-width="1.1"/>
<path d="M408 415.2L406.1 410.6L409.9 410.6Z" fill="#111"/>
<text transform="translate(418.8,343.9) rotate(-90)" font-size="7.8" fill="#111" stroke="#111" stroke-width="0.15" text-anchor="middle" textLength="28.5" lengthAdjust="spacingAndGlyphs">Simmilar</text>
<text transform="translate(418.8,391.8) rotate(-90)" font-size="7.8" fill="#111" stroke="#111" stroke-width="0.15" text-anchor="middle" textLength="33.6" lengthAdjust="spacingAndGlyphs">Dissimilar</text>
<text transform="translate(346.2,423.4) rotate(-45)" font-size="10.8" fill="#222" text-anchor="end">Subjects with ↑TCS</text>
<text transform="translate(354.7,432.9) rotate(-45)" font-size="10.8" fill="#222" text-anchor="end">(u &gt; 2, N=31)</text>
<text transform="translate(394.5,423.4) rotate(-45)" font-size="10.8" fill="#222" text-anchor="end">Subjects with ↓TCS</text>
<text transform="translate(401.2,433.8) rotate(-45)" font-size="10.8" fill="#222" text-anchor="end">(u &lt; -2, N=37)</text>
<text x="435.11" y="330.7" font-size="25.22" fill="#111" font-weight="bold" textLength="14.32" lengthAdjust="spacingAndGlyphs">H</text>
<clipPath id="cph"><rect x="460.2" y="321.5" width="87" height="91.3"/></clipPath>
<g clip-path="url(#cph)">
<g fill="rgb(188,188,188)" fill-opacity="0.04"><circle cx="507.82" cy="384.83" r="2.3"/><circle cx="511.14" cy="371.46" r="2.3"/><circle cx="509.36" cy="367.8" r="2.3"/><circle cx="506.1" cy="372.46" r="2.3"/><circle cx="507.93" cy="376.89" r="2.3"/><circle cx="508.65" cy="366.98" r="2.3"/><circle cx="511.55" cy="366.47" r="2.3"/><circle cx="505.75" cy="378.55" r="2.3"/></g>
<g fill="rgb(171,171,171)" fill-opacity="0.08"><circle cx="500.68" cy="380.02" r="2.3"/><circle cx="502.68" cy="376.36" r="2.3"/><circle cx="500.76" cy="364.4" r="2.3"/><circle cx="499.43" cy="360.05" r="2.3"/><circle cx="503.75" cy="367.04" r="2.3"/><circle cx="499.95" cy="365.97" r="2.3"/><circle cx="502.85" cy="372.51" r="2.3"/></g>
<g fill="rgb(153,153,153)" fill-opacity="0.1"><circle cx="498.55" cy="377.97" r="2.3"/><circle cx="498.23" cy="366.25" r="2.3"/><circle cx="497.67" cy="367.25" r="2.3"/><circle cx="497.85" cy="367.93" r="2.3"/><circle cx="495.68" cy="371.33" r="2.3"/><circle cx="495.43" cy="368.19" r="2.3"/><circle cx="498.66" cy="369.3" r="2.3"/><circle cx="497.63" cy="362.72" r="2.3"/><circle cx="497.05" cy="369.99" r="2.3"/><circle cx="494.15" cy="375.02" r="2.3"/></g>
<g fill="rgb(136,136,136)" fill-opacity="0.14"><circle cx="493.92" cy="373.03" r="2.3"/></g>
<g fill="rgb(118,118,118)" fill-opacity="0.16"><circle cx="485.87" cy="369.16" r="2.3"/><circle cx="484.25" cy="374.85" r="2.3"/><circle cx="484.69" cy="373.06" r="2.3"/><circle cx="488.64" cy="371.7" r="2.3"/><circle cx="487.09" cy="373.01" r="2.3"/><circle cx="486.87" cy="372.79" r="2.3"/><circle cx="485.31" cy="371.73" r="2.3"/><circle cx="487.15" cy="362.92" r="2.3"/><circle cx="486.31" cy="368.76" r="2.3"/><circle cx="484.6" cy="364.31" r="2.3"/><circle cx="484.49" cy="369.34" r="2.3"/><circle cx="488.16" cy="361.37" r="2.3"/><circle cx="485.48" cy="367.6" r="2.3"/><circle cx="487" cy="367.82" r="2.3"/><circle cx="488.41" cy="369.29" r="2.3"/><circle cx="484.58" cy="366.53" r="2.3"/><circle cx="485.18" cy="376.79" r="2.3"/><circle cx="485.73" cy="374.07" r="2.3"/><circle cx="484.56" cy="378.21" r="2.3"/><circle cx="484.03" cy="377.14" r="2.3"/><circle cx="488.24" cy="366.52" r="2.3"/><circle cx="486.56" cy="375.72" r="2.3"/><circle cx="484.41" cy="367.61" r="2.3"/><circle cx="484.13" cy="364.3" r="2.3"/></g>
<g fill="rgb(101,101,101)" fill-opacity="0.2"><circle cx="478.99" cy="363.56" r="2.3"/><circle cx="479.22" cy="370.86" r="2.3"/><circle cx="480.63" cy="369.37" r="2.3"/><circle cx="480.85" cy="368.31" r="2.3"/><circle cx="480.59" cy="361.19" r="2.3"/><circle cx="479.59" cy="366.28" r="2.3"/><circle cx="482.51" cy="374.71" r="2.3"/><circle cx="481.44" cy="366.96" r="2.3"/><circle cx="480.45" cy="368.99" r="2.3"/><circle cx="479.4" cy="372.82" r="2.3"/><circle cx="478.93" cy="371.14" r="2.3"/><circle cx="480.4" cy="379.39" r="2.3"/><circle cx="481.48" cy="365.71" r="2.3"/><circle cx="481.21" cy="367.32" r="2.3"/><circle cx="479.05" cy="369.88" r="2.3"/><circle cx="479.4" cy="372.87" r="2.3"/><circle cx="479.9" cy="372.11" r="2.3"/><circle cx="481.72" cy="376.12" r="2.3"/><circle cx="480.14" cy="374.64" r="2.3"/><circle cx="480.79" cy="365.88" r="2.3"/><circle cx="482.89" cy="373.79" r="2.3"/><circle cx="479.32" cy="364.05" r="2.3"/><circle cx="482.44" cy="363.95" r="2.3"/><circle cx="482.7" cy="370.1" r="2.3"/><circle cx="480.19" cy="374.48" r="2.3"/><circle cx="483.82" cy="371.02" r="2.3"/><circle cx="481.43" cy="375.21" r="2.3"/><circle cx="481.6" cy="369.44" r="2.3"/><circle cx="479.18" cy="370.48" r="2.3"/><circle cx="479.79" cy="372.66" r="2.3"/><circle cx="481.29" cy="370.14" r="2.3"/><circle cx="480.73" cy="377.58" r="2.3"/><circle cx="479.51" cy="371.19" r="2.3"/><circle cx="482.16" cy="369.63" r="2.3"/><circle cx="479.14" cy="373.5" r="2.3"/><circle cx="482.04" cy="371.93" r="2.3"/><circle cx="483.09" cy="372.34" r="2.3"/><circle cx="479.34" cy="369.13" r="2.3"/><circle cx="480.67" cy="379.62" r="2.3"/><circle cx="479.83" cy="368.89" r="2.3"/><circle cx="480.72" cy="375.8" r="2.3"/><circle cx="481" cy="376.71" r="2.3"/><circle cx="480.11" cy="369.25" r="2.3"/><circle cx="483.47" cy="362.72" r="2.3"/><circle cx="480.12" cy="369.12" r="2.3"/><circle cx="479.03" cy="371.24" r="2.3"/><circle cx="482.18" cy="375.69" r="2.3"/><circle cx="483.57" cy="366.7" r="2.3"/><circle cx="479.42" cy="371.71" r="2.3"/><circle cx="479.71" cy="371.07" r="2.3"/><circle cx="483.09" cy="367.46" r="2.3"/><circle cx="479.38" cy="371.04" r="2.3"/><circle cx="482.38" cy="376.12" r="2.3"/><circle cx="479.51" cy="370.98" r="2.3"/><circle cx="481.11" cy="380.81" r="2.3"/><circle cx="483.97" cy="375.96" r="2.3"/></g>
<g fill="rgb(83,83,83)" fill-opacity="0.22"><circle cx="475.31" cy="372.24" r="2.3"/><circle cx="473.9" cy="373.77" r="2.3"/><circle cx="477.02" cy="367.98" r="2.3"/><circle cx="474.5" cy="365.45" r="2.3"/><circle cx="478.29" cy="372.52" r="2.3"/><circle cx="476.51" cy="369.6" r="2.3"/><circle cx="474.82" cy="361.19" r="2.3"/><circle cx="478.65" cy="375.12" r="2.3"/><circle cx="477.84" cy="370.1" r="2.3"/><circle cx="475.95" cy="372.49" r="2.3"/><circle cx="477.99" cy="373.23" r="2.3"/><circle cx="474.39" cy="371.62" r="2.3"/><circle cx="473.96" cy="380.39" r="2.3"/><circle cx="477.75" cy="372.03" r="2.3"/><circle cx="474.96" cy="371.97" r="2.3"/><circle cx="474.73" cy="380.81" r="2.3"/><circle cx="474.26" cy="361.19" r="2.3"/><circle cx="477.15" cy="375.29" r="2.3"/><circle cx="475.87" cy="375.18" r="2.3"/><circle cx="475.3" cy="373.4" r="2.3"/><circle cx="475.1" cy="364.72" r="2.3"/><circle cx="475.44" cy="368.72" r="2.3"/><circle cx="473.9" cy="369.33" r="2.3"/><circle cx="477.73" cy="369.02" r="2.3"/><circle cx="475.97" cy="367.54" r="2.3"/><circle cx="477.12" cy="368.56" r="2.3"/><circle cx="477.19" cy="363.09" r="2.3"/><circle cx="478.82" cy="366.71" r="2.3"/><circle cx="477.09" cy="376.33" r="2.3"/><circle cx="476.06" cy="372.82" r="2.3"/><circle cx="473.89" cy="375.52" r="2.3"/><circle cx="478.49" cy="364.34" r="2.3"/><circle cx="476.45" cy="366.86" r="2.3"/><circle cx="477.31" cy="376.21" r="2.3"/><circle cx="477.53" cy="369.48" r="2.3"/><circle cx="477.29" cy="373.55" r="2.3"/><circle cx="474.21" cy="368.01" r="2.3"/><circle cx="474.6" cy="375.42" r="2.3"/><circle cx="474.48" cy="376.52" r="2.3"/><circle cx="475.36" cy="374.38" r="2.3"/><circle cx="478.09" cy="380.77" r="2.3"/><circle cx="478.9" cy="375.29" r="2.3"/><circle cx="476.34" cy="371.16" r="2.3"/><circle cx="478.52" cy="367.45" r="2.3"/><circle cx="474.58" cy="371.76" r="2.3"/><circle cx="474.58" cy="371.65" r="2.3"/><circle cx="477.45" cy="373.66" r="2.3"/><circle cx="478.03" cy="370.32" r="2.3"/><circle cx="475.1" cy="370.27" r="2.3"/><circle cx="475.47" cy="370.13" r="2.3"/><circle cx="476.74" cy="365.47" r="2.3"/><circle cx="477.32" cy="376.41" r="2.3"/><circle cx="476.25" cy="369.54" r="2.3"/><circle cx="478.77" cy="368.25" r="2.3"/><circle cx="475.6" cy="372.29" r="2.3"/><circle cx="477.42" cy="371.15" r="2.3"/><circle cx="475.74" cy="371.88" r="2.3"/><circle cx="474.27" cy="378.28" r="2.3"/><circle cx="474.42" cy="368.46" r="2.3"/><circle cx="475.44" cy="373.24" r="2.3"/><circle cx="477.02" cy="373.85" r="2.3"/><circle cx="475.58" cy="377.76" r="2.3"/><circle cx="478.63" cy="367.02" r="2.3"/><circle cx="478.86" cy="372.15" r="2.3"/><circle cx="477.43" cy="373.33" r="2.3"/><circle cx="477.37" cy="377.24" r="2.3"/><circle cx="478.43" cy="370.41" r="2.3"/><circle cx="478.37" cy="370.88" r="2.3"/><circle cx="474.14" cy="373.48" r="2.3"/><circle cx="477.71" cy="364.13" r="2.3"/><circle cx="478.65" cy="367.82" r="2.3"/><circle cx="474.43" cy="369.18" r="2.3"/><circle cx="477.84" cy="373.57" r="2.3"/><circle cx="476.17" cy="371.29" r="2.3"/><circle cx="476.77" cy="371.23" r="2.3"/><circle cx="474.72" cy="372.81" r="2.3"/><circle cx="478.85" cy="371.79" r="2.3"/><circle cx="477.96" cy="368.65" r="2.3"/><circle cx="476.67" cy="379.03" r="2.3"/><circle cx="474.27" cy="373.28" r="2.3"/><circle cx="478.01" cy="373.64" r="2.3"/><circle cx="474.46" cy="365.02" r="2.3"/><circle cx="477.88" cy="375.01" r="2.3"/><circle cx="478.65" cy="361.68" r="2.3"/><circle cx="477.76" cy="361.96" r="2.3"/><circle cx="475.17" cy="369.71" r="2.3"/><circle cx="474.61" cy="371.75" r="2.3"/><circle cx="473.91" cy="380.81" r="2.3"/><circle cx="475.37" cy="374.25" r="2.3"/><circle cx="475.18" cy="372.85" r="2.3"/><circle cx="475.05" cy="380.81" r="2.3"/><circle cx="478.73" cy="361.19" r="2.3"/><circle cx="477.64" cy="369.35" r="2.3"/><circle cx="477.82" cy="361.19" r="2.3"/><circle cx="477.47" cy="380.81" r="2.3"/><circle cx="475.14" cy="371.22" r="2.3"/><circle cx="474.32" cy="369.05" r="2.3"/><circle cx="475.42" cy="380.81" r="2.3"/><circle cx="475.49" cy="376.6" r="2.3"/><circle cx="475.22" cy="370.19" r="2.3"/><circle cx="474.26" cy="367.77" r="2.3"/><circle cx="476.38" cy="374" r="2.3"/><circle cx="474.95" cy="368.9" r="2.3"/><circle cx="475.58" cy="364.34" r="2.3"/><circle cx="475.9" cy="368.36" r="2.3"/><circle cx="476.47" cy="362.98" r="2.3"/></g>
<g fill="rgb(66,66,66)" fill-opacity="0.26"><circle cx="468.83" cy="371.06" r="2.3"/><circle cx="473.11" cy="373.06" r="2.3"/><circle cx="472.41" cy="379.94" r="2.3"/><circle cx="471.83" cy="361.79" r="2.3"/><circle cx="471.95" cy="375.72" r="2.3"/><circle cx="471.33" cy="374.1" r="2.3"/><circle cx="471.91" cy="364.2" r="2.3"/><circle cx="471.95" cy="372.31" r="2.3"/><circle cx="470.62" cy="367.26" r="2.3"/><circle cx="468.85" cy="370.77" r="2.3"/><circle cx="472.62" cy="371.4" r="2.3"/><circle cx="472.25" cy="368.11" r="2.3"/><circle cx="469.89" cy="364.08" r="2.3"/><circle cx="471.05" cy="369.12" r="2.3"/><circle cx="470.43" cy="377.33" r="2.3"/><circle cx="469.34" cy="377.72" r="2.3"/><circle cx="470.67" cy="378.8" r="2.3"/><circle cx="470.8" cy="373.77" r="2.3"/><circle cx="472.47" cy="369.4" r="2.3"/><circle cx="469.29" cy="371.57" r="2.3"/><circle cx="472.69" cy="367.02" r="2.3"/><circle cx="472.01" cy="366.43" r="2.3"/><circle cx="469.99" cy="374.52" r="2.3"/><circle cx="471.02" cy="367.33" r="2.3"/><circle cx="472.55" cy="371.03" r="2.3"/><circle cx="473.8" cy="372.54" r="2.3"/><circle cx="468.9" cy="373.41" r="2.3"/><circle cx="472.21" cy="367" r="2.3"/><circle cx="473.67" cy="364.5" r="2.3"/><circle cx="469.74" cy="367.9" r="2.3"/><circle cx="468.96" cy="380.56" r="2.3"/><circle cx="469.46" cy="366.71" r="2.3"/><circle cx="473.12" cy="366.88" r="2.3"/><circle cx="472.06" cy="367.77" r="2.3"/><circle cx="471.07" cy="375.04" r="2.3"/><circle cx="471.31" cy="368.94" r="2.3"/><circle cx="471.66" cy="375.43" r="2.3"/><circle cx="469.16" cy="367.14" r="2.3"/><circle cx="472.4" cy="369.73" r="2.3"/><circle cx="472.12" cy="369.73" r="2.3"/><circle cx="473.07" cy="368.1" r="2.3"/><circle cx="471.62" cy="371.34" r="2.3"/><circle cx="469.11" cy="370.35" r="2.3"/><circle cx="469.25" cy="369.85" r="2.3"/><circle cx="471.69" cy="371.55" r="2.3"/><circle cx="473.53" cy="368.52" r="2.3"/><circle cx="473.13" cy="380.67" r="2.3"/><circle cx="473.15" cy="371.52" r="2.3"/><circle cx="473.67" cy="367.17" r="2.3"/><circle cx="469.43" cy="374.52" r="2.3"/><circle cx="471.21" cy="368.46" r="2.3"/><circle cx="473.53" cy="361.33" r="2.3"/><circle cx="472.92" cy="376.61" r="2.3"/><circle cx="470.5" cy="372.8" r="2.3"/><circle cx="471.13" cy="365.13" r="2.3"/><circle cx="473.45" cy="370.75" r="2.3"/><circle cx="469.85" cy="377.88" r="2.3"/><circle cx="473.55" cy="372.99" r="2.3"/><circle cx="470.85" cy="363.48" r="2.3"/><circle cx="472.68" cy="372.55" r="2.3"/><circle cx="471.73" cy="371.5" r="2.3"/><circle cx="473.39" cy="368.31" r="2.3"/><circle cx="469.44" cy="366.83" r="2.3"/><circle cx="471.2" cy="371.27" r="2.3"/><circle cx="470.55" cy="375.76" r="2.3"/><circle cx="472.84" cy="373.07" r="2.3"/><circle cx="470.46" cy="368.92" r="2.3"/><circle cx="470.39" cy="371.79" r="2.3"/><circle cx="469" cy="367.72" r="2.3"/><circle cx="469.3" cy="376.09" r="2.3"/><circle cx="473.59" cy="363.37" r="2.3"/><circle cx="470.35" cy="375.71" r="2.3"/><circle cx="473.2" cy="371.99" r="2.3"/><circle cx="469.81" cy="378.63" r="2.3"/></g>
<g fill="rgb(48,48,48)" fill-opacity="0.28"><circle cx="466.5" cy="373.1" r="2.3"/><circle cx="464.77" cy="374.9" r="2.3"/><circle cx="467.31" cy="372.76" r="2.3"/><circle cx="464.77" cy="368.79" r="2.3"/><circle cx="467.47" cy="371.15" r="2.3"/><circle cx="465.64" cy="369.63" r="2.3"/><circle cx="465.04" cy="367.92" r="2.3"/><circle cx="467.41" cy="366.72" r="2.3"/><circle cx="468.62" cy="372.83" r="2.3"/><circle cx="462.64" cy="376.06" r="2.3"/><circle cx="467.61" cy="366.99" r="2.3"/><circle cx="464.83" cy="369.16" r="2.3"/><circle cx="468.43" cy="375.41" r="2.3"/><circle cx="466.68" cy="375.6" r="2.3"/><circle cx="465.6" cy="374.64" r="2.3"/><circle cx="467.75" cy="372.17" r="2.3"/><circle cx="468.5" cy="370.39" r="2.3"/><circle cx="468.38" cy="369.04" r="2.3"/><circle cx="464.34" cy="376.74" r="2.3"/><circle cx="467.23" cy="370.59" r="2.3"/><circle cx="466.6" cy="365.55" r="2.3"/><circle cx="467.96" cy="377.56" r="2.3"/><circle cx="466.22" cy="368.31" r="2.3"/><circle cx="465.89" cy="371.59" r="2.3"/><circle cx="468.29" cy="368.56" r="2.3"/><circle cx="463.82" cy="371.87" r="2.3"/><circle cx="468.22" cy="367.35" r="2.3"/><circle cx="463.21" cy="368.66" r="2.3"/><circle cx="466.88" cy="373.73" r="2.3"/></g>
<g fill="#ee2222" fill-opacity="0.5" stroke="#4a1010" stroke-width="0.45" stroke-opacity="0.8"><circle cx="503.72" cy="325.23" r="2.3"/><circle cx="495.6" cy="337.3" r="2.3"/><circle cx="491.25" cy="346.35" r="2.3"/><circle cx="501.4" cy="348.37" r="2.3"/><circle cx="508.65" cy="357.92" r="2.3"/><circle cx="489.22" cy="350.38" r="2.3"/><circle cx="484.58" cy="349.87" r="2.3"/><circle cx="486.9" cy="353.39" r="2.3"/><circle cx="507.2" cy="384.58" r="2.3"/><circle cx="503.14" cy="390.62" r="2.3"/><circle cx="498.5" cy="397.66" r="2.3"/><circle cx="504.01" cy="397.16" r="2.3"/><circle cx="505.17" cy="401.18" r="2.3"/><circle cx="495.6" cy="399.17" r="2.3"/><circle cx="499.95" cy="408.73" r="2.3"/><circle cx="514.45" cy="403.69" r="2.3"/><circle cx="532.72" cy="388.1" r="2.3"/><circle cx="542.58" cy="386.09" r="2.3"/><circle cx="486.32" cy="392.63" r="2.3"/><circle cx="494.15" cy="387.1" r="2.3"/><circle cx="491.25" cy="384.08" r="2.3"/><circle cx="474.38" cy="359.49" r="2.3"/><circle cx="487.4" cy="358.72" r="2.3"/><circle cx="483.94" cy="357.92" r="2.3"/><circle cx="482.49" cy="359.05" r="2.3"/><circle cx="483.18" cy="360.18" r="2.3"/><circle cx="483.1" cy="355.68" r="2.3"/><circle cx="485.79" cy="357.22" r="2.3"/><circle cx="475.91" cy="355.8" r="2.3"/><circle cx="480.63" cy="357.51" r="2.3"/><circle cx="483.55" cy="357.34" r="2.3"/><circle cx="484.99" cy="356.82" r="2.3"/><circle cx="486.67" cy="359.22" r="2.3"/><circle cx="482.97" cy="357.15" r="2.3"/><circle cx="483.67" cy="359.39" r="2.3"/><circle cx="474.16" cy="360.57" r="2.3"/><circle cx="481.1" cy="357.33" r="2.3"/><circle cx="472.63" cy="357.6" r="2.3"/><circle cx="482.44" cy="360.28" r="2.3"/><circle cx="485.75" cy="360.07" r="2.3"/><circle cx="477.1" cy="358.61" r="2.3"/><circle cx="482.08" cy="383.46" r="2.3"/><circle cx="481.23" cy="384.77" r="2.3"/><circle cx="477.96" cy="383.61" r="2.3"/><circle cx="485.48" cy="383.51" r="2.3"/><circle cx="485.52" cy="387.37" r="2.3"/><circle cx="483.65" cy="384.18" r="2.3"/><circle cx="486.53" cy="382.69" r="2.3"/><circle cx="486.05" cy="386.24" r="2.3"/><circle cx="481.91" cy="386.69" r="2.3"/><circle cx="478.72" cy="382.18" r="2.3"/><circle cx="470.66" cy="383.69" r="2.3"/><circle cx="479.89" cy="385.89" r="2.3"/><circle cx="475.79" cy="383.91" r="2.3"/><circle cx="480.3" cy="386.8" r="2.3"/><circle cx="477.5" cy="384.6" r="2.3"/><circle cx="473.67" cy="382.66" r="2.3"/><circle cx="476.52" cy="383.67" r="2.3"/><circle cx="483.37" cy="384.61" r="2.3"/><circle cx="478.94" cy="383.85" r="2.3"/><circle cx="486.28" cy="384.79" r="2.3"/><circle cx="476.92" cy="382.25" r="2.3"/><circle cx="484.08" cy="381.87" r="2.3"/></g>
</g>
<line x1="486.9" y1="321.5" x2="486.9" y2="412.8" stroke="#333" stroke-width="1.2" stroke-dasharray="3.2 2.2"/>
<line x1="460.2" y1="360.94" x2="547.2" y2="360.94" stroke="#333" stroke-width="1.2" stroke-dasharray="3.2 2.2"/>
<line x1="460.2" y1="381.06" x2="547.2" y2="381.06" stroke="#333" stroke-width="1.2" stroke-dasharray="3.2 2.2"/>
<rect x="460.2" y="321.5" width="87" height="91.3" fill="none" stroke="#333" stroke-width="0.9"/>
<line x1="458.2" y1="345.85" x2="460.2" y2="345.85" stroke="#333" stroke-width="0.8"/>
<text x="457.8" y="349.02" font-size="8.8" fill="#4d4d4d" text-anchor="end">5</text>
<line x1="458.2" y1="371" x2="460.2" y2="371" stroke="#333" stroke-width="0.8"/>
<text x="457.8" y="374.17" font-size="8.8" fill="#4d4d4d" text-anchor="end">0</text>
<line x1="458.2" y1="396.15" x2="460.2" y2="396.15" stroke="#333" stroke-width="0.8"/>
<text x="457.8" y="399.32" font-size="8.8" fill="#4d4d4d" text-anchor="end">−5</text>
<line x1="481.1" y1="412.8" x2="481.1" y2="414.8" stroke="#333" stroke-width="0.8"/>
<text x="481.1" y="424.4" font-size="8.8" fill="#4d4d4d" text-anchor="middle">0</text>
<line x1="510.1" y1="412.8" x2="510.1" y2="414.8" stroke="#333" stroke-width="0.8"/>
<text x="510.1" y="424.4" font-size="8.8" fill="#4d4d4d" text-anchor="middle">10</text>
<line x1="539.1" y1="412.8" x2="539.1" y2="414.8" stroke="#333" stroke-width="0.8"/>
<text x="539.1" y="424.4" font-size="8.8" fill="#4d4d4d" text-anchor="middle">20</text>
<text transform="translate(484.4,333.2) rotate(-90)" font-size="8.4" fill="#222" text-anchor="middle">μ = 2</text>
<text x="519.3" y="356.6" font-size="9" fill="#222" textLength="21.2" lengthAdjust="spacingAndGlyphs">Δ = 2</text>
<text x="518.2" y="377.5" font-size="9" fill="#222" textLength="24.3" lengthAdjust="spacingAndGlyphs">Δ = -2</text>
<text transform="translate(444.3,385.2) rotate(-90)" font-size="14" fill="#222">Δ</text>
<text transform="translate(449.7,375.25) rotate(-90)" font-size="8.5" fill="#222" textLength="12.8" lengthAdjust="spacingAndGlyphs">TCS</text>
<text x="494" y="436.2" font-size="13" fill="#222">μ</text>
<text x="502.09" y="439.8" font-size="9.2" fill="#222" textLength="12.4" lengthAdjust="spacingAndGlyphs">TCS</text>
<text x="571" y="330.7" font-size="25.22" fill="#111" font-weight="bold" textLength="6.75" lengthAdjust="spacingAndGlyphs">I</text>
<path d="M601.08 369.92L604.9 370.01L608.72 370.03L612.54 369.99L616.35 369.89L620.17 369.73L623.99 369.52L627.81 369.24L631.63 368.9L635.44 368.5L639.26 368.03L643.08 367.51L646.9 366.93L650.71 366.29L654.53 365.59L658.35 364.82L662.17 364L665.99 363.12L669.8 362.17L673.62 361.17L677.44 360.1L677.44 368.67L673.62 368.54L669.8 368.46L665.99 368.45L662.17 368.5L658.35 368.61L654.53 368.78L650.71 369.01L646.9 369.3L643.08 369.65L639.26 370.06L635.44 370.53L631.63 371.06L627.81 371.66L623.99 372.31L620.17 373.02L616.35 373.8L612.54 374.63L608.72 375.53L604.9 376.48L601.08 377.5Z" fill="#c4c4c4" fill-opacity="0.8"/>
<g fill="#000" fill-opacity="0.3"><circle cx="637.86" cy="369.39" r="2.3"/><circle cx="645.3" cy="374.09" r="2.3"/><circle cx="643.28" cy="377.15" r="2.3"/><circle cx="636.82" cy="370.34" r="2.3"/><circle cx="645.89" cy="366.89" r="2.3"/><circle cx="634.05" cy="361.89" r="2.3"/><circle cx="649.17" cy="369.94" r="2.3"/><circle cx="642.92" cy="370.08" r="2.3"/><circle cx="639.32" cy="366.95" r="2.3"/><circle cx="629.54" cy="370.4" r="2.3"/><circle cx="631" cy="376.02" r="2.3"/><circle cx="635.1" cy="380.67" r="2.3"/><circle cx="628.18" cy="369.77" r="2.3"/><circle cx="642.59" cy="362.78" r="2.3"/><circle cx="635.06" cy="365.48" r="2.3"/><circle cx="648.88" cy="359.42" r="2.3"/><circle cx="628.81" cy="380.84" r="2.3"/><circle cx="640.95" cy="360.95" r="2.3"/><circle cx="638.05" cy="363.31" r="2.3"/><circle cx="639.88" cy="367" r="2.3"/><circle cx="640.23" cy="366.93" r="2.3"/><circle cx="635.34" cy="358.9" r="2.3"/><circle cx="644.47" cy="370.33" r="2.3"/><circle cx="636.28" cy="375.04" r="2.3"/><circle cx="641.48" cy="375.98" r="2.3"/><circle cx="635.95" cy="364.98" r="2.3"/><circle cx="642.02" cy="364.5" r="2.3"/><circle cx="630.19" cy="366.27" r="2.3"/><circle cx="637.3" cy="361.38" r="2.3"/><circle cx="636.34" cy="359.6" r="2.3"/><circle cx="641.04" cy="363.75" r="2.3"/><circle cx="635.55" cy="371.62" r="2.3"/><circle cx="635.59" cy="363.63" r="2.3"/><circle cx="635.17" cy="370.06" r="2.3"/><circle cx="646.16" cy="363.83" r="2.3"/><circle cx="636.46" cy="367.48" r="2.3"/><circle cx="628.67" cy="379.53" r="2.3"/><circle cx="641.17" cy="352.34" r="2.3"/><circle cx="651.89" cy="351.09" r="2.3"/><circle cx="642.09" cy="370.72" r="2.3"/><circle cx="645.48" cy="373.69" r="2.3"/><circle cx="618.77" cy="370.95" r="2.3"/><circle cx="645.24" cy="362.98" r="2.3"/><circle cx="648.76" cy="361.79" r="2.3"/><circle cx="640.57" cy="374.08" r="2.3"/><circle cx="637.33" cy="375.58" r="2.3"/><circle cx="635.71" cy="358.49" r="2.3"/><circle cx="639.64" cy="366.19" r="2.3"/><circle cx="633.5" cy="355.05" r="2.3"/><circle cx="624.73" cy="377.17" r="2.3"/><circle cx="644.65" cy="371.38" r="2.3"/><circle cx="632.81" cy="367.09" r="2.3"/><circle cx="643.3" cy="363.57" r="2.3"/><circle cx="632.39" cy="365.8" r="2.3"/><circle cx="629.99" cy="375.85" r="2.3"/><circle cx="631.44" cy="368.44" r="2.3"/><circle cx="635.82" cy="374.64" r="2.3"/><circle cx="638.43" cy="374.42" r="2.3"/><circle cx="634.78" cy="371.27" r="2.3"/><circle cx="634.35" cy="375.3" r="2.3"/><circle cx="629.73" cy="364.49" r="2.3"/><circle cx="624.16" cy="370.37" r="2.3"/><circle cx="632.74" cy="374" r="2.3"/><circle cx="626.09" cy="371.76" r="2.3"/><circle cx="634.44" cy="363.57" r="2.3"/><circle cx="634.37" cy="375.78" r="2.3"/><circle cx="630.05" cy="365.21" r="2.3"/><circle cx="642.08" cy="369.72" r="2.3"/><circle cx="649.49" cy="364.44" r="2.3"/><circle cx="636.21" cy="366.22" r="2.3"/><circle cx="630.73" cy="369.9" r="2.3"/><circle cx="630.52" cy="367.26" r="2.3"/><circle cx="642.52" cy="368.25" r="2.3"/><circle cx="645.54" cy="370.89" r="2.3"/><circle cx="641.88" cy="368.49" r="2.3"/><circle cx="630.36" cy="366.66" r="2.3"/><circle cx="649.76" cy="348.34" r="2.3"/><circle cx="638.84" cy="365.79" r="2.3"/><circle cx="649.83" cy="371.82" r="2.3"/><circle cx="648.53" cy="375.6" r="2.3"/><circle cx="630.36" cy="371.83" r="2.3"/><circle cx="635.61" cy="363.81" r="2.3"/><circle cx="630.95" cy="371.14" r="2.3"/><circle cx="635.84" cy="368.32" r="2.3"/><circle cx="642.39" cy="362.38" r="2.3"/><circle cx="640.4" cy="365.97" r="2.3"/><circle cx="638.56" cy="377.45" r="2.3"/><circle cx="625.8" cy="369.63" r="2.3"/><circle cx="628.78" cy="375.42" r="2.3"/><circle cx="639.7" cy="370.3" r="2.3"/><circle cx="632.78" cy="375.1" r="2.3"/><circle cx="638.47" cy="360.29" r="2.3"/><circle cx="626.67" cy="372.84" r="2.3"/><circle cx="644.75" cy="365.6" r="2.3"/><circle cx="634.15" cy="369.47" r="2.3"/><circle cx="641" cy="362.24" r="2.3"/><circle cx="627.35" cy="376.17" r="2.3"/><circle cx="640.09" cy="365.76" r="2.3"/><circle cx="639.87" cy="365.94" r="2.3"/><circle cx="644.22" cy="364.62" r="2.3"/><circle cx="655.69" cy="368.28" r="2.3"/><circle cx="635.79" cy="377.49" r="2.3"/><circle cx="642.27" cy="366.33" r="2.3"/><circle cx="637.15" cy="375.43" r="2.3"/><circle cx="651.57" cy="363.08" r="2.3"/><circle cx="643.83" cy="374.94" r="2.3"/><circle cx="640.49" cy="365.28" r="2.3"/><circle cx="649.94" cy="362.51" r="2.3"/><circle cx="645.49" cy="375.73" r="2.3"/><circle cx="636.8" cy="368.51" r="2.3"/><circle cx="637.56" cy="370.45" r="2.3"/><circle cx="636.09" cy="361.8" r="2.3"/><circle cx="635.34" cy="365.17" r="2.3"/><circle cx="642.93" cy="369.54" r="2.3"/><circle cx="639.18" cy="381.92" r="2.3"/><circle cx="634.09" cy="363.46" r="2.3"/><circle cx="633.93" cy="381.36" r="2.3"/><circle cx="644.82" cy="374.43" r="2.3"/><circle cx="647.39" cy="366.66" r="2.3"/><circle cx="629.38" cy="374.71" r="2.3"/><circle cx="648.83" cy="365.07" r="2.3"/><circle cx="637.63" cy="367.92" r="2.3"/><circle cx="637.03" cy="372.62" r="2.3"/><circle cx="642.44" cy="359.33" r="2.3"/><circle cx="638.8" cy="359.54" r="2.3"/><circle cx="645.76" cy="375.47" r="2.3"/><circle cx="642.99" cy="359.94" r="2.3"/><circle cx="624.48" cy="375.19" r="2.3"/><circle cx="641.31" cy="373.01" r="2.3"/><circle cx="638.13" cy="370.7" r="2.3"/><circle cx="631.47" cy="371.48" r="2.3"/><circle cx="634.76" cy="370.36" r="2.3"/><circle cx="637.24" cy="373.44" r="2.3"/><circle cx="631.93" cy="374.39" r="2.3"/><circle cx="640.68" cy="374.57" r="2.3"/><circle cx="646.5" cy="372.48" r="2.3"/><circle cx="650.21" cy="367.86" r="2.3"/><circle cx="634.24" cy="373.37" r="2.3"/><circle cx="640.61" cy="367.79" r="2.3"/><circle cx="631.26" cy="369.93" r="2.3"/><circle cx="640.8" cy="367.45" r="2.3"/><circle cx="646.47" cy="381.27" r="2.3"/><circle cx="636.16" cy="373.18" r="2.3"/><circle cx="640.87" cy="357.44" r="2.3"/><circle cx="628.4" cy="376.11" r="2.3"/><circle cx="636.27" cy="364.01" r="2.3"/><circle cx="645.09" cy="371.26" r="2.3"/><circle cx="643.88" cy="367.74" r="2.3"/><circle cx="645.1" cy="366.58" r="2.3"/><circle cx="641.95" cy="367.65" r="2.3"/><circle cx="632.28" cy="375.38" r="2.3"/><circle cx="641.57" cy="371.88" r="2.3"/><circle cx="631.49" cy="371.5" r="2.3"/><circle cx="641.42" cy="364.21" r="2.3"/><circle cx="633.5" cy="370.66" r="2.3"/><circle cx="642.06" cy="371.38" r="2.3"/><circle cx="644.81" cy="366.15" r="2.3"/><circle cx="631.45" cy="366.68" r="2.3"/><circle cx="636.28" cy="360.17" r="2.3"/><circle cx="637.2" cy="360.22" r="2.3"/><circle cx="653.82" cy="361.47" r="2.3"/><circle cx="641.92" cy="369.67" r="2.3"/><circle cx="639.25" cy="363.64" r="2.3"/><circle cx="652.11" cy="358.1" r="2.3"/><circle cx="632.99" cy="362.43" r="2.3"/><circle cx="633.72" cy="359.19" r="2.3"/><circle cx="646.71" cy="363.53" r="2.3"/><circle cx="630.18" cy="366.82" r="2.3"/><circle cx="633.88" cy="373.78" r="2.3"/><circle cx="637.57" cy="377.89" r="2.3"/><circle cx="638.82" cy="366.36" r="2.3"/><circle cx="644.26" cy="370.6" r="2.3"/><circle cx="634.93" cy="361.81" r="2.3"/><circle cx="646.7" cy="376.13" r="2.3"/><circle cx="642.02" cy="362.05" r="2.3"/><circle cx="633.49" cy="364.2" r="2.3"/><circle cx="636.52" cy="371.24" r="2.3"/><circle cx="629.9" cy="363.04" r="2.3"/><circle cx="631.39" cy="389" r="2.3"/><circle cx="628.09" cy="375.73" r="2.3"/><circle cx="628.56" cy="363.27" r="2.3"/><circle cx="630.84" cy="373.89" r="2.3"/><circle cx="637.69" cy="365.91" r="2.3"/><circle cx="627.7" cy="382.23" r="2.3"/><circle cx="630.58" cy="368.17" r="2.3"/><circle cx="635.22" cy="366.78" r="2.3"/><circle cx="632.06" cy="365.32" r="2.3"/><circle cx="639.35" cy="368.69" r="2.3"/><circle cx="641.06" cy="366.59" r="2.3"/><circle cx="639.3" cy="377.33" r="2.3"/><circle cx="639.82" cy="369.37" r="2.3"/><circle cx="640.95" cy="366.83" r="2.3"/><circle cx="635.24" cy="366.93" r="2.3"/><circle cx="648.55" cy="363.1" r="2.3"/><circle cx="638.52" cy="367.75" r="2.3"/><circle cx="645.35" cy="370.64" r="2.3"/><circle cx="638.47" cy="370.56" r="2.3"/><circle cx="628.41" cy="366.62" r="2.3"/><circle cx="644.61" cy="368.72" r="2.3"/><circle cx="637.38" cy="365.22" r="2.3"/><circle cx="650.46" cy="365.92" r="2.3"/><circle cx="651.71" cy="357.35" r="2.3"/><circle cx="625.98" cy="371.97" r="2.3"/><circle cx="641.95" cy="368.9" r="2.3"/><circle cx="645.69" cy="364.55" r="2.3"/><circle cx="642.16" cy="368.72" r="2.3"/><circle cx="626.57" cy="369.21" r="2.3"/><circle cx="631.23" cy="365.58" r="2.3"/><circle cx="639.98" cy="351.78" r="2.3"/><circle cx="640.99" cy="377.95" r="2.3"/><circle cx="653.76" cy="361.8" r="2.3"/><circle cx="646.52" cy="358.39" r="2.3"/><circle cx="632.27" cy="375.49" r="2.3"/><circle cx="644.04" cy="373.01" r="2.3"/><circle cx="626.13" cy="375.22" r="2.3"/><circle cx="637.03" cy="365.12" r="2.3"/><circle cx="635.16" cy="373.2" r="2.3"/><circle cx="641.13" cy="367.15" r="2.3"/><circle cx="643.57" cy="374.34" r="2.3"/><circle cx="652.24" cy="371.67" r="2.3"/><circle cx="645.72" cy="361.45" r="2.3"/><circle cx="633.21" cy="370.15" r="2.3"/><circle cx="634.9" cy="365.6" r="2.3"/><circle cx="644.88" cy="366.85" r="2.3"/><circle cx="640" cy="371.88" r="2.3"/><circle cx="643.43" cy="363.4" r="2.3"/><circle cx="637.07" cy="374.18" r="2.3"/><circle cx="645.55" cy="371.79" r="2.3"/><circle cx="635.05" cy="373.43" r="2.3"/><circle cx="640.49" cy="368.08" r="2.3"/><circle cx="629.78" cy="373.19" r="2.3"/><circle cx="634.5" cy="364.14" r="2.3"/><circle cx="654.56" cy="354.86" r="2.3"/><circle cx="650.34" cy="356.46" r="2.3"/><circle cx="635.6" cy="370.86" r="2.3"/><circle cx="630.85" cy="364.14" r="2.3"/><circle cx="640.52" cy="372.71" r="2.3"/><circle cx="642.39" cy="367.29" r="2.3"/><circle cx="645.36" cy="367.61" r="2.3"/><circle cx="634.82" cy="368.91" r="2.3"/><circle cx="638.27" cy="363.16" r="2.3"/><circle cx="636.77" cy="370.97" r="2.3"/><circle cx="639.7" cy="374.78" r="2.3"/><circle cx="635.22" cy="364.93" r="2.3"/><circle cx="632.41" cy="363.85" r="2.3"/><circle cx="634.47" cy="370.73" r="2.3"/><circle cx="641.93" cy="366.96" r="2.3"/><circle cx="629.93" cy="379.6" r="2.3"/><circle cx="639.77" cy="373.73" r="2.3"/><circle cx="636.08" cy="365.76" r="2.3"/><circle cx="636.71" cy="372.2" r="2.3"/><circle cx="630.58" cy="369.87" r="2.3"/><circle cx="653.94" cy="370.2" r="2.3"/><circle cx="628.38" cy="373.3" r="2.3"/><circle cx="646.34" cy="368.35" r="2.3"/><circle cx="637.37" cy="369.31" r="2.3"/><circle cx="639.3" cy="373.73" r="2.3"/><circle cx="629.67" cy="370.93" r="2.3"/><circle cx="650.81" cy="375.09" r="2.3"/><circle cx="636.42" cy="370.66" r="2.3"/><circle cx="635.2" cy="368.65" r="2.3"/><circle cx="633.67" cy="365.18" r="2.3"/><circle cx="632.73" cy="378.05" r="2.3"/><circle cx="636.85" cy="365.69" r="2.3"/><circle cx="657.67" cy="365.07" r="2.3"/><circle cx="649.59" cy="374.65" r="2.3"/><circle cx="644.47" cy="359.01" r="2.3"/><circle cx="637.85" cy="363.47" r="2.3"/><circle cx="636.34" cy="371.78" r="2.3"/><circle cx="637.17" cy="364.86" r="2.3"/><circle cx="603.17" cy="352.29" r="2.3"/><circle cx="603.17" cy="358.59" r="2.3"/><circle cx="609.45" cy="388.83" r="2.3"/><circle cx="615.73" cy="391.98" r="2.3"/><circle cx="619.91" cy="395.76" r="2.3"/><circle cx="628.8" cy="327.09" r="2.3"/><circle cx="645.01" cy="330.87" r="2.3"/><circle cx="629.32" cy="345.36" r="2.3"/><circle cx="628.28" cy="352.92" r="2.3"/><circle cx="653.9" cy="344.1" r="2.3"/><circle cx="652.86" cy="350.4" r="2.3"/><circle cx="650.77" cy="358.59" r="2.3"/><circle cx="668.03" cy="383.16" r="2.3"/><circle cx="676.92" cy="383.16" r="2.3"/><circle cx="634.03" cy="407.73" r="2.3"/><circle cx="628.8" cy="398.91" r="2.3"/><circle cx="638.22" cy="395.76" r="2.3"/><circle cx="645.54" cy="392.61" r="2.3"/><circle cx="614.16" cy="373.71" r="2.3"/><circle cx="606.84" cy="378.75" r="2.3"/><circle cx="657.57" cy="382.53" r="2.3"/><circle cx="625.14" cy="355.44" r="2.3"/><circle cx="648.15" cy="386.94" r="2.3"/><circle cx="631.42" cy="360.48" r="2.3"/><circle cx="651.29" cy="355.44" r="2.3"/></g>
<line x1="601.08" y1="373.71" x2="677.44" y2="364.39" stroke="#f01212" stroke-width="1.9"/>
<rect x="597" y="324.7" width="84.1" height="86.1" fill="none" stroke="#333" stroke-width="0.9"/>
<line x1="595" y1="344.1" x2="597" y2="344.1" stroke="#333" stroke-width="0.8"/>
<text x="594" y="347.27" font-size="8.8" fill="#4d4d4d" text-anchor="end">0.4</text>
<line x1="595" y1="369.3" x2="597" y2="369.3" stroke="#333" stroke-width="0.8"/>
<text x="594" y="372.47" font-size="8.8" fill="#4d4d4d" text-anchor="end">0.0</text>
<line x1="595" y1="394.5" x2="597" y2="394.5" stroke="#333" stroke-width="0.8"/>
<text x="594" y="397.67" font-size="8.8" fill="#4d4d4d" text-anchor="end">−0.4</text>
<line x1="614.68" y1="410.8" x2="614.68" y2="412.8" stroke="#333" stroke-width="0.8"/>
<text x="614.68" y="421" font-size="8.8" fill="#4d4d4d" text-anchor="middle">−4</text>
<line x1="635.6" y1="410.8" x2="635.6" y2="412.8" stroke="#333" stroke-width="0.8"/>
<text x="635.6" y="421" font-size="8.8" fill="#4d4d4d" text-anchor="middle">0</text>
<line x1="656.52" y1="410.8" x2="656.52" y2="412.8" stroke="#333" stroke-width="0.8"/>
<text x="656.52" y="421" font-size="8.8" fill="#4d4d4d" text-anchor="middle">4</text>
<line x1="677.44" y1="410.8" x2="677.44" y2="412.8" stroke="#333" stroke-width="0.8"/>
<text x="677.44" y="421" font-size="8.8" fill="#4d4d4d" text-anchor="middle">8</text>
<text x="647.6" y="337.8" font-size="9.6" fill="#222" font-style="italic">ρ</text>
<text x="652.8" y="337.8" font-size="9.6" fill="#222" textLength="26.6" lengthAdjust="spacingAndGlyphs">=0.206</text>
<text transform="translate(571,399.4) rotate(-90)" font-size="14" fill="#222">Δ</text>
<text transform="translate(577.6,389.45) rotate(-90)" font-size="9" fill="#222" textLength="40.6" lengthAdjust="spacingAndGlyphs">LogRichness</text>
<text x="629" y="437" font-size="13" fill="#222">Δ</text>
<text x="638.28" y="440.6" font-size="9.4" fill="#222" textLength="15.1" lengthAdjust="spacingAndGlyphs">PCS</text></svg>
</body></html>
